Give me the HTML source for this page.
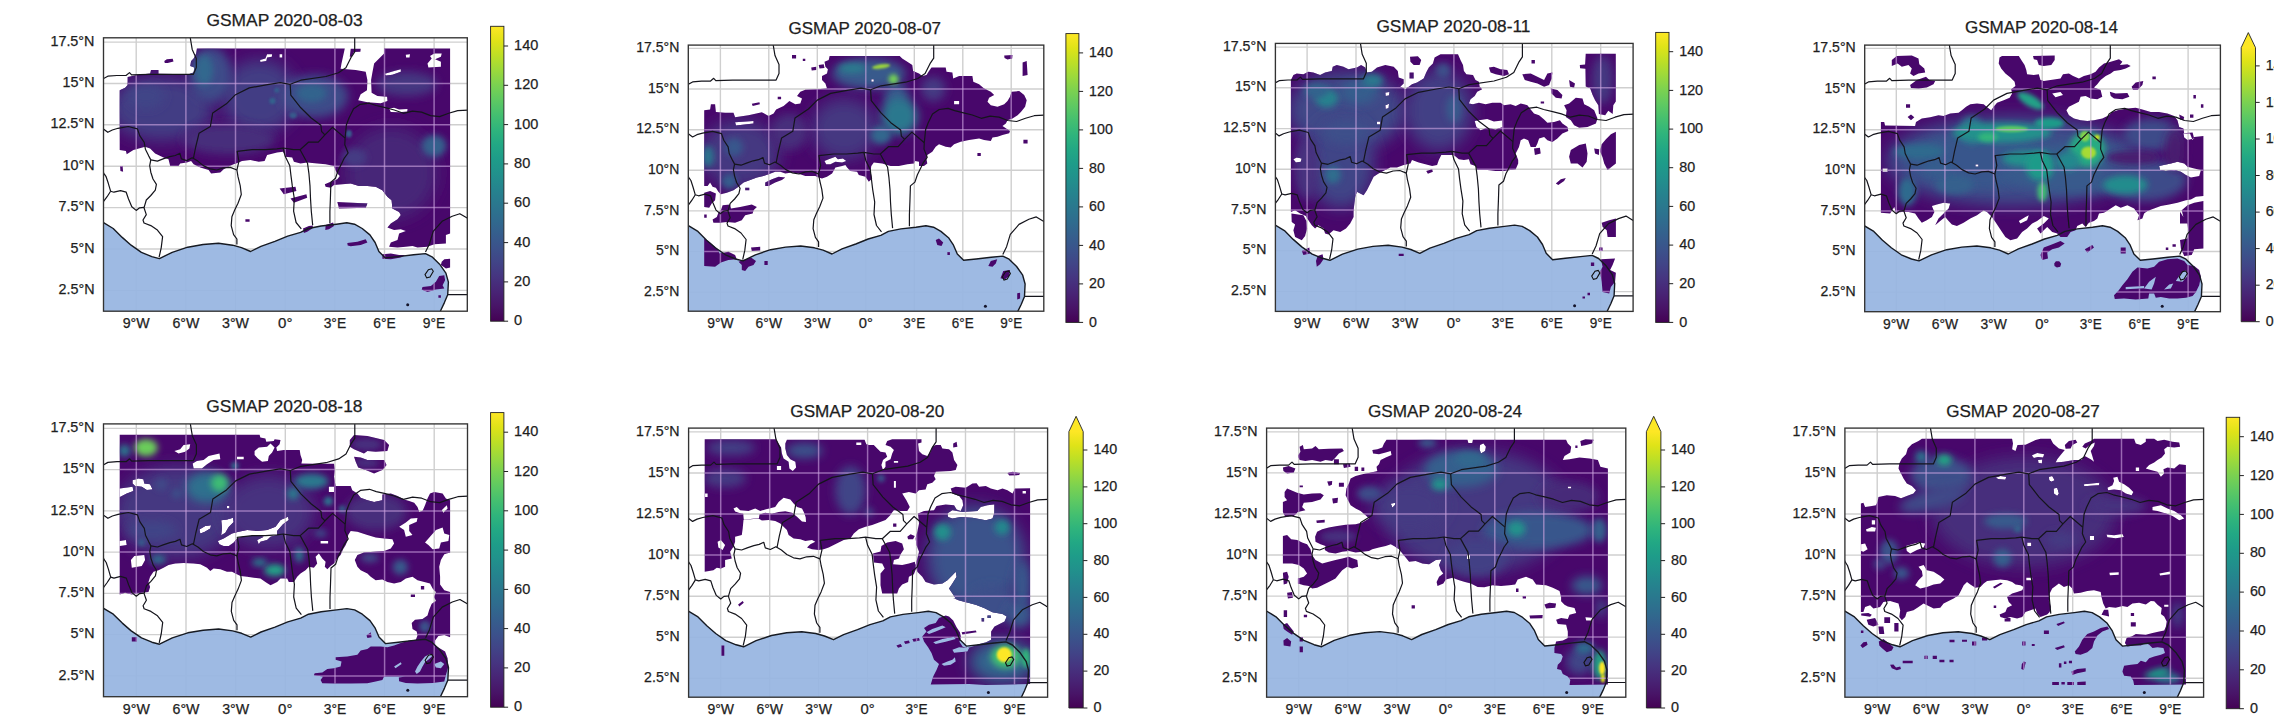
<!DOCTYPE html>
<html><head><meta charset="utf-8"><title>GSMAP</title>
<style>html,body{margin:0;padding:0;background:#fff}svg{display:block}text{font-family:"Liberation Sans",sans-serif;fill:#1e1e1e;stroke:#1e1e1e;stroke-width:0.25px}</style>
</head><body>
<svg width="2274" height="718" viewBox="0 0 2274 718">
<defs>
<linearGradient id="vg" x1="0" y1="1" x2="0" y2="0"><stop offset="0%" stop-color="#440154"/><stop offset="5%" stop-color="#481467"/><stop offset="10%" stop-color="#482475"/><stop offset="15%" stop-color="#463480"/><stop offset="20%" stop-color="#414487"/><stop offset="25%" stop-color="#3b528b"/><stop offset="30%" stop-color="#355f8d"/><stop offset="35%" stop-color="#2f6c8e"/><stop offset="40%" stop-color="#2a788e"/><stop offset="45%" stop-color="#25848e"/><stop offset="50%" stop-color="#21918c"/><stop offset="55%" stop-color="#1e9c89"/><stop offset="60%" stop-color="#22a884"/><stop offset="65%" stop-color="#2fb47c"/><stop offset="70%" stop-color="#44bf70"/><stop offset="75%" stop-color="#5ec962"/><stop offset="80%" stop-color="#7ad151"/><stop offset="85%" stop-color="#9bd93c"/><stop offset="90%" stop-color="#bddf26"/><stop offset="95%" stop-color="#dfe318"/><stop offset="100%" stop-color="#fde725"/></linearGradient>
<filter id="bl2" x="-50%" y="-50%" width="200%" height="200%"><feGaussianBlur stdDeviation="1.2"/></filter>
<filter id="bl3" x="-50%" y="-50%" width="200%" height="200%"><feGaussianBlur stdDeviation="1.9"/></filter>
<filter id="bl5" x="-50%" y="-50%" width="200%" height="200%"><feGaussianBlur stdDeviation="3"/></filter>
<filter id="bl8" x="-50%" y="-50%" width="200%" height="200%"><feGaussianBlur stdDeviation="5"/></filter>
<filter id="bl12" x="-50%" y="-50%" width="200%" height="200%"><feGaussianBlur stdDeviation="8"/></filter>
</defs>
<rect width="2274" height="718" fill="#fff"/>
<g id="p1">
<clipPath id="ax1"><rect x="103.5" y="37.8" width="363.8" height="273.4"/></clipPath>
<g clip-path="url(#ax1)">
<g stroke="#cfcfcf" stroke-width="1.4"><line x1="136.2" y1="37.8" x2="136.2" y2="311.2"/><line x1="185.9" y1="37.8" x2="185.9" y2="311.2"/><line x1="235.5" y1="37.8" x2="235.5" y2="311.2"/><line x1="285.2" y1="37.8" x2="285.2" y2="311.2"/><line x1="334.9" y1="37.8" x2="334.9" y2="311.2"/><line x1="384.5" y1="37.8" x2="384.5" y2="311.2"/><line x1="434.1" y1="37.8" x2="434.1" y2="311.2"/><line x1="103.5" y1="290.4" x2="467.3" y2="290.4"/><line x1="103.5" y1="249" x2="467.3" y2="249"/><line x1="103.5" y1="207.6" x2="467.3" y2="207.6"/><line x1="103.5" y1="166.2" x2="467.3" y2="166.2"/><line x1="103.5" y1="124.8" x2="467.3" y2="124.8"/><line x1="103.5" y1="83.5" x2="467.3" y2="83.5"/><line x1="103.5" y1="42.1" x2="467.3" y2="42.1"/></g>
<path d="M99.8,220.8 L103.5,222.7 L113.2,228.5 L122.2,237.4 L131.1,245.2 L141.4,252.3 L151.8,256.6 L159.4,258.6 L172.2,252.3 L187.7,247.2 L203.1,244.5 L218.5,243.3 L232.6,245.2 L241.5,247.7 L250.6,251.5 L260.9,246.3 L274.9,241.4 L287.7,236.2 L300.6,232.4 L308.4,228.5 L321.1,226 L336.5,224.2 L346.8,222.8 L354.5,224.2 L362.2,228.5 L369.9,234.9 L375.1,242.5 L378.9,251.5 L385.3,257.9 L398.2,256.6 L413.6,254.8 L425.5,253.6 L432,256.8 L439.6,264.2 L445.9,273.1 L448.4,282.1 L447.7,294.7 L444.4,302.6 L440.8,310.2 L439.1,315.2 L439.1,323.5 L94.9,323.5Z" fill="#98b6e1" fill-opacity="0.94"/>
<path d="M119.7,90.2 L125.1,87.7 L127.6,85.1 L127.6,77.1 L136.8,75.1 L150.1,73.4 L151.0,70.1 L158.5,70.1 L158.5,73.8 L188.6,74.3 L193.6,72.6 L194.4,67.6 L190.2,65.9 L191.1,60.9 L193.6,58.4 L196.1,53.4 L196.9,48.4 L344.8,48.4 L341.5,63.4 L340.6,68.8 L355.7,70.1 L365.7,71.8 L367.4,80.1 L367.0,90.2 L360.7,94.3 L358.2,100.2 L367.4,102.2 L380.7,103.2 L387.4,101.0 L387.1,96.8 L377.4,96.0 L371.6,92.7 L371.1,80.1 L372.4,72.6 L374.1,63.4 L379.1,58.4 L384.1,53.4 L384.1,48.4 L450.1,48.4 L450.1,233.4 L445.9,235.1 L445.9,243.4 L434.2,244.2 L427.5,246.8 L417.5,247.6 L412.5,245.9 L405.8,246.8 L397.5,247.6 L389.1,246.8 L390.8,242.6 L397.5,240.1 L399.1,233.4 L405.8,230.9 L400.8,229.2 L394.1,230.0 L387.4,227.5 L390.8,223.4 L397.5,219.2 L400.8,215.0 L399.1,211.9 L392.4,208.5 L391.6,200.2 L387.4,196.8 L382.4,190.2 L375.7,186.8 L367.4,186.0 L359.0,186.0 L350.7,183.5 L342.3,184.3 L334.0,185.1 L330.6,187.7 L325.6,186.8 L324.8,184.3 L330.6,181.8 L337.3,179.3 L339.8,176.0 L336.5,172.6 L334.0,165.9 L325.6,164.3 L317.2,163.4 L307.2,162.6 L300.5,163.4 L293.9,161.8 L292.2,157.6 L285.5,156.7 L283.0,151.7 L277.1,152.6 L267.1,155.1 L264.6,160.9 L258.8,161.8 L250.4,160.1 L242.0,160.9 L238.7,162.6 L233.7,164.3 L229.5,165.9 L223.7,169.3 L220.3,172.6 L211.1,173.4 L208.6,170.1 L200.3,167.6 L193.6,164.3 L191.1,160.9 L186.9,162.6 L180.2,163.4 L178.5,165.9 L170.2,165.9 L168.5,159.2 L163.5,157.6 L155.1,153.4 L150.1,148.4 L145.1,146.7 L133.4,150.1 L126.7,154.2 L125.9,150.9 L119.7,150.1Z M434.2,53.4 L441.7,53.4 L440.9,56.7 L435.1,59.2 L440.9,61.8 L440.9,66.8 L428.4,67.6 L427.5,63.4 L431.7,58.4 L430.0,55.9Z M405.8,54.7 L410.0,54.2 L409.5,57.6 L406.1,57.6Z M384.9,73.8 L394.1,70.9 L400.8,69.3 L400.8,71.8 L392.4,74.8 L385.8,75.5Z M389.1,108.5 L394.1,107.7 L399.1,109.4 L407.5,108.9 L407.2,111.6 L399.1,112.2 L390.8,111.9Z M267.1,54.2 L272.1,54.2 L271.8,56.7 L267.1,57.6 L266.3,60.9 L260.4,62.1 L260.1,60.1 L265.4,58.4Z M279.6,54.2 L282.2,54.2 L282.2,57.6 L279.6,57.6Z M350.7,48.7 L360.7,48.7 L360.4,51.7 L354.0,52.1 L351.5,56.7 L349.8,56.7Z M164.3,60.9 L166.8,59.2 L172.7,58.7 L173.5,61.4 L167.7,63.1 L164.8,63.1Z M382.4,254.3 L390.8,253.4 L399.1,255.1 L405.8,255.1 L400.8,257.6 L390.8,259.3 L382.4,258.8Z M444.3,259.3 L450.1,258.8 L450.1,267.6 L445.9,268.5 L440.9,265.1 L441.7,261.8Z M439.2,276.0 L444.3,275.2 L445.1,280.2 L442.6,285.2 L444.3,288.5 L435.9,289.4 L427.5,291.9 L421.7,289.4 L422.5,286.9 L430.9,286.0 L435.9,281.8Z M347.3,243.1 L357.4,241.7 L365.7,239.2 L367.4,242.6 L360.7,245.1 L350.7,246.2 L347.7,245.6Z M303.0,228.4 L308.9,225.9 L313.1,225.4 L312.2,228.4 L307.2,231.7 L303.9,233.0Z M325.6,225.0 L333.1,222.5 L334.0,225.9 L328.9,229.2 L325.3,230.0Z M438.4,295.2 L440.9,295.2 L440.9,297.7 L438.4,297.7Z M245.4,219.2 L249.6,219.2 L249.6,221.7 L245.4,221.7Z M279.6,188.5 L295.5,186.8 L296.4,191.0 L283.8,194.3Z M290.5,198.5 L306.4,194.3 L307.2,197.7 L293.9,202.7Z M337.3,201.9 L367.4,203.5 L365.7,207.7 L339.0,208.5Z M120.1,165.9 L122.6,165.9 L123.1,171.8 L120.4,170.9Z" fill="#48076b" fill-rule="evenodd"/>
<clipPath id="bc1"><path d="M119.7,90.2 L125.1,87.7 L127.6,85.1 L127.6,77.1 L136.8,75.1 L150.1,73.4 L151.0,70.1 L158.5,70.1 L158.5,73.8 L188.6,74.3 L193.6,72.6 L194.4,67.6 L190.2,65.9 L191.1,60.9 L193.6,58.4 L196.1,53.4 L196.9,48.4 L344.8,48.4 L341.5,63.4 L340.6,68.8 L355.7,70.1 L365.7,71.8 L367.4,80.1 L367.0,90.2 L360.7,94.3 L358.2,100.2 L367.4,102.2 L380.7,103.2 L387.4,101.0 L387.1,96.8 L377.4,96.0 L371.6,92.7 L371.1,80.1 L372.4,72.6 L374.1,63.4 L379.1,58.4 L384.1,53.4 L384.1,48.4 L450.1,48.4 L450.1,233.4 L445.9,235.1 L445.9,243.4 L434.2,244.2 L427.5,246.8 L417.5,247.6 L412.5,245.9 L405.8,246.8 L397.5,247.6 L389.1,246.8 L390.8,242.6 L397.5,240.1 L399.1,233.4 L405.8,230.9 L400.8,229.2 L394.1,230.0 L387.4,227.5 L390.8,223.4 L397.5,219.2 L400.8,215.0 L399.1,211.9 L392.4,208.5 L391.6,200.2 L387.4,196.8 L382.4,190.2 L375.7,186.8 L367.4,186.0 L359.0,186.0 L350.7,183.5 L342.3,184.3 L334.0,185.1 L330.6,187.7 L325.6,186.8 L324.8,184.3 L330.6,181.8 L337.3,179.3 L339.8,176.0 L336.5,172.6 L334.0,165.9 L325.6,164.3 L317.2,163.4 L307.2,162.6 L300.5,163.4 L293.9,161.8 L292.2,157.6 L285.5,156.7 L283.0,151.7 L277.1,152.6 L267.1,155.1 L264.6,160.9 L258.8,161.8 L250.4,160.1 L242.0,160.9 L238.7,162.6 L233.7,164.3 L229.5,165.9 L223.7,169.3 L220.3,172.6 L211.1,173.4 L208.6,170.1 L200.3,167.6 L193.6,164.3 L191.1,160.9 L186.9,162.6 L180.2,163.4 L178.5,165.9 L170.2,165.9 L168.5,159.2 L163.5,157.6 L155.1,153.4 L150.1,148.4 L145.1,146.7 L133.4,150.1 L126.7,154.2 L125.9,150.9 L119.7,150.1Z M434.2,53.4 L441.7,53.4 L440.9,56.7 L435.1,59.2 L440.9,61.8 L440.9,66.8 L428.4,67.6 L427.5,63.4 L431.7,58.4 L430.0,55.9Z M405.8,54.7 L410.0,54.2 L409.5,57.6 L406.1,57.6Z M384.9,73.8 L394.1,70.9 L400.8,69.3 L400.8,71.8 L392.4,74.8 L385.8,75.5Z M389.1,108.5 L394.1,107.7 L399.1,109.4 L407.5,108.9 L407.2,111.6 L399.1,112.2 L390.8,111.9Z M267.1,54.2 L272.1,54.2 L271.8,56.7 L267.1,57.6 L266.3,60.9 L260.4,62.1 L260.1,60.1 L265.4,58.4Z M279.6,54.2 L282.2,54.2 L282.2,57.6 L279.6,57.6Z M350.7,48.7 L360.7,48.7 L360.4,51.7 L354.0,52.1 L351.5,56.7 L349.8,56.7Z M164.3,60.9 L166.8,59.2 L172.7,58.7 L173.5,61.4 L167.7,63.1 L164.8,63.1Z M382.4,254.3 L390.8,253.4 L399.1,255.1 L405.8,255.1 L400.8,257.6 L390.8,259.3 L382.4,258.8Z M444.3,259.3 L450.1,258.8 L450.1,267.6 L445.9,268.5 L440.9,265.1 L441.7,261.8Z M439.2,276.0 L444.3,275.2 L445.1,280.2 L442.6,285.2 L444.3,288.5 L435.9,289.4 L427.5,291.9 L421.7,289.4 L422.5,286.9 L430.9,286.0 L435.9,281.8Z M347.3,243.1 L357.4,241.7 L365.7,239.2 L367.4,242.6 L360.7,245.1 L350.7,246.2 L347.7,245.6Z M303.0,228.4 L308.9,225.9 L313.1,225.4 L312.2,228.4 L307.2,231.7 L303.9,233.0Z M325.6,225.0 L333.1,222.5 L334.0,225.9 L328.9,229.2 L325.3,230.0Z M438.4,295.2 L440.9,295.2 L440.9,297.7 L438.4,297.7Z M245.4,219.2 L249.6,219.2 L249.6,221.7 L245.4,221.7Z M279.6,188.5 L295.5,186.8 L296.4,191.0 L283.8,194.3Z M290.5,198.5 L306.4,194.3 L307.2,197.7 L293.9,202.7Z M337.3,201.9 L367.4,203.5 L365.7,207.7 L339.0,208.5Z M120.1,165.9 L122.6,165.9 L123.1,171.8 L120.4,170.9Z" clip-rule="evenodd"/></clipPath>
<g clip-path="url(#bc1)">
<ellipse cx="161.3" cy="108.6" rx="52.1" ry="32.2" fill="#433e84" filter="url(#bl12)"/>
<ellipse cx="259.4" cy="96.3" rx="38.3" ry="36.8" fill="#433e84" filter="url(#bl12)"/>
<ellipse cx="391.1" cy="172.9" rx="46" ry="46" fill="#472878" filter="url(#bl12)"/>
<ellipse cx="228.7" cy="139.2" rx="46" ry="15.3" fill="#472f7c" filter="url(#bl8)"/>
<ellipse cx="406.5" cy="84" rx="30.6" ry="12.3" fill="#453781" filter="url(#bl8)"/>
<ellipse cx="146" cy="96.3" rx="18.4" ry="12.3" fill="#414487" filter="url(#bl8)"/>
<ellipse cx="210.3" cy="74.8" rx="21.5" ry="27.6" fill="#3e4b89" filter="url(#bl8)"/>
<ellipse cx="314.5" cy="96.3" rx="33.7" ry="21.5" fill="#3e4b89" filter="url(#bl8)"/>
<ellipse cx="204.2" cy="70.2" rx="9.2" ry="15.3" fill="#31688e" filter="url(#bl5)"/>
<ellipse cx="311.5" cy="93.2" rx="15.3" ry="9.2" fill="#33648d" filter="url(#bl5)"/>
<ellipse cx="272.5" cy="100.9" rx="3.1" ry="3.1" fill="#34618d" filter="url(#bl2)"/>
<ellipse cx="276.8" cy="90.2" rx="2.5" ry="2.5" fill="#365d8d" filter="url(#bl2)"/>
<ellipse cx="293.1" cy="115.3" rx="3.7" ry="3.1" fill="#375a8c" filter="url(#bl2)"/>
<ellipse cx="434" cy="145.9" rx="12.3" ry="11" fill="#34618d" filter="url(#bl5)"/>
<ellipse cx="354.4" cy="157.6" rx="12.3" ry="9.2" fill="#443b83" filter="url(#bl5)"/>
<ellipse cx="348.9" cy="133.7" rx="3.1" ry="3.7" fill="#375a8c" filter="url(#bl2)"/>
<g stroke="rgba(205,165,225,0.62)" stroke-width="1.5"><line x1="136.2" y1="37.8" x2="136.2" y2="311.2"/><line x1="185.9" y1="37.8" x2="185.9" y2="311.2"/><line x1="235.5" y1="37.8" x2="235.5" y2="311.2"/><line x1="285.2" y1="37.8" x2="285.2" y2="311.2"/><line x1="334.9" y1="37.8" x2="334.9" y2="311.2"/><line x1="384.5" y1="37.8" x2="384.5" y2="311.2"/><line x1="434.1" y1="37.8" x2="434.1" y2="311.2"/><line x1="103.5" y1="290.4" x2="467.3" y2="290.4"/><line x1="103.5" y1="249" x2="467.3" y2="249"/><line x1="103.5" y1="207.6" x2="467.3" y2="207.6"/><line x1="103.5" y1="166.2" x2="467.3" y2="166.2"/><line x1="103.5" y1="124.8" x2="467.3" y2="124.8"/><line x1="103.5" y1="83.5" x2="467.3" y2="83.5"/><line x1="103.5" y1="42.1" x2="467.3" y2="42.1"/></g>
</g>
<path d="M159.1,257.2 L161.2,247.8 L162.6,236.7 L157.4,230.1 L150.8,225.6 L144,223 L143,220 L146.3,214.6 L144,207.8 L146.3,200 L150.8,195.5 L155.3,190.1 L156.4,184.4 L153,179 L150.8,172.2 L149.7,165.6 L150.8,159.9" fill="none" stroke="#15151c" stroke-width="1.2" stroke-linejoin="round"/>
<path d="M150.8,159.9 L157.4,161.1 L163.1,158.9 L169.8,156.6 L175.3,155.5 L179.9,153.3 L181.4,158.9 L186.6,160.6 L192.2,157.8 L197.8,161.1 L203.3,165.6 L210.1,168.9 L216.7,170 L223.5,167.9 L230.3,167.4 L236.9,170" fill="none" stroke="#15151c" stroke-width="1.2" stroke-linejoin="round"/>
<path d="M236.9,170 L238,176.7 L240.2,185.6 L241.3,194.5 L238,203.3 L234.7,210.1 L231.9,216.7 L231.2,225.6 L233.6,234.6 L236.9,239 L236.9,244.5" fill="none" stroke="#15151c" stroke-width="1.2" stroke-linejoin="round"/>
<path d="M144,207.4 L139.6,207.8 L136.2,210.4 L131.8,206.8 L128.5,199 L126.2,192.2 L120.5,190.6 L113.9,192.2 L110.6,191.2" fill="none" stroke="#15151c" stroke-width="1.2" stroke-linejoin="round"/>
<path d="M110.6,191.2 L108.3,183.3 L106.1,176.7 L103.8,173.3 L101.5,167.9" fill="none" stroke="#15151c" stroke-width="1.2" stroke-linejoin="round"/>
<path d="M110.6,191.2 L107.1,196.7 L103.8,201.1 L99.8,205.9" fill="none" stroke="#15151c" stroke-width="1.2" stroke-linejoin="round"/>
<path d="M301.3,228.9 L296.1,222.5 L293.6,211.2 L294.3,198.5 L292.3,185.9 L291,175.8 L289.8,165.7 L285.2,156.3 L283.2,148" fill="none" stroke="#15151c" stroke-width="1.2" stroke-linejoin="round"/>
<path d="M312.7,225.1 L311.3,211.2 L310.5,198.5 L310,185.9 L308.9,173.3 L307.5,163.2 L300.1,149.7" fill="none" stroke="#15151c" stroke-width="1.2" stroke-linejoin="round"/>
<path d="M329.9,223.3 L329.9,211.2 L330.4,198.5 L330.9,182.1 L335.5,178.3 L338,170.7 L341.8,163.2 L344.3,158.1 L348.1,153 L344.8,144.7 L345.1,138.1" fill="none" stroke="#15151c" stroke-width="1.2" stroke-linejoin="round"/>
<path d="M425.5,252.1 L429.4,244 L433.2,231.4 L442.1,221.3 L452.2,216.2 L459.8,213.7 L466.3,217.5 L472.2,220.8" fill="none" stroke="#15151c" stroke-width="1.2" stroke-linejoin="round"/>
<path d="M447.7,294.7 L472.2,294.7" fill="none" stroke="#15151c" stroke-width="1.2" stroke-linejoin="round"/>
<path d="M99.8,80.2 L103.1,78.8 L107.8,76.2 L116.9,75.5 L126,75.5 L129.5,72.6 L131.6,74.9 L148.8,74.4 L171.7,74.4 L193.3,74.4 L196.3,67.6 L196.3,58.5 L192.2,49.4 L189.9,35.5" fill="none" stroke="#15151c" stroke-width="1.2" stroke-linejoin="round"/>
<path d="M99.8,126.5 L103.1,128.8 L107.8,132.3 L112.3,130 L118,128.3 L128.3,126.5 L137.4,128.8 L139.7,135.6 L144.2,142.4 L145.4,149.2 L148.8,156.1 L150.8,159.9" fill="none" stroke="#15151c" stroke-width="1.2" stroke-linejoin="round"/>
<path d="M193.3,158.8 L195.7,147 L199,133.3 L210.4,126.5 L212.7,112.9 L226.4,103.8 L235.5,94.7 L249.3,87.9 L267.5,84.6 L280.2,82.6 L290.2,84.3" fill="none" stroke="#15151c" stroke-width="1.2" stroke-linejoin="round"/>
<path d="M290.2,84.3 L290.8,95.2 L300.8,107.8 L310.9,117.7 L320.9,125.3 L321.6,131.5 L324.9,134.8" fill="none" stroke="#15151c" stroke-width="1.2" stroke-linejoin="round"/>
<path d="M236.9,170 L238.9,161.3 L237.2,151.3 L252.1,149.7 L265.3,149.7 L276.9,148.8 L283.2,148 L293.5,149.7 L300.1,149.7 L308.4,142.2 L318.3,142.2 L324.9,134.8" fill="none" stroke="#15151c" stroke-width="1.2" stroke-linejoin="round"/>
<path d="M324.9,134.8 L332.4,127.3 L345.1,138.1" fill="none" stroke="#15151c" stroke-width="1.2" stroke-linejoin="round"/>
<path d="M345.1,138.1 L346.4,124.8 L349.1,117.7 L353.6,108.8 L360.3,104.3 L369.4,103.2 L376.2,105.5 L385.3,107.6 L394.3,110 L403.4,113.3 L412.5,111.1 L421.6,112.1 L430.5,115.6 L439.6,116.6 L448.7,113.3 L457.7,110.6 L472.2,110" fill="none" stroke="#15151c" stroke-width="1.2" stroke-linejoin="round"/>
<path d="M290.2,84.3 L300.8,80.2 L325.9,76.5 L338.5,72.7 L345.9,67.8 L350.9,57.7 L354.7,52 L354.7,35.5" fill="none" stroke="#15151c" stroke-width="1.2" stroke-linejoin="round"/>
<path d="M425,274.6 L426.7,277.9 L430,277.1 L433.3,271.3 L431.7,268.8 L428.4,269.7Z" fill="none" stroke="#111" stroke-width="1.1"/>
<circle cx="407.7" cy="304.7" r="1.5" fill="#14142a"/>
<path d="M99.8,220.8 L103.5,222.7 L113.2,228.5 L122.2,237.4 L131.1,245.2 L141.4,252.3 L151.8,256.6 L159.4,258.6 L172.2,252.3 L187.7,247.2 L203.1,244.5 L218.5,243.3 L232.6,245.2 L241.5,247.7 L250.6,251.5 L260.9,246.3 L274.9,241.4 L287.7,236.2 L300.6,232.4 L308.4,228.5 L321.1,226 L336.5,224.2 L346.8,222.8 L354.5,224.2 L362.2,228.5 L369.9,234.9 L375.1,242.5 L378.9,251.5 L385.3,257.9 L398.2,256.6 L413.6,254.8 L425.5,253.6 L432,256.8 L439.6,264.2 L445.9,273.1 L448.4,282.1 L447.7,294.7 L444.4,302.6 L440.8,310.2 L439.1,315.2" fill="none" stroke="#161a22" stroke-width="1.4" stroke-linejoin="round"/>
</g>
<rect x="103.5" y="37.8" width="363.8" height="273.4" fill="none" stroke="#333" stroke-width="1.35"/>
<text x="94.5" y="294" text-anchor="end" font-size="14.6" textLength="36" lengthAdjust="spacingAndGlyphs">2.5°N</text>
<text x="94.5" y="252.6" text-anchor="end" font-size="14.6" textLength="23.9" lengthAdjust="spacingAndGlyphs">5°N</text>
<text x="94.5" y="211.2" text-anchor="end" font-size="14.6" textLength="36" lengthAdjust="spacingAndGlyphs">7.5°N</text>
<text x="94.5" y="169.8" text-anchor="end" font-size="14.6" textLength="32" lengthAdjust="spacingAndGlyphs">10°N</text>
<text x="94.5" y="128.4" text-anchor="end" font-size="14.6" textLength="44.1" lengthAdjust="spacingAndGlyphs">12.5°N</text>
<text x="94.5" y="87.1" text-anchor="end" font-size="14.6" textLength="32" lengthAdjust="spacingAndGlyphs">15°N</text>
<text x="94.5" y="45.7" text-anchor="end" font-size="14.6" textLength="44.1" lengthAdjust="spacingAndGlyphs">17.5°N</text>
<text x="136.2" y="328" text-anchor="middle" font-size="14.6" textLength="27" lengthAdjust="spacingAndGlyphs">9°W</text>
<text x="185.9" y="328" text-anchor="middle" font-size="14.6" textLength="27" lengthAdjust="spacingAndGlyphs">6°W</text>
<text x="235.5" y="328" text-anchor="middle" font-size="14.6" textLength="27" lengthAdjust="spacingAndGlyphs">3°W</text>
<text x="285.2" y="328" text-anchor="middle" font-size="14.6" textLength="14.4" lengthAdjust="spacingAndGlyphs">0°</text>
<text x="334.9" y="328" text-anchor="middle" font-size="14.6" textLength="22.5" lengthAdjust="spacingAndGlyphs">3°E</text>
<text x="384.5" y="328" text-anchor="middle" font-size="14.6" textLength="22.5" lengthAdjust="spacingAndGlyphs">6°E</text>
<text x="434.1" y="328" text-anchor="middle" font-size="14.6" textLength="22.5" lengthAdjust="spacingAndGlyphs">9°E</text>
<text x="284.6" y="25.8" text-anchor="middle" font-size="16.1" textLength="156.2" lengthAdjust="spacingAndGlyphs">GSMAP 2020-08-03</text>
<rect x="490.6" y="26.3" width="13.3" height="294.9" fill="url(#vg)"/>
<rect x="490.6" y="26.3" width="13.3" height="294.9" fill="none" stroke="#222" stroke-width="0.9"/>
<line x1="503.9" y1="321.2" x2="508.1" y2="321.2" stroke="#222" stroke-width="1"/>
<text x="514.1" y="325.3" text-anchor="start" font-size="14.6" textLength="8.1" lengthAdjust="spacingAndGlyphs">0</text>
<line x1="503.9" y1="281.9" x2="508.1" y2="281.9" stroke="#222" stroke-width="1"/>
<text x="514.1" y="286" text-anchor="start" font-size="14.6" textLength="16.2" lengthAdjust="spacingAndGlyphs">20</text>
<line x1="503.9" y1="242.6" x2="508.1" y2="242.6" stroke="#222" stroke-width="1"/>
<text x="514.1" y="246.7" text-anchor="start" font-size="14.6" textLength="16.2" lengthAdjust="spacingAndGlyphs">40</text>
<line x1="503.9" y1="203.2" x2="508.1" y2="203.2" stroke="#222" stroke-width="1"/>
<text x="514.1" y="207.3" text-anchor="start" font-size="14.6" textLength="16.2" lengthAdjust="spacingAndGlyphs">60</text>
<line x1="503.9" y1="163.9" x2="508.1" y2="163.9" stroke="#222" stroke-width="1"/>
<text x="514.1" y="168" text-anchor="start" font-size="14.6" textLength="16.2" lengthAdjust="spacingAndGlyphs">80</text>
<line x1="503.9" y1="124.6" x2="508.1" y2="124.6" stroke="#222" stroke-width="1"/>
<text x="514.1" y="128.7" text-anchor="start" font-size="14.6" textLength="24.2" lengthAdjust="spacingAndGlyphs">100</text>
<line x1="503.9" y1="85.3" x2="508.1" y2="85.3" stroke="#222" stroke-width="1"/>
<text x="514.1" y="89.4" text-anchor="start" font-size="14.6" textLength="24.2" lengthAdjust="spacingAndGlyphs">120</text>
<line x1="503.9" y1="46" x2="508.1" y2="46" stroke="#222" stroke-width="1"/>
<text x="514.1" y="50.1" text-anchor="start" font-size="14.6" textLength="24.2" lengthAdjust="spacingAndGlyphs">140</text>
</g>
<g id="p2">
<clipPath id="ax2"><rect x="688.3" y="45.1" width="355.5" height="266.1"/></clipPath>
<g clip-path="url(#ax2)">
<g stroke="#cfcfcf" stroke-width="1.4"><line x1="720.4" y1="45.1" x2="720.4" y2="311.2"/><line x1="768.8" y1="45.1" x2="768.8" y2="311.2"/><line x1="817.3" y1="45.1" x2="817.3" y2="311.2"/><line x1="865.8" y1="45.1" x2="865.8" y2="311.2"/><line x1="914.3" y1="45.1" x2="914.3" y2="311.2"/><line x1="962.8" y1="45.1" x2="962.8" y2="311.2"/><line x1="1011.2" y1="45.1" x2="1011.2" y2="311.2"/><line x1="688.3" y1="292.1" x2="1043.8" y2="292.1"/><line x1="688.3" y1="251.5" x2="1043.8" y2="251.5"/><line x1="688.3" y1="210.9" x2="1043.8" y2="210.9"/><line x1="688.3" y1="170.3" x2="1043.8" y2="170.3"/><line x1="688.3" y1="129.7" x2="1043.8" y2="129.7"/><line x1="688.3" y1="89" x2="1043.8" y2="89"/><line x1="688.3" y1="48.4" x2="1043.8" y2="48.4"/></g>
<path d="M684.8,223.9 L688.4,225.7 L697.9,231.4 L706.6,240.2 L715.4,247.8 L725.4,254.8 L735.6,259 L743,260.9 L755.4,254.8 L770.6,249.7 L785.6,247.1 L800.7,246 L814.4,247.8 L823.1,250.2 L832,254 L842,248.9 L855.8,244 L868.2,239 L880.8,235.3 L888.4,231.4 L900.9,228.9 L915.9,227.2 L925.9,225.8 L933.5,227.2 L940.9,231.4 L948.5,237.7 L953.5,245.2 L957.3,254 L963.6,260.3 L976.2,259 L991.2,257.2 L1002.8,256.1 L1009.1,259.2 L1016.6,266.5 L1022.7,275.2 L1025.1,284 L1024.5,296.4 L1021.3,304.2 L1017.7,311.6 L1016.1,316.5 L1016.1,324.6 L680,324.6Z" fill="#98b6e1" fill-opacity="0.94"/>
<path d="M704.2,110.2 L710.1,109.4 L710.9,104.3 L715.1,104.3 L715.9,111.9 L725.1,112.7 L733.5,112.7 L735.1,117.2 L748.5,115.2 L761.9,112.2 L768.6,116.0 L773.6,113.5 L776.1,109.4 L783.6,106.0 L789.4,101.0 L795.3,104.3 L800.3,103.5 L802.0,98.5 L797.0,96.0 L800.3,91.8 L805.3,89.8 L817.0,89.3 L827.0,88.5 L825.4,83.4 L822.0,80.1 L822.0,75.9 L827.0,73.4 L827.9,69.2 L825.4,66.7 L824.5,61.7 L828.7,60.1 L829.6,55.9 L899.7,55.9 L902.2,58.4 L907.3,61.7 L912.3,65.1 L913.1,70.9 L919.0,73.4 L922.3,75.9 L926.5,75.1 L929.0,70.9 L931.5,67.6 L945.7,67.6 L946.5,71.8 L952.4,72.6 L953.2,78.4 L959.1,75.9 L972.4,75.9 L973.3,81.8 L979.1,84.3 L984.1,88.5 L990.8,91.8 L994.2,95.1 L989.1,97.7 L987.5,101.8 L990.8,105.2 L997.5,106.8 L1004.2,104.3 L1007.5,101.0 L1010.0,96.8 L1011.7,91.8 L1019.2,91.0 L1024.2,95.1 L1026.7,100.2 L1025.1,106.8 L1020.9,111.9 L1017.6,115.2 L1012.5,118.5 L1007.5,120.2 L1005.9,123.6 L1002.5,126.1 L1010.0,131.1 L1009.2,133.3 L1002.5,135.0 L997.5,136.7 L992.5,137.5 L990.8,140.9 L984.1,140.0 L979.1,138.4 L969.1,140.0 L960.7,141.7 L954.1,144.2 L950.7,147.5 L945.7,146.7 L939.0,144.2 L935.7,146.7 L932.3,151.7 L927.3,155.1 L926.5,159.2 L927.3,163.4 L924.0,165.9 L919.0,165.9 L919.0,161.8 L914.8,160.9 L913.9,163.4 L907.3,164.3 L898.9,165.9 L890.5,165.9 L882.2,163.4 L873.8,162.6 L871.3,165.9 L870.5,171.8 L872.2,178.5 L868.8,181.8 L865.5,176.8 L858.8,175.1 L857.1,171.8 L850.4,170.9 L847.1,167.6 L845.4,165.1 L842.1,165.9 L835.4,167.6 L832.1,173.4 L827.0,176.8 L822.0,178.5 L818.7,177.6 L815.3,176.0 L805.3,176.0 L798.6,173.8 L792.0,172.6 L785.3,173.4 L780.3,171.8 L775.2,171.8 L768.6,174.3 L763.5,176.0 L756.9,177.6 L750.2,180.1 L743.5,182.6 L738.5,186.8 L733.5,190.2 L726.8,192.7 L720.9,194.3 L718.4,191.8 L715.9,187.7 L712.6,186.8 L710.1,182.6 L707.6,186.0 L704.2,186.0Z M824.5,160.9 L828.7,159.2 L835.4,156.7 L837.9,159.2 L842.9,158.4 L846.3,160.9 L842.1,162.6 L835.4,161.8 L830.4,164.3 L826.2,164.3Z M735.1,122.2 L753.5,121.0 L753.5,123.6 L736.0,125.6Z M954.1,101.0 L959.1,101.0 L959.1,104.3 L954.1,104.3Z M871.3,79.3 L873.8,79.3 L873.8,81.8 L871.3,81.8Z M792.0,55.0 L796.1,55.0 L796.1,58.4 L792.0,58.4Z M802.8,58.7 L805.3,58.7 L805.3,60.9 L802.8,60.9Z M811.2,67.6 L816.2,66.7 L816.2,70.1 L811.7,70.4Z M818.7,65.1 L823.7,64.2 L824.5,68.1 L819.5,68.4Z M1004.2,55.4 L1012.5,55.0 L1012.2,58.4 L1007.5,59.4 L1004.5,58.0Z M1022.6,62.6 L1026.7,60.9 L1027.6,75.1 L1022.6,75.9Z M1023.4,139.8 L1027.6,139.8 L1027.6,143.6 L1023.4,143.6Z M751.8,103.8 L759.4,102.2 L759.9,104.3 L752.7,106.0Z M777.7,96.8 L781.1,96.8 L781.1,99.3 L777.7,99.3Z M704.2,192.7 L710.1,191.0 L715.9,193.5 L715.1,200.2 L711.7,203.5 L709.2,207.7 L704.2,206.9Z M765.2,182.6 L771.9,179.3 L778.6,176.8 L785.3,177.6 L781.9,180.1 L775.2,182.6 L768.6,186.0 L765.2,186.0Z M720.9,210.2 L722.6,205.2 L730.1,204.4 L731.0,208.5 L740.1,206.9 L751.8,204.4 L756.9,206.9 L753.5,210.2 L752.7,213.6 L745.2,215.2 L741.8,220.2 L735.1,222.7 L726.8,221.9 L720.1,222.7 L713.4,222.7 L712.6,219.4 L716.8,216.9 L718.4,212.7Z M745.2,187.7 L749.3,187.7 L749.3,190.2 L745.2,190.2Z M704.2,214.4 L706.7,214.4 L706.7,217.7 L704.2,217.7Z M977.4,153.1 L980.8,153.1 L980.8,155.9 L977.4,155.9Z M704.2,238.4 L710.1,242.6 L718.4,250.1 L719.3,253.4 L728.4,251.8 L735.1,255.1 L736.8,259.3 L728.4,260.1 L720.9,262.6 L715.1,266.8 L704.2,266.0Z M738.5,261.8 L743.5,260.1 L751.0,257.6 L756.0,261.0 L753.5,265.1 L748.5,266.8 L745.2,271.0 L741.8,270.1 L741.8,265.1Z M764.4,261.0 L767.7,261.0 L767.7,265.1 L764.4,265.1Z M751.0,247.6 L760.2,246.8 L760.2,250.4 L751.8,250.9Z M935.7,240.1 L939.0,238.4 L943.2,242.6 L941.5,245.9 L937.3,245.1Z M947.4,252.1 L949.9,252.1 L949.9,255.1 L947.4,255.1Z M990.8,261.0 L997.2,259.3 L995.8,263.5 L992.5,266.8 L988.3,266.0Z M1003.3,271.0 L1010.0,270.1 L1009.2,276.0 L1005.0,279.3 L1000.5,278.2Z M1017.2,293.2 L1020.1,292.7 L1020.1,298.6 L1017.2,299.4Z" fill="#48076b" fill-rule="evenodd"/>
<clipPath id="bc2"><path d="M704.2,110.2 L710.1,109.4 L710.9,104.3 L715.1,104.3 L715.9,111.9 L725.1,112.7 L733.5,112.7 L735.1,117.2 L748.5,115.2 L761.9,112.2 L768.6,116.0 L773.6,113.5 L776.1,109.4 L783.6,106.0 L789.4,101.0 L795.3,104.3 L800.3,103.5 L802.0,98.5 L797.0,96.0 L800.3,91.8 L805.3,89.8 L817.0,89.3 L827.0,88.5 L825.4,83.4 L822.0,80.1 L822.0,75.9 L827.0,73.4 L827.9,69.2 L825.4,66.7 L824.5,61.7 L828.7,60.1 L829.6,55.9 L899.7,55.9 L902.2,58.4 L907.3,61.7 L912.3,65.1 L913.1,70.9 L919.0,73.4 L922.3,75.9 L926.5,75.1 L929.0,70.9 L931.5,67.6 L945.7,67.6 L946.5,71.8 L952.4,72.6 L953.2,78.4 L959.1,75.9 L972.4,75.9 L973.3,81.8 L979.1,84.3 L984.1,88.5 L990.8,91.8 L994.2,95.1 L989.1,97.7 L987.5,101.8 L990.8,105.2 L997.5,106.8 L1004.2,104.3 L1007.5,101.0 L1010.0,96.8 L1011.7,91.8 L1019.2,91.0 L1024.2,95.1 L1026.7,100.2 L1025.1,106.8 L1020.9,111.9 L1017.6,115.2 L1012.5,118.5 L1007.5,120.2 L1005.9,123.6 L1002.5,126.1 L1010.0,131.1 L1009.2,133.3 L1002.5,135.0 L997.5,136.7 L992.5,137.5 L990.8,140.9 L984.1,140.0 L979.1,138.4 L969.1,140.0 L960.7,141.7 L954.1,144.2 L950.7,147.5 L945.7,146.7 L939.0,144.2 L935.7,146.7 L932.3,151.7 L927.3,155.1 L926.5,159.2 L927.3,163.4 L924.0,165.9 L919.0,165.9 L919.0,161.8 L914.8,160.9 L913.9,163.4 L907.3,164.3 L898.9,165.9 L890.5,165.9 L882.2,163.4 L873.8,162.6 L871.3,165.9 L870.5,171.8 L872.2,178.5 L868.8,181.8 L865.5,176.8 L858.8,175.1 L857.1,171.8 L850.4,170.9 L847.1,167.6 L845.4,165.1 L842.1,165.9 L835.4,167.6 L832.1,173.4 L827.0,176.8 L822.0,178.5 L818.7,177.6 L815.3,176.0 L805.3,176.0 L798.6,173.8 L792.0,172.6 L785.3,173.4 L780.3,171.8 L775.2,171.8 L768.6,174.3 L763.5,176.0 L756.9,177.6 L750.2,180.1 L743.5,182.6 L738.5,186.8 L733.5,190.2 L726.8,192.7 L720.9,194.3 L718.4,191.8 L715.9,187.7 L712.6,186.8 L710.1,182.6 L707.6,186.0 L704.2,186.0Z M824.5,160.9 L828.7,159.2 L835.4,156.7 L837.9,159.2 L842.9,158.4 L846.3,160.9 L842.1,162.6 L835.4,161.8 L830.4,164.3 L826.2,164.3Z M735.1,122.2 L753.5,121.0 L753.5,123.6 L736.0,125.6Z M954.1,101.0 L959.1,101.0 L959.1,104.3 L954.1,104.3Z M871.3,79.3 L873.8,79.3 L873.8,81.8 L871.3,81.8Z M792.0,55.0 L796.1,55.0 L796.1,58.4 L792.0,58.4Z M802.8,58.7 L805.3,58.7 L805.3,60.9 L802.8,60.9Z M811.2,67.6 L816.2,66.7 L816.2,70.1 L811.7,70.4Z M818.7,65.1 L823.7,64.2 L824.5,68.1 L819.5,68.4Z M1004.2,55.4 L1012.5,55.0 L1012.2,58.4 L1007.5,59.4 L1004.5,58.0Z M1022.6,62.6 L1026.7,60.9 L1027.6,75.1 L1022.6,75.9Z M1023.4,139.8 L1027.6,139.8 L1027.6,143.6 L1023.4,143.6Z M751.8,103.8 L759.4,102.2 L759.9,104.3 L752.7,106.0Z M777.7,96.8 L781.1,96.8 L781.1,99.3 L777.7,99.3Z M704.2,192.7 L710.1,191.0 L715.9,193.5 L715.1,200.2 L711.7,203.5 L709.2,207.7 L704.2,206.9Z M765.2,182.6 L771.9,179.3 L778.6,176.8 L785.3,177.6 L781.9,180.1 L775.2,182.6 L768.6,186.0 L765.2,186.0Z M720.9,210.2 L722.6,205.2 L730.1,204.4 L731.0,208.5 L740.1,206.9 L751.8,204.4 L756.9,206.9 L753.5,210.2 L752.7,213.6 L745.2,215.2 L741.8,220.2 L735.1,222.7 L726.8,221.9 L720.1,222.7 L713.4,222.7 L712.6,219.4 L716.8,216.9 L718.4,212.7Z M745.2,187.7 L749.3,187.7 L749.3,190.2 L745.2,190.2Z M704.2,214.4 L706.7,214.4 L706.7,217.7 L704.2,217.7Z M977.4,153.1 L980.8,153.1 L980.8,155.9 L977.4,155.9Z M704.2,238.4 L710.1,242.6 L718.4,250.1 L719.3,253.4 L728.4,251.8 L735.1,255.1 L736.8,259.3 L728.4,260.1 L720.9,262.6 L715.1,266.8 L704.2,266.0Z M738.5,261.8 L743.5,260.1 L751.0,257.6 L756.0,261.0 L753.5,265.1 L748.5,266.8 L745.2,271.0 L741.8,270.1 L741.8,265.1Z M764.4,261.0 L767.7,261.0 L767.7,265.1 L764.4,265.1Z M751.0,247.6 L760.2,246.8 L760.2,250.4 L751.8,250.9Z M935.7,240.1 L939.0,238.4 L943.2,242.6 L941.5,245.9 L937.3,245.1Z M947.4,252.1 L949.9,252.1 L949.9,255.1 L947.4,255.1Z M990.8,261.0 L997.2,259.3 L995.8,263.5 L992.5,266.8 L988.3,266.0Z M1003.3,271.0 L1010.0,270.1 L1009.2,276.0 L1005.0,279.3 L1000.5,278.2Z M1017.2,293.2 L1020.1,292.7 L1020.1,298.6 L1017.2,299.4Z" clip-rule="evenodd"/></clipPath>
<g clip-path="url(#bc2)">
<ellipse cx="740.2" cy="153.4" rx="39.8" ry="33.7" fill="#453781" filter="url(#bl12)"/>
<ellipse cx="844.4" cy="128.9" rx="33.7" ry="30.6" fill="#453781" filter="url(#bl12)"/>
<ellipse cx="789.2" cy="131.9" rx="18.4" ry="18.4" fill="#472f7c" filter="url(#bl8)"/>
<ellipse cx="868.9" cy="73.7" rx="36.8" ry="15.3" fill="#375a8c" filter="url(#bl8)"/>
<ellipse cx="896.5" cy="98.2" rx="12.3" ry="15.3" fill="#375a8c" filter="url(#bl8)"/>
<ellipse cx="933.2" cy="89" rx="12.3" ry="12.3" fill="#443b83" filter="url(#bl8)"/>
<ellipse cx="899.5" cy="116.6" rx="18.4" ry="18.4" fill="#2a788e" filter="url(#bl8)"/>
<ellipse cx="881.1" cy="135" rx="10.7" ry="9.2" fill="#31688e" filter="url(#bl5)"/>
<ellipse cx="708" cy="156.5" rx="6.1" ry="11" fill="#2b758e" filter="url(#bl5)"/>
<ellipse cx="734" cy="147.3" rx="9.2" ry="9.2" fill="#39568c" filter="url(#bl5)"/>
<ellipse cx="729.4" cy="181.6" rx="8" ry="7.4" fill="#365d8d" filter="url(#bl5)"/>
<ellipse cx="852" cy="68.2" rx="13.8" ry="4.9" fill="#297b8e" filter="url(#bl5)"/>
<ellipse cx="893.4" cy="79.2" rx="4.9" ry="4.9" fill="#73cf56" filter="url(#bl3)"/>
<ellipse cx="881.1" cy="66.4" rx="9.2" ry="2.1" fill="#9dd93b" filter="url(#bl2)" transform="rotate(-8 881.1 66.4)"/>
<g stroke="rgba(205,165,225,0.62)" stroke-width="1.5"><line x1="720.4" y1="45.1" x2="720.4" y2="311.2"/><line x1="768.8" y1="45.1" x2="768.8" y2="311.2"/><line x1="817.3" y1="45.1" x2="817.3" y2="311.2"/><line x1="865.8" y1="45.1" x2="865.8" y2="311.2"/><line x1="914.3" y1="45.1" x2="914.3" y2="311.2"/><line x1="962.8" y1="45.1" x2="962.8" y2="311.2"/><line x1="1011.2" y1="45.1" x2="1011.2" y2="311.2"/><line x1="688.3" y1="292.1" x2="1043.8" y2="292.1"/><line x1="688.3" y1="251.5" x2="1043.8" y2="251.5"/><line x1="688.3" y1="210.9" x2="1043.8" y2="210.9"/><line x1="688.3" y1="170.3" x2="1043.8" y2="170.3"/><line x1="688.3" y1="129.7" x2="1043.8" y2="129.7"/><line x1="688.3" y1="89" x2="1043.8" y2="89"/><line x1="688.3" y1="48.4" x2="1043.8" y2="48.4"/></g>
</g>
<path d="M742.7,259.6 L744.8,250.4 L746.1,239.5 L741,233 L734.6,228.6 L728,226 L727,223.1 L730.2,217.7 L728,211.1 L730.2,203.4 L734.6,199 L738.9,193.7 L740.1,188.2 L736.7,182.8 L734.6,176.1 L733.4,169.6 L734.6,164.1" fill="none" stroke="#15151c" stroke-width="1.2" stroke-linejoin="round"/>
<path d="M734.6,164.1 L741,165.2 L746.5,163.1 L753.2,160.8 L758.5,159.7 L763,157.6 L764.5,163.1 L769.5,164.8 L775,162 L780.5,165.2 L785.8,169.6 L792.4,172.9 L798.9,174 L805.5,171.9 L812.1,171.4 L818.6,174" fill="none" stroke="#15151c" stroke-width="1.2" stroke-linejoin="round"/>
<path d="M818.6,174 L819.7,180.5 L821.8,189.3 L823,198.1 L819.7,206.7 L816.5,213.3 L813.8,219.8 L813.1,228.6 L815.4,237.4 L818.6,241.8 L818.6,247.1" fill="none" stroke="#15151c" stroke-width="1.2" stroke-linejoin="round"/>
<path d="M728,210.7 L723.6,211.1 L720.4,213.7 L716,210.1 L712.8,202.5 L710.5,195.8 L705,194.2 L698.5,195.8 L695.3,194.8" fill="none" stroke="#15151c" stroke-width="1.2" stroke-linejoin="round"/>
<path d="M695.3,194.8 L693,187 L690.9,180.5 L688.7,177.3 L686.4,171.9" fill="none" stroke="#15151c" stroke-width="1.2" stroke-linejoin="round"/>
<path d="M695.3,194.8 L691.9,200.2 L688.7,204.6 L684.8,209.3" fill="none" stroke="#15151c" stroke-width="1.2" stroke-linejoin="round"/>
<path d="M881.5,231.9 L876.5,225.5 L874,214.5 L874.7,202 L872.7,189.6 L871.5,179.7 L870.3,169.8 L865.8,160.5 L863.9,152.4" fill="none" stroke="#15151c" stroke-width="1.2" stroke-linejoin="round"/>
<path d="M892.6,228.1 L891.3,214.5 L890.5,202 L890,189.6 L888.9,177.3 L887.6,167.3 L880.3,154" fill="none" stroke="#15151c" stroke-width="1.2" stroke-linejoin="round"/>
<path d="M909.4,226.3 L909.4,214.5 L909.9,202 L910.4,185.9 L914.9,182.1 L917.4,174.7 L921.1,167.3 L923.5,162.3 L927.2,157.3 L924,149.1 L924.3,142.7" fill="none" stroke="#15151c" stroke-width="1.2" stroke-linejoin="round"/>
<path d="M1002.8,254.6 L1006.6,246.7 L1010.3,234.3 L1019,224.4 L1028.9,219.3 L1036.3,216.9 L1042.6,220.7 L1048.4,223.9" fill="none" stroke="#15151c" stroke-width="1.2" stroke-linejoin="round"/>
<path d="M1024.5,296.4 L1048.4,296.4" fill="none" stroke="#15151c" stroke-width="1.2" stroke-linejoin="round"/>
<path d="M684.8,85.8 L688,84.5 L692.6,81.9 L701.5,81.2 L710.3,81.2 L713.7,78.3 L715.8,80.6 L732.6,80.1 L754.9,80.1 L776.1,80.1 L779,73.4 L779,64.5 L775,55.6 L772.7,41.9" fill="none" stroke="#15151c" stroke-width="1.2" stroke-linejoin="round"/>
<path d="M684.8,131.3 L688,133.6 L692.6,137 L696.9,134.7 L702.6,133.1 L712.6,131.3 L721.5,133.6 L723.8,140.2 L728.1,146.9 L729.2,153.5 L732.6,160.4 L734.6,164.1" fill="none" stroke="#15151c" stroke-width="1.2" stroke-linejoin="round"/>
<path d="M776.1,163 L778.4,151.4 L781.6,137.9 L792.8,131.3 L795,117.9 L808.4,109 L817.3,100.1 L830.7,93.4 L848.5,90.2 L861,88.2 L870.6,89.8" fill="none" stroke="#15151c" stroke-width="1.2" stroke-linejoin="round"/>
<path d="M870.6,89.8 L871.3,100.6 L881,112.9 L890.8,122.7 L900.7,130.1 L901.4,136.2 L904.6,139.4" fill="none" stroke="#15151c" stroke-width="1.2" stroke-linejoin="round"/>
<path d="M818.6,174 L820.6,165.4 L818.9,155.7 L833.5,154 L846.4,154 L857.7,153.2 L863.9,152.4 L873.9,154 L880.3,154 L888.4,146.7 L898.1,146.7 L904.6,139.4" fill="none" stroke="#15151c" stroke-width="1.2" stroke-linejoin="round"/>
<path d="M904.6,139.4 L911.9,132.1 L924.3,142.7" fill="none" stroke="#15151c" stroke-width="1.2" stroke-linejoin="round"/>
<path d="M924.3,142.7 L925.6,129.7 L928.2,122.7 L932.5,113.9 L939.2,109.5 L948.1,108.4 L954.7,110.6 L963.6,112.8 L972.3,115 L981.2,118.3 L990.1,116.2 L999,117.1 L1007.7,120.5 L1016.6,121.5 L1025.5,118.3 L1034.2,115.7 L1048.4,115" fill="none" stroke="#15151c" stroke-width="1.2" stroke-linejoin="round"/>
<path d="M870.6,89.8 L881,85.8 L905.6,82.2 L917.8,78.5 L925.1,73.6 L930,63.7 L933.7,58.2 L933.7,41.9" fill="none" stroke="#15151c" stroke-width="1.2" stroke-linejoin="round"/>
<path d="M1002.4,276.7 L1004,280 L1007.2,279.1 L1010.4,273.5 L1008.8,271 L1005.6,271.8Z" fill="none" stroke="#111" stroke-width="1.1"/>
<circle cx="985.4" cy="306.3" r="1.5" fill="#14142a"/>
<path d="M684.8,223.9 L688.4,225.7 L697.9,231.4 L706.6,240.2 L715.4,247.8 L725.4,254.8 L735.6,259 L743,260.9 L755.4,254.8 L770.6,249.7 L785.6,247.1 L800.7,246 L814.4,247.8 L823.1,250.2 L832,254 L842,248.9 L855.8,244 L868.2,239 L880.8,235.3 L888.4,231.4 L900.9,228.9 L915.9,227.2 L925.9,225.8 L933.5,227.2 L940.9,231.4 L948.5,237.7 L953.5,245.2 L957.3,254 L963.6,260.3 L976.2,259 L991.2,257.2 L1002.8,256.1 L1009.1,259.2 L1016.6,266.5 L1022.7,275.2 L1025.1,284 L1024.5,296.4 L1021.3,304.2 L1017.7,311.6 L1016.1,316.5" fill="none" stroke="#161a22" stroke-width="1.4" stroke-linejoin="round"/>
</g>
<rect x="688.3" y="45.1" width="355.5" height="266.1" fill="none" stroke="#333" stroke-width="1.35"/>
<text x="679.3" y="295.8" text-anchor="end" font-size="14.26" textLength="35.2" lengthAdjust="spacingAndGlyphs">2.5°N</text>
<text x="679.3" y="255.1" text-anchor="end" font-size="14.26" textLength="23.4" lengthAdjust="spacingAndGlyphs">5°N</text>
<text x="679.3" y="214.5" text-anchor="end" font-size="14.26" textLength="35.2" lengthAdjust="spacingAndGlyphs">7.5°N</text>
<text x="679.3" y="173.9" text-anchor="end" font-size="14.26" textLength="31.2" lengthAdjust="spacingAndGlyphs">10°N</text>
<text x="679.3" y="133.2" text-anchor="end" font-size="14.26" textLength="43.1" lengthAdjust="spacingAndGlyphs">12.5°N</text>
<text x="679.3" y="92.6" text-anchor="end" font-size="14.26" textLength="31.2" lengthAdjust="spacingAndGlyphs">15°N</text>
<text x="679.3" y="52" text-anchor="end" font-size="14.26" textLength="43.1" lengthAdjust="spacingAndGlyphs">17.5°N</text>
<text x="720.4" y="328" text-anchor="middle" font-size="14.26" textLength="26.4" lengthAdjust="spacingAndGlyphs">9°W</text>
<text x="768.8" y="328" text-anchor="middle" font-size="14.26" textLength="26.4" lengthAdjust="spacingAndGlyphs">6°W</text>
<text x="817.3" y="328" text-anchor="middle" font-size="14.26" textLength="26.4" lengthAdjust="spacingAndGlyphs">3°W</text>
<text x="865.8" y="328" text-anchor="middle" font-size="14.26" textLength="14.1" lengthAdjust="spacingAndGlyphs">0°</text>
<text x="914.3" y="328" text-anchor="middle" font-size="14.26" textLength="21.9" lengthAdjust="spacingAndGlyphs">3°E</text>
<text x="962.8" y="328" text-anchor="middle" font-size="14.26" textLength="21.9" lengthAdjust="spacingAndGlyphs">6°E</text>
<text x="1011.2" y="328" text-anchor="middle" font-size="14.26" textLength="21.9" lengthAdjust="spacingAndGlyphs">9°E</text>
<text x="864.8" y="33.7" text-anchor="middle" font-size="15.72" textLength="152.5" lengthAdjust="spacingAndGlyphs">GSMAP 2020-08-07</text>
<rect x="1065.9" y="33.6" width="13" height="288.8" fill="url(#vg)"/>
<rect x="1065.9" y="33.6" width="13" height="288.8" fill="none" stroke="#222" stroke-width="0.9"/>
<line x1="1078.9" y1="322.4" x2="1083.1" y2="322.4" stroke="#222" stroke-width="1"/>
<text x="1089.1" y="326.5" text-anchor="start" font-size="14.26" textLength="7.9" lengthAdjust="spacingAndGlyphs">0</text>
<line x1="1078.9" y1="283.9" x2="1083.1" y2="283.9" stroke="#222" stroke-width="1"/>
<text x="1089.1" y="288" text-anchor="start" font-size="14.26" textLength="15.8" lengthAdjust="spacingAndGlyphs">20</text>
<line x1="1078.9" y1="245.4" x2="1083.1" y2="245.4" stroke="#222" stroke-width="1"/>
<text x="1089.1" y="249.5" text-anchor="start" font-size="14.26" textLength="15.8" lengthAdjust="spacingAndGlyphs">40</text>
<line x1="1078.9" y1="206.9" x2="1083.1" y2="206.9" stroke="#222" stroke-width="1"/>
<text x="1089.1" y="211" text-anchor="start" font-size="14.26" textLength="15.8" lengthAdjust="spacingAndGlyphs">60</text>
<line x1="1078.9" y1="168.4" x2="1083.1" y2="168.4" stroke="#222" stroke-width="1"/>
<text x="1089.1" y="172.5" text-anchor="start" font-size="14.26" textLength="15.8" lengthAdjust="spacingAndGlyphs">80</text>
<line x1="1078.9" y1="129.9" x2="1083.1" y2="129.9" stroke="#222" stroke-width="1"/>
<text x="1089.1" y="134" text-anchor="start" font-size="14.26" textLength="23.7" lengthAdjust="spacingAndGlyphs">100</text>
<line x1="1078.9" y1="91.4" x2="1083.1" y2="91.4" stroke="#222" stroke-width="1"/>
<text x="1089.1" y="95.5" text-anchor="start" font-size="14.26" textLength="23.7" lengthAdjust="spacingAndGlyphs">120</text>
<line x1="1078.9" y1="52.9" x2="1083.1" y2="52.9" stroke="#222" stroke-width="1"/>
<text x="1089.1" y="57" text-anchor="start" font-size="14.26" textLength="23.7" lengthAdjust="spacingAndGlyphs">140</text>
</g>
<g id="p3">
<clipPath id="ax3"><rect x="1275.4" y="43.4" width="357.7" height="268"/></clipPath>
<g clip-path="url(#ax3)">
<g stroke="#cfcfcf" stroke-width="1.4"><line x1="1307.1" y1="43.4" x2="1307.1" y2="311.4"/><line x1="1356" y1="43.4" x2="1356" y2="311.4"/><line x1="1405" y1="43.4" x2="1405" y2="311.4"/><line x1="1453.9" y1="43.4" x2="1453.9" y2="311.4"/><line x1="1502.8" y1="43.4" x2="1502.8" y2="311.4"/><line x1="1551.8" y1="43.4" x2="1551.8" y2="311.4"/><line x1="1600.7" y1="43.4" x2="1600.7" y2="311.4"/><line x1="1275.4" y1="291.6" x2="1633.1" y2="291.6"/><line x1="1275.4" y1="250.8" x2="1633.1" y2="250.8"/><line x1="1275.4" y1="210.1" x2="1633.1" y2="210.1"/><line x1="1275.4" y1="169.3" x2="1633.1" y2="169.3"/><line x1="1275.4" y1="128.6" x2="1633.1" y2="128.6"/><line x1="1275.4" y1="87.8" x2="1633.1" y2="87.8"/><line x1="1275.4" y1="47.1" x2="1633.1" y2="47.1"/></g>
<path d="M1271.2,223.1 L1274.8,224.9 L1284.4,230.6 L1293.2,239.4 L1302.1,247.1 L1312.2,254.1 L1322.4,258.3 L1329.9,260.3 L1342.5,254.1 L1357.8,249.1 L1373,246.4 L1388.2,245.3 L1402,247.1 L1410.8,249.5 L1419.8,253.3 L1429.9,248.2 L1443.8,243.4 L1456.3,238.3 L1469.1,234.6 L1476.7,230.6 L1489.3,228.2 L1504.5,226.4 L1514.6,225.1 L1522.2,226.4 L1529.7,230.6 L1537.4,237 L1542.5,244.5 L1546.2,253.3 L1552.6,259.7 L1565.3,258.3 L1580.5,256.6 L1592.2,255.4 L1598.6,258.5 L1606.1,265.8 L1612.3,274.6 L1614.7,283.5 L1614.1,295.8 L1610.8,303.7 L1607.2,311.2 L1605.6,316.1 L1605.6,324.2 L1266.3,324.2Z" fill="#98b6e1" fill-opacity="0.94"/>
<path d="M1290.9,80.1 L1293.4,75.1 L1296.7,73.4 L1303.4,74.3 L1308.4,71.8 L1313.4,72.6 L1320.1,75.1 L1325.1,72.6 L1331.8,70.9 L1332.7,66.7 L1336.8,65.1 L1343.5,66.7 L1348.5,69.2 L1356.9,67.6 L1361.1,65.1 L1365.3,67.6 L1366.9,72.6 L1371.9,71.8 L1377.0,67.6 L1385.3,65.1 L1393.7,66.7 L1397.8,70.9 L1398.7,77.6 L1403.7,79.3 L1403.7,83.4 L1400.3,86.8 L1405.4,89.3 L1412.0,84.3 L1417.1,82.6 L1423.7,78.4 L1426.2,72.6 L1428.8,67.6 L1432.9,63.4 L1434.6,57.5 L1440.5,54.2 L1458.0,54.2 L1460.5,60.1 L1463.0,65.1 L1463.9,70.9 L1466.4,74.3 L1473.0,75.1 L1475.5,80.1 L1478.9,81.8 L1479.7,86.8 L1482.2,89.3 L1477.2,91.8 L1474.7,96.0 L1470.5,99.3 L1468.9,103.5 L1473.0,104.3 L1478.9,102.7 L1485.6,104.3 L1492.3,102.7 L1500.6,102.7 L1504.0,105.2 L1510.6,104.3 L1515.7,106.0 L1520.7,103.5 L1527.4,105.2 L1530.7,109.4 L1534.0,113.5 L1539.1,115.2 L1544.1,119.4 L1547.4,122.7 L1554.1,121.9 L1559.9,120.2 L1562.4,123.6 L1567.5,126.9 L1568.3,131.1 L1562.4,133.6 L1557.4,138.6 L1552.4,141.9 L1547.4,140.3 L1544.1,136.9 L1539.1,138.6 L1537.4,143.6 L1535.7,147.0 L1530.7,147.0 L1528.2,140.3 L1524.0,138.6 L1520.7,140.3 L1519.0,147.0 L1515.7,153.6 L1518.2,160.0 L1518.2,163.4 L1515.7,169.3 L1510.6,170.1 L1504.0,170.9 L1495.6,170.9 L1487.2,170.1 L1477.2,170.1 L1475.5,165.9 L1470.5,164.3 L1468.9,159.2 L1463.9,160.1 L1458.8,159.2 L1453.8,155.1 L1447.1,155.1 L1441.3,155.1 L1438.8,160.1 L1437.1,165.1 L1432.1,165.9 L1425.4,164.3 L1418.7,162.6 L1412.0,160.1 L1410.4,163.4 L1403.7,165.1 L1397.0,167.6 L1390.3,167.6 L1385.3,170.1 L1378.6,173.4 L1373.6,176.8 L1370.3,183.5 L1366.9,190.2 L1363.6,195.2 L1360.2,193.5 L1356.9,191.8 L1355.2,196.8 L1354.4,203.5 L1353.6,210.2 L1353.6,216.9 L1350.2,223.6 L1346.0,228.6 L1340.2,231.9 L1333.5,230.3 L1328.5,234.4 L1325.1,233.6 L1323.5,228.6 L1318.5,225.3 L1315.1,228.6 L1311.8,225.3 L1308.4,220.2 L1305.9,216.1 L1300.1,213.6 L1295.1,210.2 L1290.9,211.9Z M1474.7,121.0 L1480.6,119.9 L1487.2,118.9 L1493.9,121.4 L1502.3,120.5 L1502.6,126.9 L1495.6,129.4 L1487.2,127.7 L1480.6,130.2 L1476.4,126.9Z M1385.3,92.6 L1389.5,92.1 L1389.0,95.5 L1385.6,96.0Z M1385.3,105.2 L1389.0,103.8 L1388.6,108.2 L1385.6,108.9Z M1377.0,121.4 L1380.3,121.4 L1380.3,124.4 L1377.0,124.4Z M1293.4,159.2 L1296.7,157.6 L1301.8,158.4 L1300.9,161.8 L1295.9,162.6Z M1564.1,105.2 L1569.1,103.5 L1575.8,97.7 L1582.5,98.5 L1584.2,104.3 L1589.2,106.8 L1594.2,110.2 L1597.5,118.5 L1595.9,123.6 L1587.5,126.9 L1579.2,127.7 L1574.1,125.2 L1570.8,120.2 L1565.8,116.9 L1566.6,110.2Z M1585.7,53.8 L1615.8,53.8 L1615.8,101.4 L1613.3,105.2 L1612.7,113.9 L1608.3,110.8 L1605.2,115.2 L1598.9,113.9 L1598.3,105.2 L1595.1,100.2 L1592.6,95.1 L1590.1,88.2 L1585.7,86.4 L1585.4,68.8 L1580.1,68.2 L1579.8,65.1 L1585.1,64.4Z M1522.3,74.3 L1530.7,73.4 L1537.4,76.8 L1544.1,80.1 L1547.4,73.4 L1552.4,72.6 L1551.6,78.4 L1549.1,85.1 L1544.1,86.8 L1537.4,83.4 L1530.7,81.8 L1524.8,80.1Z M1550.7,88.5 L1557.4,90.1 L1562.4,95.1 L1561.6,98.5 L1555.8,97.7 L1551.6,93.5Z M1488.9,67.6 L1493.9,66.7 L1500.6,69.2 L1507.3,70.1 L1509.0,74.3 L1504.0,75.9 L1495.6,74.3 L1490.6,72.6Z M1569.1,80.1 L1575.0,83.4 L1574.1,87.6 L1570.0,86.8Z M1410.0,56.7 L1417.9,56.2 L1421.2,60.1 L1419.6,65.1 L1413.7,65.1 L1410.4,61.7Z M1409.5,72.6 L1413.7,72.6 L1413.7,78.4 L1409.5,78.4Z M1531.5,60.1 L1534.9,60.1 L1534.9,63.4 L1531.5,63.4Z M1540.7,101.5 L1544.1,101.5 L1544.1,103.5 L1540.7,103.5Z M1534.0,148.6 L1539.9,147.8 L1540.7,153.6 L1534.9,155.0Z M1570.8,150.1 L1579.2,145.0 L1585.8,143.4 L1587.5,153.4 L1586.7,161.8 L1582.5,167.6 L1577.5,163.4 L1570.8,163.4 L1569.1,156.7Z M1615.9,131.7 L1610.9,134.2 L1605.9,139.2 L1601.7,144.2 L1600.0,150.9 L1602.6,157.6 L1604.2,163.4 L1607.6,170.1 L1611.7,166.8 L1615.9,163.4Z M1594.2,148.4 L1599.2,149.2 L1598.9,155.1 L1595.0,153.4Z M1426.2,170.9 L1432.1,169.3 L1432.9,171.8 L1427.9,173.8Z M1555.8,183.5 L1560.8,179.3 L1565.8,178.1 L1564.1,181.0 L1558.3,185.1Z M1601.7,222.7 L1609.2,220.2 L1615.9,218.6 L1615.9,237.0 L1607.6,237.0 L1606.7,230.3 L1602.6,226.9Z M1291.4,213.6 L1303.4,215.2 L1306.4,221.1 L1307.1,228.6 L1305.1,236.1 L1301.8,240.3 L1295.1,237.0 L1293.4,230.3 L1295.1,224.4 L1291.7,221.9Z M1301.8,250.9 L1309.3,247.6 L1310.1,253.4 L1303.4,255.1Z M1317.6,255.9 L1322.6,254.3 L1323.5,259.3 L1320.1,264.3 L1316.8,266.8 L1316.0,261.0Z M1398.7,253.8 L1403.7,253.8 L1403.7,255.9 L1398.7,255.9Z M1600.9,259.3 L1615.1,258.4 L1612.6,265.1 L1610.1,270.1 L1615.9,272.7 L1615.1,281.8 L1610.9,286.9 L1609.2,293.5 L1602.6,291.9 L1601.7,281.8 L1600.0,271.8 L1602.6,266.8Z M1590.9,262.6 L1594.2,262.6 L1594.2,266.0 L1590.9,266.0Z M1599.2,247.6 L1602.6,247.6 L1602.6,250.9 L1599.2,250.9Z M1587.5,292.7 L1590.0,292.7 L1590.0,295.2 L1587.5,295.2Z M1582.5,296.6 L1585.0,296.6 L1585.0,298.6 L1582.5,298.6Z" fill="#48076b" fill-rule="evenodd"/>
<clipPath id="bc3"><path d="M1290.9,80.1 L1293.4,75.1 L1296.7,73.4 L1303.4,74.3 L1308.4,71.8 L1313.4,72.6 L1320.1,75.1 L1325.1,72.6 L1331.8,70.9 L1332.7,66.7 L1336.8,65.1 L1343.5,66.7 L1348.5,69.2 L1356.9,67.6 L1361.1,65.1 L1365.3,67.6 L1366.9,72.6 L1371.9,71.8 L1377.0,67.6 L1385.3,65.1 L1393.7,66.7 L1397.8,70.9 L1398.7,77.6 L1403.7,79.3 L1403.7,83.4 L1400.3,86.8 L1405.4,89.3 L1412.0,84.3 L1417.1,82.6 L1423.7,78.4 L1426.2,72.6 L1428.8,67.6 L1432.9,63.4 L1434.6,57.5 L1440.5,54.2 L1458.0,54.2 L1460.5,60.1 L1463.0,65.1 L1463.9,70.9 L1466.4,74.3 L1473.0,75.1 L1475.5,80.1 L1478.9,81.8 L1479.7,86.8 L1482.2,89.3 L1477.2,91.8 L1474.7,96.0 L1470.5,99.3 L1468.9,103.5 L1473.0,104.3 L1478.9,102.7 L1485.6,104.3 L1492.3,102.7 L1500.6,102.7 L1504.0,105.2 L1510.6,104.3 L1515.7,106.0 L1520.7,103.5 L1527.4,105.2 L1530.7,109.4 L1534.0,113.5 L1539.1,115.2 L1544.1,119.4 L1547.4,122.7 L1554.1,121.9 L1559.9,120.2 L1562.4,123.6 L1567.5,126.9 L1568.3,131.1 L1562.4,133.6 L1557.4,138.6 L1552.4,141.9 L1547.4,140.3 L1544.1,136.9 L1539.1,138.6 L1537.4,143.6 L1535.7,147.0 L1530.7,147.0 L1528.2,140.3 L1524.0,138.6 L1520.7,140.3 L1519.0,147.0 L1515.7,153.6 L1518.2,160.0 L1518.2,163.4 L1515.7,169.3 L1510.6,170.1 L1504.0,170.9 L1495.6,170.9 L1487.2,170.1 L1477.2,170.1 L1475.5,165.9 L1470.5,164.3 L1468.9,159.2 L1463.9,160.1 L1458.8,159.2 L1453.8,155.1 L1447.1,155.1 L1441.3,155.1 L1438.8,160.1 L1437.1,165.1 L1432.1,165.9 L1425.4,164.3 L1418.7,162.6 L1412.0,160.1 L1410.4,163.4 L1403.7,165.1 L1397.0,167.6 L1390.3,167.6 L1385.3,170.1 L1378.6,173.4 L1373.6,176.8 L1370.3,183.5 L1366.9,190.2 L1363.6,195.2 L1360.2,193.5 L1356.9,191.8 L1355.2,196.8 L1354.4,203.5 L1353.6,210.2 L1353.6,216.9 L1350.2,223.6 L1346.0,228.6 L1340.2,231.9 L1333.5,230.3 L1328.5,234.4 L1325.1,233.6 L1323.5,228.6 L1318.5,225.3 L1315.1,228.6 L1311.8,225.3 L1308.4,220.2 L1305.9,216.1 L1300.1,213.6 L1295.1,210.2 L1290.9,211.9Z M1474.7,121.0 L1480.6,119.9 L1487.2,118.9 L1493.9,121.4 L1502.3,120.5 L1502.6,126.9 L1495.6,129.4 L1487.2,127.7 L1480.6,130.2 L1476.4,126.9Z M1385.3,92.6 L1389.5,92.1 L1389.0,95.5 L1385.6,96.0Z M1385.3,105.2 L1389.0,103.8 L1388.6,108.2 L1385.6,108.9Z M1377.0,121.4 L1380.3,121.4 L1380.3,124.4 L1377.0,124.4Z M1293.4,159.2 L1296.7,157.6 L1301.8,158.4 L1300.9,161.8 L1295.9,162.6Z M1564.1,105.2 L1569.1,103.5 L1575.8,97.7 L1582.5,98.5 L1584.2,104.3 L1589.2,106.8 L1594.2,110.2 L1597.5,118.5 L1595.9,123.6 L1587.5,126.9 L1579.2,127.7 L1574.1,125.2 L1570.8,120.2 L1565.8,116.9 L1566.6,110.2Z M1585.7,53.8 L1615.8,53.8 L1615.8,101.4 L1613.3,105.2 L1612.7,113.9 L1608.3,110.8 L1605.2,115.2 L1598.9,113.9 L1598.3,105.2 L1595.1,100.2 L1592.6,95.1 L1590.1,88.2 L1585.7,86.4 L1585.4,68.8 L1580.1,68.2 L1579.8,65.1 L1585.1,64.4Z M1522.3,74.3 L1530.7,73.4 L1537.4,76.8 L1544.1,80.1 L1547.4,73.4 L1552.4,72.6 L1551.6,78.4 L1549.1,85.1 L1544.1,86.8 L1537.4,83.4 L1530.7,81.8 L1524.8,80.1Z M1550.7,88.5 L1557.4,90.1 L1562.4,95.1 L1561.6,98.5 L1555.8,97.7 L1551.6,93.5Z M1488.9,67.6 L1493.9,66.7 L1500.6,69.2 L1507.3,70.1 L1509.0,74.3 L1504.0,75.9 L1495.6,74.3 L1490.6,72.6Z M1569.1,80.1 L1575.0,83.4 L1574.1,87.6 L1570.0,86.8Z M1410.0,56.7 L1417.9,56.2 L1421.2,60.1 L1419.6,65.1 L1413.7,65.1 L1410.4,61.7Z M1409.5,72.6 L1413.7,72.6 L1413.7,78.4 L1409.5,78.4Z M1531.5,60.1 L1534.9,60.1 L1534.9,63.4 L1531.5,63.4Z M1540.7,101.5 L1544.1,101.5 L1544.1,103.5 L1540.7,103.5Z M1534.0,148.6 L1539.9,147.8 L1540.7,153.6 L1534.9,155.0Z M1570.8,150.1 L1579.2,145.0 L1585.8,143.4 L1587.5,153.4 L1586.7,161.8 L1582.5,167.6 L1577.5,163.4 L1570.8,163.4 L1569.1,156.7Z M1615.9,131.7 L1610.9,134.2 L1605.9,139.2 L1601.7,144.2 L1600.0,150.9 L1602.6,157.6 L1604.2,163.4 L1607.6,170.1 L1611.7,166.8 L1615.9,163.4Z M1594.2,148.4 L1599.2,149.2 L1598.9,155.1 L1595.0,153.4Z M1426.2,170.9 L1432.1,169.3 L1432.9,171.8 L1427.9,173.8Z M1555.8,183.5 L1560.8,179.3 L1565.8,178.1 L1564.1,181.0 L1558.3,185.1Z M1601.7,222.7 L1609.2,220.2 L1615.9,218.6 L1615.9,237.0 L1607.6,237.0 L1606.7,230.3 L1602.6,226.9Z M1291.4,213.6 L1303.4,215.2 L1306.4,221.1 L1307.1,228.6 L1305.1,236.1 L1301.8,240.3 L1295.1,237.0 L1293.4,230.3 L1295.1,224.4 L1291.7,221.9Z M1301.8,250.9 L1309.3,247.6 L1310.1,253.4 L1303.4,255.1Z M1317.6,255.9 L1322.6,254.3 L1323.5,259.3 L1320.1,264.3 L1316.8,266.8 L1316.0,261.0Z M1398.7,253.8 L1403.7,253.8 L1403.7,255.9 L1398.7,255.9Z M1600.9,259.3 L1615.1,258.4 L1612.6,265.1 L1610.1,270.1 L1615.9,272.7 L1615.1,281.8 L1610.9,286.9 L1609.2,293.5 L1602.6,291.9 L1601.7,281.8 L1600.0,271.8 L1602.6,266.8Z M1590.9,262.6 L1594.2,262.6 L1594.2,266.0 L1590.9,266.0Z M1599.2,247.6 L1602.6,247.6 L1602.6,250.9 L1599.2,250.9Z M1587.5,292.7 L1590.0,292.7 L1590.0,295.2 L1587.5,295.2Z M1582.5,296.6 L1585.0,296.6 L1585.0,298.6 L1582.5,298.6Z" clip-rule="evenodd"/></clipPath>
<g clip-path="url(#bc3)">
<ellipse cx="1346.6" cy="110.5" rx="58.2" ry="39.8" fill="#3f4888" filter="url(#bl12)"/>
<ellipse cx="1340.5" cy="162.6" rx="33.7" ry="46" fill="#414487" filter="url(#bl12)"/>
<ellipse cx="1438.6" cy="110.5" rx="33.7" ry="39.8" fill="#424085" filter="url(#bl12)"/>
<ellipse cx="1306.8" cy="168.7" rx="12.3" ry="30.6" fill="#46337f" filter="url(#bl8)"/>
<ellipse cx="1602.5" cy="79.8" rx="10.7" ry="24.5" fill="#453781" filter="url(#bl8)"/>
<ellipse cx="1346.6" cy="131.9" rx="24.5" ry="12.3" fill="#3c4f8a" filter="url(#bl8)"/>
<ellipse cx="1358.9" cy="92.1" rx="18.4" ry="12.3" fill="#365d8d" filter="url(#bl8)"/>
<ellipse cx="1326.7" cy="98.2" rx="11.6" ry="9.2" fill="#26828e" filter="url(#bl5)"/>
<ellipse cx="1316" cy="90.6" rx="12.3" ry="7.7" fill="#33648d" filter="url(#bl5)"/>
<ellipse cx="1372.7" cy="80.5" rx="10.7" ry="6.7" fill="#2a788e" filter="url(#bl5)"/>
<ellipse cx="1332.8" cy="174.8" rx="8" ry="8.6" fill="#2e6e8e" filter="url(#bl5)"/>
<ellipse cx="1453.9" cy="109" rx="7.7" ry="13.8" fill="#375a8c" filter="url(#bl5)"/>
<ellipse cx="1443.2" cy="70.6" rx="7.7" ry="7.7" fill="#3c4f8a" filter="url(#bl5)"/>
<g stroke="rgba(205,165,225,0.62)" stroke-width="1.5"><line x1="1307.1" y1="43.4" x2="1307.1" y2="311.4"/><line x1="1356" y1="43.4" x2="1356" y2="311.4"/><line x1="1405" y1="43.4" x2="1405" y2="311.4"/><line x1="1453.9" y1="43.4" x2="1453.9" y2="311.4"/><line x1="1502.8" y1="43.4" x2="1502.8" y2="311.4"/><line x1="1551.8" y1="43.4" x2="1551.8" y2="311.4"/><line x1="1600.7" y1="43.4" x2="1600.7" y2="311.4"/><line x1="1275.4" y1="291.6" x2="1633.1" y2="291.6"/><line x1="1275.4" y1="250.8" x2="1633.1" y2="250.8"/><line x1="1275.4" y1="210.1" x2="1633.1" y2="210.1"/><line x1="1275.4" y1="169.3" x2="1633.1" y2="169.3"/><line x1="1275.4" y1="128.6" x2="1633.1" y2="128.6"/><line x1="1275.4" y1="87.8" x2="1633.1" y2="87.8"/><line x1="1275.4" y1="47.1" x2="1633.1" y2="47.1"/></g>
</g>
<path d="M1329.6,259 L1331.7,249.7 L1333,238.8 L1328,232.3 L1321.5,227.9 L1314.8,225.3 L1313.8,222.3 L1317.1,216.9 L1314.8,210.3 L1317.1,202.6 L1321.5,198.2 L1325.9,192.8 L1327,187.3 L1323.6,181.9 L1321.5,175.2 L1320.3,168.7 L1321.5,163.2" fill="none" stroke="#15151c" stroke-width="1.2" stroke-linejoin="round"/>
<path d="M1321.5,163.2 L1328,164.3 L1333.5,162.2 L1340.2,159.9 L1345.6,158.8 L1350.2,156.6 L1351.6,162.2 L1356.7,163.8 L1362.2,161 L1367.8,164.3 L1373.2,168.7 L1379.9,172 L1386.4,173.1 L1393.1,171 L1399.8,170.5 L1406.3,173.1" fill="none" stroke="#15151c" stroke-width="1.2" stroke-linejoin="round"/>
<path d="M1406.3,173.1 L1407.4,179.6 L1409.5,188.4 L1410.7,197.2 L1407.4,205.9 L1404.2,212.5 L1401.4,219.1 L1400.7,227.9 L1403,236.7 L1406.3,241.1 L1406.3,246.4" fill="none" stroke="#15151c" stroke-width="1.2" stroke-linejoin="round"/>
<path d="M1314.8,209.9 L1310.4,210.3 L1307.1,212.9 L1302.7,209.3 L1299.4,201.6 L1297.2,194.9 L1291.6,193.3 L1285.1,194.9 L1281.8,194" fill="none" stroke="#15151c" stroke-width="1.2" stroke-linejoin="round"/>
<path d="M1281.8,194 L1279.5,186.1 L1277.4,179.6 L1275.1,176.4 L1272.9,171" fill="none" stroke="#15151c" stroke-width="1.2" stroke-linejoin="round"/>
<path d="M1281.8,194 L1278.4,199.3 L1275.1,203.7 L1271.2,208.5" fill="none" stroke="#15151c" stroke-width="1.2" stroke-linejoin="round"/>
<path d="M1469.7,231.1 L1464.7,224.8 L1462.2,213.7 L1462.9,201.1 L1460.9,188.7 L1459.6,178.8 L1458.5,168.9 L1453.9,159.6 L1451.9,151.4" fill="none" stroke="#15151c" stroke-width="1.2" stroke-linejoin="round"/>
<path d="M1481,227.4 L1479.7,213.7 L1478.9,201.1 L1478.4,188.7 L1477.2,176.4 L1475.9,166.4 L1468.6,153.1" fill="none" stroke="#15151c" stroke-width="1.2" stroke-linejoin="round"/>
<path d="M1497.9,225.6 L1497.9,213.7 L1498.4,201.1 L1498.9,185 L1503.5,181.2 L1505.9,173.8 L1509.7,166.4 L1512.1,161.4 L1515.9,156.3 L1512.6,148.2 L1512.9,141.6" fill="none" stroke="#15151c" stroke-width="1.2" stroke-linejoin="round"/>
<path d="M1592.2,253.9 L1596,246 L1599.7,233.6 L1608.5,223.6 L1618.5,218.6 L1626,216.1 L1632.3,219.9 L1638.2,223.1" fill="none" stroke="#15151c" stroke-width="1.2" stroke-linejoin="round"/>
<path d="M1614.1,295.8 L1638.2,295.8" fill="none" stroke="#15151c" stroke-width="1.2" stroke-linejoin="round"/>
<path d="M1271.2,84.6 L1274.5,83.3 L1279.1,80.7 L1288,80 L1297,80 L1300.4,77.1 L1302.5,79.4 L1319.5,78.9 L1342,78.9 L1363.4,78.9 L1366.3,72.2 L1366.3,63.2 L1362.2,54.3 L1360,40.6" fill="none" stroke="#15151c" stroke-width="1.2" stroke-linejoin="round"/>
<path d="M1271.2,130.2 L1274.5,132.5 L1279.1,135.9 L1283.5,133.7 L1289.2,132 L1299.3,130.2 L1308.3,132.5 L1310.5,139.2 L1314.9,145.9 L1316.1,152.6 L1319.5,159.4 L1321.5,163.2" fill="none" stroke="#15151c" stroke-width="1.2" stroke-linejoin="round"/>
<path d="M1363.4,162 L1365.7,150.4 L1368.9,136.9 L1380.2,130.2 L1382.5,116.9 L1396,107.9 L1405,98.9 L1418.5,92.3 L1436.4,89 L1449,87 L1458.8,88.7" fill="none" stroke="#15151c" stroke-width="1.2" stroke-linejoin="round"/>
<path d="M1458.8,88.7 L1459.4,99.4 L1469.2,111.8 L1479.2,121.6 L1489.1,129.1 L1489.8,135.1 L1493,138.4" fill="none" stroke="#15151c" stroke-width="1.2" stroke-linejoin="round"/>
<path d="M1406.3,173.1 L1408.2,164.5 L1406.6,154.7 L1421.3,153.1 L1434.3,153.1 L1445.7,152.2 L1451.9,151.4 L1462.1,153.1 L1468.6,153.1 L1476.7,145.7 L1486.5,145.7 L1493,138.4" fill="none" stroke="#15151c" stroke-width="1.2" stroke-linejoin="round"/>
<path d="M1493,138.4 L1500.4,131 L1512.9,141.6" fill="none" stroke="#15151c" stroke-width="1.2" stroke-linejoin="round"/>
<path d="M1512.9,141.6 L1514.2,128.6 L1516.9,121.6 L1521.3,112.8 L1527.9,108.4 L1536.9,107.2 L1543.6,109.5 L1552.6,111.6 L1561.4,113.9 L1570.4,117.2 L1579.3,115.1 L1588.3,116 L1597.1,119.5 L1606.1,120.5 L1615,117.2 L1623.9,114.6 L1638.2,113.9" fill="none" stroke="#15151c" stroke-width="1.2" stroke-linejoin="round"/>
<path d="M1458.8,88.7 L1469.2,84.6 L1494,81 L1506.4,77.3 L1513.8,72.4 L1518.7,62.4 L1522.4,56.9 L1522.4,40.6" fill="none" stroke="#15151c" stroke-width="1.2" stroke-linejoin="round"/>
<path d="M1591.7,276.1 L1593.4,279.4 L1596.6,278.6 L1599.9,272.9 L1598.2,270.4 L1595,271.2Z" fill="none" stroke="#111" stroke-width="1.1"/>
<circle cx="1574.6" cy="305.8" r="1.5" fill="#14142a"/>
<path d="M1271.2,223.1 L1274.8,224.9 L1284.4,230.6 L1293.2,239.4 L1302.1,247.1 L1312.2,254.1 L1322.4,258.3 L1329.9,260.3 L1342.5,254.1 L1357.8,249.1 L1373,246.4 L1388.2,245.3 L1402,247.1 L1410.8,249.5 L1419.8,253.3 L1429.9,248.2 L1443.8,243.4 L1456.3,238.3 L1469.1,234.6 L1476.7,230.6 L1489.3,228.2 L1504.5,226.4 L1514.6,225.1 L1522.2,226.4 L1529.7,230.6 L1537.4,237 L1542.5,244.5 L1546.2,253.3 L1552.6,259.7 L1565.3,258.3 L1580.5,256.6 L1592.2,255.4 L1598.6,258.5 L1606.1,265.8 L1612.3,274.6 L1614.7,283.5 L1614.1,295.8 L1610.8,303.7 L1607.2,311.2 L1605.6,316.1" fill="none" stroke="#161a22" stroke-width="1.4" stroke-linejoin="round"/>
</g>
<rect x="1275.4" y="43.4" width="357.7" height="268" fill="none" stroke="#333" stroke-width="1.35"/>
<text x="1266.4" y="295.2" text-anchor="end" font-size="14.39" textLength="35.5" lengthAdjust="spacingAndGlyphs">2.5°N</text>
<text x="1266.4" y="254.4" text-anchor="end" font-size="14.39" textLength="23.6" lengthAdjust="spacingAndGlyphs">5°N</text>
<text x="1266.4" y="213.7" text-anchor="end" font-size="14.39" textLength="35.5" lengthAdjust="spacingAndGlyphs">7.5°N</text>
<text x="1266.4" y="172.9" text-anchor="end" font-size="14.39" textLength="31.5" lengthAdjust="spacingAndGlyphs">10°N</text>
<text x="1266.4" y="132.2" text-anchor="end" font-size="14.39" textLength="43.5" lengthAdjust="spacingAndGlyphs">12.5°N</text>
<text x="1266.4" y="91.4" text-anchor="end" font-size="14.39" textLength="31.5" lengthAdjust="spacingAndGlyphs">15°N</text>
<text x="1266.4" y="50.7" text-anchor="end" font-size="14.39" textLength="43.5" lengthAdjust="spacingAndGlyphs">17.5°N</text>
<text x="1307.1" y="328.2" text-anchor="middle" font-size="14.39" textLength="26.6" lengthAdjust="spacingAndGlyphs">9°W</text>
<text x="1356" y="328.2" text-anchor="middle" font-size="14.39" textLength="26.6" lengthAdjust="spacingAndGlyphs">6°W</text>
<text x="1405" y="328.2" text-anchor="middle" font-size="14.39" textLength="26.6" lengthAdjust="spacingAndGlyphs">3°W</text>
<text x="1453.9" y="328.2" text-anchor="middle" font-size="14.39" textLength="14.2" lengthAdjust="spacingAndGlyphs">0°</text>
<text x="1502.8" y="328.2" text-anchor="middle" font-size="14.39" textLength="22.1" lengthAdjust="spacingAndGlyphs">3°E</text>
<text x="1551.8" y="328.2" text-anchor="middle" font-size="14.39" textLength="22.1" lengthAdjust="spacingAndGlyphs">6°E</text>
<text x="1600.7" y="328.2" text-anchor="middle" font-size="14.39" textLength="22.1" lengthAdjust="spacingAndGlyphs">9°E</text>
<text x="1453.4" y="32.1" text-anchor="middle" font-size="15.87" textLength="153.9" lengthAdjust="spacingAndGlyphs">GSMAP 2020-08-11</text>
<rect x="1655.7" y="32.4" width="13.3" height="290" fill="url(#vg)"/>
<rect x="1655.7" y="32.4" width="13.3" height="290" fill="none" stroke="#222" stroke-width="0.9"/>
<line x1="1669" y1="322.4" x2="1673.2" y2="322.4" stroke="#222" stroke-width="1"/>
<text x="1679.2" y="326.5" text-anchor="start" font-size="14.39" textLength="8" lengthAdjust="spacingAndGlyphs">0</text>
<line x1="1669" y1="283.7" x2="1673.2" y2="283.7" stroke="#222" stroke-width="1"/>
<text x="1679.2" y="287.8" text-anchor="start" font-size="14.39" textLength="15.9" lengthAdjust="spacingAndGlyphs">20</text>
<line x1="1669" y1="245.1" x2="1673.2" y2="245.1" stroke="#222" stroke-width="1"/>
<text x="1679.2" y="249.2" text-anchor="start" font-size="14.39" textLength="15.9" lengthAdjust="spacingAndGlyphs">40</text>
<line x1="1669" y1="206.4" x2="1673.2" y2="206.4" stroke="#222" stroke-width="1"/>
<text x="1679.2" y="210.5" text-anchor="start" font-size="14.39" textLength="15.9" lengthAdjust="spacingAndGlyphs">60</text>
<line x1="1669" y1="167.7" x2="1673.2" y2="167.7" stroke="#222" stroke-width="1"/>
<text x="1679.2" y="171.8" text-anchor="start" font-size="14.39" textLength="15.9" lengthAdjust="spacingAndGlyphs">80</text>
<line x1="1669" y1="129.1" x2="1673.2" y2="129.1" stroke="#222" stroke-width="1"/>
<text x="1679.2" y="133.2" text-anchor="start" font-size="14.39" textLength="23.9" lengthAdjust="spacingAndGlyphs">100</text>
<line x1="1669" y1="90.4" x2="1673.2" y2="90.4" stroke="#222" stroke-width="1"/>
<text x="1679.2" y="94.5" text-anchor="start" font-size="14.39" textLength="23.9" lengthAdjust="spacingAndGlyphs">120</text>
<line x1="1669" y1="51.7" x2="1673.2" y2="51.7" stroke="#222" stroke-width="1"/>
<text x="1679.2" y="55.8" text-anchor="start" font-size="14.39" textLength="23.9" lengthAdjust="spacingAndGlyphs">140</text>
</g>
<g id="p4">
<clipPath id="ax4"><rect x="1864.7" y="45.1" width="355.7" height="266.6"/></clipPath>
<g clip-path="url(#ax4)">
<g stroke="#cfcfcf" stroke-width="1.4"><line x1="1896.3" y1="45.1" x2="1896.3" y2="311.7"/><line x1="1944.9" y1="45.1" x2="1944.9" y2="311.7"/><line x1="1993.6" y1="45.1" x2="1993.6" y2="311.7"/><line x1="2042.2" y1="45.1" x2="2042.2" y2="311.7"/><line x1="2090.8" y1="45.1" x2="2090.8" y2="311.7"/><line x1="2139.5" y1="45.1" x2="2139.5" y2="311.7"/><line x1="2188.1" y1="45.1" x2="2188.1" y2="311.7"/><line x1="1864.7" y1="292.1" x2="2220.4" y2="292.1"/><line x1="1864.7" y1="251.5" x2="2220.4" y2="251.5"/><line x1="1864.7" y1="210.9" x2="2220.4" y2="210.9"/><line x1="1864.7" y1="170.3" x2="2220.4" y2="170.3"/><line x1="1864.7" y1="129.7" x2="2220.4" y2="129.7"/><line x1="1864.7" y1="89" x2="2220.4" y2="89"/><line x1="1864.7" y1="48.4" x2="2220.4" y2="48.4"/></g>
<path d="M1860.6,223.9 L1864.2,225.7 L1873.8,231.4 L1882.5,240.2 L1891.3,247.8 L1901.3,254.8 L1911.5,259 L1919,260.9 L1931.5,254.8 L1946.7,249.7 L1961.8,247.1 L1976.9,246 L1990.7,247.8 L1999.4,250.2 L2008.3,254 L2018.4,248.9 L2032.1,244 L2044.6,239 L2057.3,235.3 L2064.9,231.4 L2077.4,228.9 L2092.5,227.2 L2102.5,225.8 L2110.1,227.2 L2117.6,231.4 L2125.2,237.7 L2130.2,245.2 L2133.9,254 L2140.3,260.3 L2152.9,259 L2168,257.2 L2179.7,256.1 L2186,259.2 L2193.4,266.5 L2199.6,275.2 L2202,284 L2201.4,296.4 L2198.1,304.2 L2194.6,311.6 L2193,316.5 L2193,324.6 L1855.8,324.6Z" fill="#98b6e1" fill-opacity="0.94"/>
<path d="M1880.9,121.9 L1884.2,121.9 L1885.1,125.6 L1915.1,126.1 L1916.0,121.9 L1921.8,118.5 L1930.2,117.2 L1938.5,115.2 L1943.6,116.0 L1950.2,113.5 L1958.6,112.7 L1961.9,110.2 L1966.1,106.8 L1970.3,104.3 L1977.0,103.5 L1983.7,104.3 L1987.8,107.7 L1991.2,110.2 L1993.7,106.8 L1997.0,102.7 L2003.7,100.2 L2009.6,97.7 L2012.1,93.5 L2011.2,89.3 L2015.4,86.0 L2014.6,81.8 L2010.4,77.6 L2005.4,73.4 L2001.2,68.4 L1998.7,63.4 L1999.5,57.5 L2002.0,55.9 L2018.8,55.9 L2021.3,60.1 L2024.6,65.1 L2026.3,70.1 L2027.1,74.3 L2033.8,75.1 L2038.8,74.3 L2040.5,80.1 L2043.8,80.9 L2050.5,80.1 L2055.5,79.3 L2060.5,78.4 L2063.0,74.3 L2068.9,73.4 L2073.1,75.9 L2078.9,78.4 L2083.9,75.9 L2090.6,74.3 L2095.6,71.8 L2099.0,67.6 L2104.0,63.4 L2110.7,61.7 L2119.0,59.2 L2122.4,61.7 L2119.9,65.1 L2127.4,64.2 L2130.7,65.9 L2125.7,68.4 L2120.7,70.1 L2114.0,70.9 L2110.7,73.4 L2105.7,75.9 L2100.6,80.1 L2097.3,84.3 L2094.0,87.6 L2100.6,90.1 L2102.3,96.8 L2097.3,99.3 L2090.6,98.5 L2085.6,96.0 L2080.6,96.8 L2078.9,101.8 L2073.9,104.3 L2068.9,106.8 L2066.4,110.2 L2068.9,115.2 L2073.9,118.5 L2080.6,120.2 L2087.3,121.0 L2094.0,120.2 L2102.3,118.5 L2109.0,115.2 L2112.3,111.9 L2117.4,110.2 L2127.4,108.5 L2135.7,107.7 L2142.4,109.4 L2150.8,111.9 L2159.1,111.9 L2167.5,113.5 L2174.2,116.0 L2177.5,120.2 L2179.2,126.9 L2183.4,128.6 L2184.2,133.6 L2190.0,133.6 L2192.6,140.3 L2194.2,136.9 L2203.4,136.1 L2203.4,196.0 L2195.9,196.8 L2190.9,199.4 L2185.9,200.2 L2177.5,202.7 L2169.2,204.4 L2160.8,206.0 L2154.1,208.5 L2147.4,211.0 L2144.1,213.6 L2142.4,218.6 L2137.4,220.2 L2139.1,215.2 L2134.1,208.5 L2127.4,205.2 L2120.7,207.7 L2115.7,205.2 L2110.7,208.5 L2104.0,212.7 L2099.0,213.6 L2097.3,218.6 L2094.0,221.1 L2088.9,222.7 L2085.6,226.9 L2082.3,223.6 L2077.2,226.1 L2075.6,230.3 L2070.6,231.9 L2067.2,237.0 L2060.5,237.0 L2057.2,233.6 L2052.2,231.9 L2047.2,226.9 L2043.8,230.3 L2040.5,233.6 L2037.1,228.6 L2043.8,223.6 L2048.8,218.6 L2043.8,216.1 L2037.1,221.1 L2032.1,223.6 L2027.1,228.6 L2022.1,231.9 L2017.1,238.6 L2010.4,240.3 L2005.4,237.0 L2002.0,231.9 L1998.7,226.9 L1995.4,221.9 L1992.0,216.9 L1987.0,211.9 L1983.7,210.2 L1977.0,215.2 L1970.3,218.6 L1963.6,222.7 L1956.9,226.1 L1951.9,224.4 L1948.6,221.1 L1945.2,216.9 L1940.2,221.1 L1935.2,225.3 L1938.5,218.6 L1943.6,213.6 L1948.6,208.5 L1950.2,203.5 L1943.6,202.7 L1936.9,204.4 L1931.9,206.0 L1934.4,211.9 L1931.9,216.9 L1926.8,220.2 L1921.8,222.7 L1918.5,218.6 L1915.1,213.6 L1908.5,211.9 L1901.8,211.9 L1895.9,212.7 L1894.3,206.9 L1890.1,213.6 L1880.9,212.7Z M2052.2,93.5 L2060.5,92.1 L2063.0,95.1 L2055.5,97.2Z M2159.1,165.9 L2170.8,163.4 L2177.5,161.8 L2184.2,163.4 L2187.5,166.8 L2194.2,168.4 L2200.9,170.1 L2199.2,176.0 L2190.9,177.6 L2185.9,175.1 L2180.9,171.8 L2174.2,170.1 L2165.8,170.9 L2160.0,170.1Z M2183.4,133.3 L2192.6,132.5 L2194.2,138.4 L2187.5,140.0 L2184.2,137.5Z M2018.8,221.1 L2025.4,216.9 L2028.8,215.2 L2027.1,220.2 L2020.4,223.6Z M1975.3,164.3 L1978.6,164.3 L1978.6,166.8 L1975.3,166.8Z M1882.6,168.4 L1887.6,168.4 L1887.6,171.8 L1882.6,171.8Z M1891.8,60.1 L1896.8,55.9 L1911.8,55.4 L1918.5,58.4 L1919.3,64.2 L1924.3,68.4 L1925.2,72.6 L1918.5,73.4 L1913.5,75.9 L1910.1,73.4 L1911.8,68.4 L1908.5,65.1 L1901.8,66.7 L1897.6,63.4 L1891.8,65.9Z M1910.1,85.1 L1916.8,80.1 L1926.0,76.8 L1929.4,80.1 L1935.2,80.9 L1933.5,84.3 L1926.8,87.6 L1918.5,88.5 L1911.0,88.1Z M2033.0,55.9 L2054.7,55.4 L2054.7,60.1 L2051.3,65.1 L2043.8,65.9 L2038.8,65.1 L2037.1,60.1 L2033.8,59.2Z M2109.8,91.8 L2115.7,93.5 L2127.4,93.1 L2129.4,96.8 L2122.4,99.3 L2114.0,98.5 L2110.7,96.0Z M2131.6,86.8 L2135.7,82.6 L2143.3,80.9 L2142.4,85.1 L2137.4,90.1 L2133.2,90.1Z M2152.4,76.4 L2155.8,76.4 L2155.8,79.3 L2152.4,79.3Z M2193.4,95.1 L2195.9,95.1 L2195.9,98.5 L2193.4,98.5Z M2200.9,104.3 L2203.4,104.3 L2203.4,107.7 L2200.9,107.7Z M2190.0,114.4 L2193.4,114.4 L2193.4,117.7 L2190.0,117.7Z M2179.2,114.4 L2184.2,116.9 L2183.4,120.2 L2180.0,119.4Z M1906.0,104.3 L1910.1,104.3 L1910.1,107.7 L1906.0,107.7Z M1907.6,116.9 L1911.0,114.4 L1914.3,117.2 L1911.0,120.2Z M2187.5,205.2 L2194.2,202.7 L2203.4,201.0 L2203.4,248.4 L2194.2,249.3 L2191.7,255.1 L2184.2,255.9 L2180.9,248.4 L2180.0,240.1 L2187.5,238.4 L2188.4,231.7 L2187.5,223.4 L2180.0,223.4 L2180.0,211.7 L2183.4,216.9 L2181.7,210.2Z M2114.0,295.2 L2118.2,291.0 L2122.4,285.2 L2127.4,279.3 L2132.4,271.8 L2137.4,267.6 L2147.4,268.5 L2154.1,266.8 L2159.1,261.8 L2167.5,259.3 L2177.5,258.4 L2184.2,261.0 L2187.5,265.1 L2194.2,266.0 L2199.2,270.1 L2200.9,276.8 L2199.2,285.2 L2195.9,291.9 L2192.6,296.0 L2185.9,297.7 L2177.5,298.6 L2169.2,298.6 L2160.8,296.9 L2155.8,297.7 L2154.1,293.5 L2149.1,293.5 L2148.3,298.6 L2135.7,299.4 L2124.0,298.6 L2114.8,299.1Z M2144.1,288.5 L2149.1,281.8 L2155.8,276.8 L2154.1,283.5 L2151.6,289.4Z M2164.1,289.4 L2169.2,284.4 L2173.3,283.5 L2170.8,288.5Z M2175.8,281.0 L2180.9,273.5 L2185.9,270.1 L2187.5,276.0 L2182.5,281.8Z M2125.7,286.9 L2144.1,286.0 L2144.1,288.2 L2125.7,289.2Z M2043.8,247.6 L2050.5,245.1 L2060.5,240.9 L2064.7,243.4 L2058.9,247.6 L2052.2,249.3 L2047.2,252.6 L2048.0,258.4 L2042.2,260.1 L2040.5,255.1Z M2054.2,263.5 L2055.9,261.3 L2059.2,261.3 L2061.2,263.8 L2060.2,266.8 L2056.9,267.6 L2054.5,266.1Z M2084.8,249.3 L2092.3,245.1 L2094.0,247.6 L2087.3,252.6Z M2120.7,247.6 L2125.7,247.6 L2125.7,253.4 L2120.7,253.4Z M2165.8,247.6 L2168.3,247.6 L2168.3,250.1 L2165.8,250.1Z M2172.5,244.2 L2175.8,244.2 L2175.8,246.8 L2172.5,246.8Z" fill="#48076b" fill-rule="evenodd"/>
<clipPath id="bc4"><path d="M1880.9,121.9 L1884.2,121.9 L1885.1,125.6 L1915.1,126.1 L1916.0,121.9 L1921.8,118.5 L1930.2,117.2 L1938.5,115.2 L1943.6,116.0 L1950.2,113.5 L1958.6,112.7 L1961.9,110.2 L1966.1,106.8 L1970.3,104.3 L1977.0,103.5 L1983.7,104.3 L1987.8,107.7 L1991.2,110.2 L1993.7,106.8 L1997.0,102.7 L2003.7,100.2 L2009.6,97.7 L2012.1,93.5 L2011.2,89.3 L2015.4,86.0 L2014.6,81.8 L2010.4,77.6 L2005.4,73.4 L2001.2,68.4 L1998.7,63.4 L1999.5,57.5 L2002.0,55.9 L2018.8,55.9 L2021.3,60.1 L2024.6,65.1 L2026.3,70.1 L2027.1,74.3 L2033.8,75.1 L2038.8,74.3 L2040.5,80.1 L2043.8,80.9 L2050.5,80.1 L2055.5,79.3 L2060.5,78.4 L2063.0,74.3 L2068.9,73.4 L2073.1,75.9 L2078.9,78.4 L2083.9,75.9 L2090.6,74.3 L2095.6,71.8 L2099.0,67.6 L2104.0,63.4 L2110.7,61.7 L2119.0,59.2 L2122.4,61.7 L2119.9,65.1 L2127.4,64.2 L2130.7,65.9 L2125.7,68.4 L2120.7,70.1 L2114.0,70.9 L2110.7,73.4 L2105.7,75.9 L2100.6,80.1 L2097.3,84.3 L2094.0,87.6 L2100.6,90.1 L2102.3,96.8 L2097.3,99.3 L2090.6,98.5 L2085.6,96.0 L2080.6,96.8 L2078.9,101.8 L2073.9,104.3 L2068.9,106.8 L2066.4,110.2 L2068.9,115.2 L2073.9,118.5 L2080.6,120.2 L2087.3,121.0 L2094.0,120.2 L2102.3,118.5 L2109.0,115.2 L2112.3,111.9 L2117.4,110.2 L2127.4,108.5 L2135.7,107.7 L2142.4,109.4 L2150.8,111.9 L2159.1,111.9 L2167.5,113.5 L2174.2,116.0 L2177.5,120.2 L2179.2,126.9 L2183.4,128.6 L2184.2,133.6 L2190.0,133.6 L2192.6,140.3 L2194.2,136.9 L2203.4,136.1 L2203.4,196.0 L2195.9,196.8 L2190.9,199.4 L2185.9,200.2 L2177.5,202.7 L2169.2,204.4 L2160.8,206.0 L2154.1,208.5 L2147.4,211.0 L2144.1,213.6 L2142.4,218.6 L2137.4,220.2 L2139.1,215.2 L2134.1,208.5 L2127.4,205.2 L2120.7,207.7 L2115.7,205.2 L2110.7,208.5 L2104.0,212.7 L2099.0,213.6 L2097.3,218.6 L2094.0,221.1 L2088.9,222.7 L2085.6,226.9 L2082.3,223.6 L2077.2,226.1 L2075.6,230.3 L2070.6,231.9 L2067.2,237.0 L2060.5,237.0 L2057.2,233.6 L2052.2,231.9 L2047.2,226.9 L2043.8,230.3 L2040.5,233.6 L2037.1,228.6 L2043.8,223.6 L2048.8,218.6 L2043.8,216.1 L2037.1,221.1 L2032.1,223.6 L2027.1,228.6 L2022.1,231.9 L2017.1,238.6 L2010.4,240.3 L2005.4,237.0 L2002.0,231.9 L1998.7,226.9 L1995.4,221.9 L1992.0,216.9 L1987.0,211.9 L1983.7,210.2 L1977.0,215.2 L1970.3,218.6 L1963.6,222.7 L1956.9,226.1 L1951.9,224.4 L1948.6,221.1 L1945.2,216.9 L1940.2,221.1 L1935.2,225.3 L1938.5,218.6 L1943.6,213.6 L1948.6,208.5 L1950.2,203.5 L1943.6,202.7 L1936.9,204.4 L1931.9,206.0 L1934.4,211.9 L1931.9,216.9 L1926.8,220.2 L1921.8,222.7 L1918.5,218.6 L1915.1,213.6 L1908.5,211.9 L1901.8,211.9 L1895.9,212.7 L1894.3,206.9 L1890.1,213.6 L1880.9,212.7Z M2052.2,93.5 L2060.5,92.1 L2063.0,95.1 L2055.5,97.2Z M2159.1,165.9 L2170.8,163.4 L2177.5,161.8 L2184.2,163.4 L2187.5,166.8 L2194.2,168.4 L2200.9,170.1 L2199.2,176.0 L2190.9,177.6 L2185.9,175.1 L2180.9,171.8 L2174.2,170.1 L2165.8,170.9 L2160.0,170.1Z M2183.4,133.3 L2192.6,132.5 L2194.2,138.4 L2187.5,140.0 L2184.2,137.5Z M2018.8,221.1 L2025.4,216.9 L2028.8,215.2 L2027.1,220.2 L2020.4,223.6Z M1975.3,164.3 L1978.6,164.3 L1978.6,166.8 L1975.3,166.8Z M1882.6,168.4 L1887.6,168.4 L1887.6,171.8 L1882.6,171.8Z M1891.8,60.1 L1896.8,55.9 L1911.8,55.4 L1918.5,58.4 L1919.3,64.2 L1924.3,68.4 L1925.2,72.6 L1918.5,73.4 L1913.5,75.9 L1910.1,73.4 L1911.8,68.4 L1908.5,65.1 L1901.8,66.7 L1897.6,63.4 L1891.8,65.9Z M1910.1,85.1 L1916.8,80.1 L1926.0,76.8 L1929.4,80.1 L1935.2,80.9 L1933.5,84.3 L1926.8,87.6 L1918.5,88.5 L1911.0,88.1Z M2033.0,55.9 L2054.7,55.4 L2054.7,60.1 L2051.3,65.1 L2043.8,65.9 L2038.8,65.1 L2037.1,60.1 L2033.8,59.2Z M2109.8,91.8 L2115.7,93.5 L2127.4,93.1 L2129.4,96.8 L2122.4,99.3 L2114.0,98.5 L2110.7,96.0Z M2131.6,86.8 L2135.7,82.6 L2143.3,80.9 L2142.4,85.1 L2137.4,90.1 L2133.2,90.1Z M2152.4,76.4 L2155.8,76.4 L2155.8,79.3 L2152.4,79.3Z M2193.4,95.1 L2195.9,95.1 L2195.9,98.5 L2193.4,98.5Z M2200.9,104.3 L2203.4,104.3 L2203.4,107.7 L2200.9,107.7Z M2190.0,114.4 L2193.4,114.4 L2193.4,117.7 L2190.0,117.7Z M2179.2,114.4 L2184.2,116.9 L2183.4,120.2 L2180.0,119.4Z M1906.0,104.3 L1910.1,104.3 L1910.1,107.7 L1906.0,107.7Z M1907.6,116.9 L1911.0,114.4 L1914.3,117.2 L1911.0,120.2Z M2187.5,205.2 L2194.2,202.7 L2203.4,201.0 L2203.4,248.4 L2194.2,249.3 L2191.7,255.1 L2184.2,255.9 L2180.9,248.4 L2180.0,240.1 L2187.5,238.4 L2188.4,231.7 L2187.5,223.4 L2180.0,223.4 L2180.0,211.7 L2183.4,216.9 L2181.7,210.2Z M2114.0,295.2 L2118.2,291.0 L2122.4,285.2 L2127.4,279.3 L2132.4,271.8 L2137.4,267.6 L2147.4,268.5 L2154.1,266.8 L2159.1,261.8 L2167.5,259.3 L2177.5,258.4 L2184.2,261.0 L2187.5,265.1 L2194.2,266.0 L2199.2,270.1 L2200.9,276.8 L2199.2,285.2 L2195.9,291.9 L2192.6,296.0 L2185.9,297.7 L2177.5,298.6 L2169.2,298.6 L2160.8,296.9 L2155.8,297.7 L2154.1,293.5 L2149.1,293.5 L2148.3,298.6 L2135.7,299.4 L2124.0,298.6 L2114.8,299.1Z M2144.1,288.5 L2149.1,281.8 L2155.8,276.8 L2154.1,283.5 L2151.6,289.4Z M2164.1,289.4 L2169.2,284.4 L2173.3,283.5 L2170.8,288.5Z M2175.8,281.0 L2180.9,273.5 L2185.9,270.1 L2187.5,276.0 L2182.5,281.8Z M2125.7,286.9 L2144.1,286.0 L2144.1,288.2 L2125.7,289.2Z M2043.8,247.6 L2050.5,245.1 L2060.5,240.9 L2064.7,243.4 L2058.9,247.6 L2052.2,249.3 L2047.2,252.6 L2048.0,258.4 L2042.2,260.1 L2040.5,255.1Z M2054.2,263.5 L2055.9,261.3 L2059.2,261.3 L2061.2,263.8 L2060.2,266.8 L2056.9,267.6 L2054.5,266.1Z M2084.8,249.3 L2092.3,245.1 L2094.0,247.6 L2087.3,252.6Z M2120.7,247.6 L2125.7,247.6 L2125.7,253.4 L2120.7,253.4Z M2165.8,247.6 L2168.3,247.6 L2168.3,250.1 L2165.8,250.1Z M2172.5,244.2 L2175.8,244.2 L2175.8,246.8 L2172.5,246.8Z" clip-rule="evenodd"/></clipPath>
<g clip-path="url(#bc4)">
<ellipse cx="2013.9" cy="161" rx="127.8" ry="45" fill="#3e4b89" filter="url(#bl12)"/>
<ellipse cx="1978.4" cy="161" rx="71" ry="28.4" fill="#39568c" filter="url(#bl8)"/>
<ellipse cx="2073.1" cy="168.1" rx="71" ry="26" fill="#375a8c" filter="url(#bl8)"/>
<ellipse cx="2144.1" cy="180" rx="42.6" ry="21.3" fill="#3e4b89" filter="url(#bl8)"/>
<ellipse cx="2151.2" cy="135" rx="28.4" ry="16.6" fill="#3e4b89" filter="url(#bl8)"/>
<ellipse cx="1919.2" cy="151.6" rx="26" ry="7.6" fill="#2f6b8e" filter="url(#bl5)"/>
<ellipse cx="1907.3" cy="191.8" rx="9.5" ry="14.2" fill="#2f6b8e" filter="url(#bl5)"/>
<ellipse cx="1971.3" cy="130.2" rx="11.8" ry="14.2" fill="#2d728e" filter="url(#bl5)"/>
<ellipse cx="1954.7" cy="184.7" rx="18.9" ry="9.5" fill="#34618d" filter="url(#bl5)"/>
<ellipse cx="1938.1" cy="168.1" rx="14.2" ry="7.1" fill="#365d8d" filter="url(#bl5)"/>
<ellipse cx="2002" cy="132.6" rx="49.7" ry="9.9" fill="#21928c" filter="url(#bl5)"/>
<ellipse cx="2011.5" cy="129.1" rx="16.6" ry="3.1" fill="#5cc863" filter="url(#bl2)"/>
<ellipse cx="1987.8" cy="137.3" rx="9.9" ry="4.7" fill="#30b57b" filter="url(#bl3)"/>
<ellipse cx="2030.5" cy="100.7" rx="14.7" ry="5.7" fill="#20a287" filter="url(#bl3)" transform="rotate(30 2030.5 100.7)"/>
<ellipse cx="2049.4" cy="123.1" rx="14.7" ry="5.7" fill="#1e9b89" filter="url(#bl3)"/>
<ellipse cx="2025.7" cy="158.7" rx="23.7" ry="7.6" fill="#21928c" filter="url(#bl5)"/>
<ellipse cx="2039.9" cy="165.8" rx="14.2" ry="14.7" fill="#1e9b89" filter="url(#bl5)"/>
<ellipse cx="2042.3" cy="191.8" rx="4.7" ry="9.9" fill="#41be72" filter="url(#bl3)"/>
<ellipse cx="2087.3" cy="149.2" rx="17.8" ry="17.8" fill="#25ab82" filter="url(#bl5)"/>
<ellipse cx="2088.5" cy="152.7" rx="7.6" ry="6.2" fill="#a6db35" filter="url(#bl2)"/>
<ellipse cx="2084.9" cy="136.2" rx="4.7" ry="5.2" fill="#83d34b" filter="url(#bl2)"/>
<ellipse cx="2097.2" cy="137.3" rx="2.6" ry="2.6" fill="#cbe120" filter="url(#bl2)"/>
<ellipse cx="2125.2" cy="184.7" rx="22.5" ry="9.5" fill="#238c8d" filter="url(#bl5)"/>
<ellipse cx="2068.3" cy="161" rx="11.8" ry="9.5" fill="#24888d" filter="url(#bl5)"/>
<ellipse cx="2132.3" cy="157.5" rx="26" ry="7.1" fill="#481e6f" filter="url(#bl5)"/>
<ellipse cx="2174.9" cy="149.2" rx="9.5" ry="21.3" fill="#481e6f" filter="url(#bl8)"/>
<g stroke="rgba(205,165,225,0.62)" stroke-width="1.5"><line x1="1896.3" y1="45.1" x2="1896.3" y2="311.7"/><line x1="1944.9" y1="45.1" x2="1944.9" y2="311.7"/><line x1="1993.6" y1="45.1" x2="1993.6" y2="311.7"/><line x1="2042.2" y1="45.1" x2="2042.2" y2="311.7"/><line x1="2090.8" y1="45.1" x2="2090.8" y2="311.7"/><line x1="2139.5" y1="45.1" x2="2139.5" y2="311.7"/><line x1="2188.1" y1="45.1" x2="2188.1" y2="311.7"/><line x1="1864.7" y1="292.1" x2="2220.4" y2="292.1"/><line x1="1864.7" y1="251.5" x2="2220.4" y2="251.5"/><line x1="1864.7" y1="210.9" x2="2220.4" y2="210.9"/><line x1="1864.7" y1="170.3" x2="2220.4" y2="170.3"/><line x1="1864.7" y1="129.7" x2="2220.4" y2="129.7"/><line x1="1864.7" y1="89" x2="2220.4" y2="89"/><line x1="1864.7" y1="48.4" x2="2220.4" y2="48.4"/></g>
</g>
<path d="M1918.7,259.6 L1920.8,250.4 L1922.1,239.5 L1917.1,233 L1910.6,228.6 L1903.9,226 L1903,223.1 L1906.2,217.7 L1903.9,211.1 L1906.2,203.4 L1910.6,199 L1915,193.7 L1916.1,188.2 L1912.7,182.8 L1910.6,176.1 L1909.4,169.6 L1910.6,164.1" fill="none" stroke="#15151c" stroke-width="1.2" stroke-linejoin="round"/>
<path d="M1910.6,164.1 L1917.1,165.2 L1922.6,163.1 L1929.2,160.8 L1934.6,159.7 L1939.1,157.6 L1940.6,163.1 L1945.6,164.8 L1951.1,162 L1956.6,165.2 L1962,169.6 L1968.6,172.9 L1975.1,174 L1981.7,171.9 L1988.4,171.4 L1994.9,174" fill="none" stroke="#15151c" stroke-width="1.2" stroke-linejoin="round"/>
<path d="M1994.9,174 L1996,180.5 L1998.1,189.3 L1999.2,198.1 L1996,206.7 L1992.8,213.3 L1990,219.8 L1989.4,228.6 L1991.6,237.4 L1994.9,241.8 L1994.9,247.1" fill="none" stroke="#15151c" stroke-width="1.2" stroke-linejoin="round"/>
<path d="M1903.9,210.7 L1899.6,211.1 L1896.3,213.7 L1891.9,210.1 L1888.7,202.5 L1886.4,195.8 L1880.9,194.2 L1874.4,195.8 L1871.2,194.8" fill="none" stroke="#15151c" stroke-width="1.2" stroke-linejoin="round"/>
<path d="M1871.2,194.8 L1868.9,187 L1866.8,180.5 L1864.5,177.3 L1862.3,171.9" fill="none" stroke="#15151c" stroke-width="1.2" stroke-linejoin="round"/>
<path d="M1871.2,194.8 L1867.8,200.2 L1864.5,204.6 L1860.6,209.3" fill="none" stroke="#15151c" stroke-width="1.2" stroke-linejoin="round"/>
<path d="M2057.9,231.9 L2052.9,225.5 L2050.5,214.5 L2051.1,202 L2049.2,189.6 L2047.9,179.7 L2046.7,169.8 L2042.2,160.5 L2040.3,152.4" fill="none" stroke="#15151c" stroke-width="1.2" stroke-linejoin="round"/>
<path d="M2069.1,228.1 L2067.8,214.5 L2067,202 L2066.5,189.6 L2065.4,177.3 L2064.1,167.3 L2056.8,154" fill="none" stroke="#15151c" stroke-width="1.2" stroke-linejoin="round"/>
<path d="M2086,226.3 L2086,214.5 L2086.5,202 L2086.9,185.9 L2091.5,182.1 L2093.9,174.7 L2097.6,167.3 L2100.1,162.3 L2103.8,157.3 L2100.6,149.1 L2100.9,142.7" fill="none" stroke="#15151c" stroke-width="1.2" stroke-linejoin="round"/>
<path d="M2179.7,254.6 L2183.4,246.7 L2187.1,234.3 L2195.9,224.4 L2205.8,219.3 L2213.2,216.9 L2219.5,220.7 L2225.4,223.9" fill="none" stroke="#15151c" stroke-width="1.2" stroke-linejoin="round"/>
<path d="M2201.4,296.4 L2225.4,296.4" fill="none" stroke="#15151c" stroke-width="1.2" stroke-linejoin="round"/>
<path d="M1860.6,85.8 L1863.9,84.5 L1868.4,81.9 L1877.3,81.2 L1886.3,81.2 L1889.7,78.3 L1891.8,80.6 L1908.6,80.1 L1931,80.1 L1952.2,80.1 L1955.2,73.4 L1955.2,64.5 L1951.1,55.6 L1948.8,41.9" fill="none" stroke="#15151c" stroke-width="1.2" stroke-linejoin="round"/>
<path d="M1860.6,131.3 L1863.9,133.6 L1868.4,137 L1872.8,134.7 L1878.5,133.1 L1888.5,131.3 L1897.4,133.6 L1899.7,140.2 L1904.1,146.9 L1905.2,153.5 L1908.6,160.4 L1910.6,164.1" fill="none" stroke="#15151c" stroke-width="1.2" stroke-linejoin="round"/>
<path d="M1952.2,163 L1954.5,151.4 L1957.7,137.9 L1968.9,131.3 L1971.2,117.9 L1984.7,109 L1993.6,100.1 L2007,93.4 L2024.9,90.2 L2037.3,88.2 L2047.1,89.8" fill="none" stroke="#15151c" stroke-width="1.2" stroke-linejoin="round"/>
<path d="M2047.1,89.8 L2047.7,100.6 L2057.4,112.9 L2067.3,122.7 L2077.2,130.1 L2077.9,136.2 L2081.1,139.4" fill="none" stroke="#15151c" stroke-width="1.2" stroke-linejoin="round"/>
<path d="M1994.9,174 L1996.8,165.4 L1995.2,155.7 L2009.8,154 L2022.7,154 L2034.1,153.2 L2040.3,152.4 L2050.3,154 L2056.8,154 L2064.9,146.7 L2074.6,146.7 L2081.1,139.4" fill="none" stroke="#15151c" stroke-width="1.2" stroke-linejoin="round"/>
<path d="M2081.1,139.4 L2088.4,132.1 L2100.9,142.7" fill="none" stroke="#15151c" stroke-width="1.2" stroke-linejoin="round"/>
<path d="M2100.9,142.7 L2102.2,129.7 L2104.8,122.7 L2109.1,113.9 L2115.8,109.5 L2124.7,108.4 L2131.4,110.6 L2140.3,112.8 L2149,115 L2157.9,118.3 L2166.9,116.2 L2175.8,117.1 L2184.5,120.5 L2193.4,121.5 L2202.4,118.3 L2211.1,115.7 L2225.4,115" fill="none" stroke="#15151c" stroke-width="1.2" stroke-linejoin="round"/>
<path d="M2047.1,89.8 L2057.4,85.8 L2082.1,82.2 L2094.4,78.5 L2101.7,73.6 L2106.6,63.7 L2110.3,58.2 L2110.3,41.9" fill="none" stroke="#15151c" stroke-width="1.2" stroke-linejoin="round"/>
<path d="M2179.2,276.7 L2180.8,280 L2184,279.1 L2187.3,273.5 L2185.7,271 L2182.4,271.8Z" fill="none" stroke="#111" stroke-width="1.1"/>
<circle cx="2162.2" cy="306.3" r="1.5" fill="#14142a"/>
<path d="M1860.6,223.9 L1864.2,225.7 L1873.8,231.4 L1882.5,240.2 L1891.3,247.8 L1901.3,254.8 L1911.5,259 L1919,260.9 L1931.5,254.8 L1946.7,249.7 L1961.8,247.1 L1976.9,246 L1990.7,247.8 L1999.4,250.2 L2008.3,254 L2018.4,248.9 L2032.1,244 L2044.6,239 L2057.3,235.3 L2064.9,231.4 L2077.4,228.9 L2092.5,227.2 L2102.5,225.8 L2110.1,227.2 L2117.6,231.4 L2125.2,237.7 L2130.2,245.2 L2133.9,254 L2140.3,260.3 L2152.9,259 L2168,257.2 L2179.7,256.1 L2186,259.2 L2193.4,266.5 L2199.6,275.2 L2202,284 L2201.4,296.4 L2198.1,304.2 L2194.6,311.6 L2193,316.5" fill="none" stroke="#161a22" stroke-width="1.4" stroke-linejoin="round"/>
</g>
<rect x="1864.7" y="45.1" width="355.7" height="266.6" fill="none" stroke="#333" stroke-width="1.35"/>
<text x="1855.7" y="295.8" text-anchor="end" font-size="14.3" textLength="35.3" lengthAdjust="spacingAndGlyphs">2.5°N</text>
<text x="1855.7" y="255.1" text-anchor="end" font-size="14.3" textLength="23.4" lengthAdjust="spacingAndGlyphs">5°N</text>
<text x="1855.7" y="214.5" text-anchor="end" font-size="14.3" textLength="35.3" lengthAdjust="spacingAndGlyphs">7.5°N</text>
<text x="1855.7" y="173.9" text-anchor="end" font-size="14.3" textLength="31.3" lengthAdjust="spacingAndGlyphs">10°N</text>
<text x="1855.7" y="133.2" text-anchor="end" font-size="14.3" textLength="43.2" lengthAdjust="spacingAndGlyphs">12.5°N</text>
<text x="1855.7" y="92.6" text-anchor="end" font-size="14.3" textLength="31.3" lengthAdjust="spacingAndGlyphs">15°N</text>
<text x="1855.7" y="52" text-anchor="end" font-size="14.3" textLength="43.2" lengthAdjust="spacingAndGlyphs">17.5°N</text>
<text x="1896.3" y="328.5" text-anchor="middle" font-size="14.3" textLength="26.4" lengthAdjust="spacingAndGlyphs">9°W</text>
<text x="1944.9" y="328.5" text-anchor="middle" font-size="14.3" textLength="26.4" lengthAdjust="spacingAndGlyphs">6°W</text>
<text x="1993.6" y="328.5" text-anchor="middle" font-size="14.3" textLength="26.4" lengthAdjust="spacingAndGlyphs">3°W</text>
<text x="2042.2" y="328.5" text-anchor="middle" font-size="14.3" textLength="14.1" lengthAdjust="spacingAndGlyphs">0°</text>
<text x="2090.8" y="328.5" text-anchor="middle" font-size="14.3" textLength="22" lengthAdjust="spacingAndGlyphs">3°E</text>
<text x="2139.5" y="328.5" text-anchor="middle" font-size="14.3" textLength="22" lengthAdjust="spacingAndGlyphs">6°E</text>
<text x="2188.1" y="328.5" text-anchor="middle" font-size="14.3" textLength="22" lengthAdjust="spacingAndGlyphs">9°E</text>
<text x="2041.4" y="33.3" text-anchor="middle" font-size="15.77" textLength="153" lengthAdjust="spacingAndGlyphs">GSMAP 2020-08-14</text>
<rect x="2241.2" y="47.6" width="14.3" height="274.1" fill="url(#vg)"/>
<path d="M2241.2,48.1 L2248.3,32.6 L2255.5,48.1Z" fill="#fde725"/>
<path d="M2241.2,321.7 L2241.2,47.6 L2248.3,32.6 L2255.5,47.6 L2255.5,321.7Z" fill="none" stroke="#222" stroke-width="0.9"/>
<line x1="2255.5" y1="321.7" x2="2259.7" y2="321.7" stroke="#222" stroke-width="1"/>
<text x="2265.7" y="325.8" text-anchor="start" font-size="14.3" textLength="7.9" lengthAdjust="spacingAndGlyphs">0</text>
<line x1="2255.5" y1="285.2" x2="2259.7" y2="285.2" stroke="#222" stroke-width="1"/>
<text x="2265.7" y="289.3" text-anchor="start" font-size="14.3" textLength="15.8" lengthAdjust="spacingAndGlyphs">20</text>
<line x1="2255.5" y1="248.6" x2="2259.7" y2="248.6" stroke="#222" stroke-width="1"/>
<text x="2265.7" y="252.7" text-anchor="start" font-size="14.3" textLength="15.8" lengthAdjust="spacingAndGlyphs">40</text>
<line x1="2255.5" y1="212.1" x2="2259.7" y2="212.1" stroke="#222" stroke-width="1"/>
<text x="2265.7" y="216.2" text-anchor="start" font-size="14.3" textLength="15.8" lengthAdjust="spacingAndGlyphs">60</text>
<line x1="2255.5" y1="175.5" x2="2259.7" y2="175.5" stroke="#222" stroke-width="1"/>
<text x="2265.7" y="179.6" text-anchor="start" font-size="14.3" textLength="15.8" lengthAdjust="spacingAndGlyphs">80</text>
<line x1="2255.5" y1="139" x2="2259.7" y2="139" stroke="#222" stroke-width="1"/>
<text x="2265.7" y="143.1" text-anchor="start" font-size="14.3" textLength="23.7" lengthAdjust="spacingAndGlyphs">100</text>
<line x1="2255.5" y1="102.4" x2="2259.7" y2="102.4" stroke="#222" stroke-width="1"/>
<text x="2265.7" y="106.5" text-anchor="start" font-size="14.3" textLength="23.7" lengthAdjust="spacingAndGlyphs">120</text>
<line x1="2255.5" y1="65.9" x2="2259.7" y2="65.9" stroke="#222" stroke-width="1"/>
<text x="2265.7" y="70" text-anchor="start" font-size="14.3" textLength="23.7" lengthAdjust="spacingAndGlyphs">140</text>
</g>
<g id="p5">
<clipPath id="ax5"><rect x="103.5" y="423.9" width="364" height="272.8"/></clipPath>
<g clip-path="url(#ax5)">
<g stroke="#cfcfcf" stroke-width="1.4"><line x1="136.3" y1="423.9" x2="136.3" y2="696.7"/><line x1="186" y1="423.9" x2="186" y2="696.7"/><line x1="235.7" y1="423.9" x2="235.7" y2="696.7"/><line x1="285.3" y1="423.9" x2="285.3" y2="696.7"/><line x1="335" y1="423.9" x2="335" y2="696.7"/><line x1="384.6" y1="423.9" x2="384.6" y2="696.7"/><line x1="434.2" y1="423.9" x2="434.2" y2="696.7"/><line x1="103.5" y1="675.9" x2="467.5" y2="675.9"/><line x1="103.5" y1="634.6" x2="467.5" y2="634.6"/><line x1="103.5" y1="593.4" x2="467.5" y2="593.4"/><line x1="103.5" y1="552.1" x2="467.5" y2="552.1"/><line x1="103.5" y1="510.9" x2="467.5" y2="510.9"/><line x1="103.5" y1="469.6" x2="467.5" y2="469.6"/><line x1="103.5" y1="428.4" x2="467.5" y2="428.4"/></g>
<path d="M99.9,606.6 L103.6,608.4 L113.3,614.2 L122.3,623.1 L131.2,630.9 L141.5,637.9 L151.9,642.2 L159.5,644.2 L172.3,637.9 L187.8,632.8 L203.2,630.2 L218.6,629 L232.7,630.9 L241.6,633.3 L250.7,637.1 L261,632 L275,627.1 L287.8,621.9 L300.7,618.1 L308.5,614.2 L321.2,611.7 L336.6,609.9 L346.9,608.6 L354.6,609.9 L362.3,614.2 L370,620.6 L375.2,628.2 L379,637.1 L385.4,643.6 L398.3,642.2 L413.7,640.4 L425.6,639.3 L432.1,642.4 L439.7,649.8 L446,658.7 L448.5,667.6 L447.8,680.2 L444.5,688.1 L440.9,695.7 L439.2,700.6 L439.2,708.9 L95,708.9Z" fill="#98b6e1" fill-opacity="0.94"/>
<path d="M119.7,434.7 L259.6,434.7 L260.4,437.5 L265.4,438.4 L266.3,441.7 L273.8,440.9 L274.6,439.2 L280.5,440.1 L279.6,444.2 L276.3,447.6 L277.1,450.9 L283.8,450.1 L299.7,450.1 L300.5,455.1 L302.2,460.1 L301.4,463.4 L315.6,463.8 L334.0,463.8 L334.8,470.1 L334.0,476.8 L335.6,486.0 L350.7,486.0 L352.3,490.2 L357.4,493.5 L360.7,497.7 L367.4,500.2 L374.1,501.9 L382.4,500.2 L382.4,494.4 L390.8,493.5 L397.5,496.0 L404.1,499.4 L409.2,501.0 L414.2,502.7 L417.5,506.9 L419.2,511.9 L422.5,511.1 L425.0,505.2 L427.5,498.5 L430.0,493.5 L434.2,491.9 L442.6,493.5 L445.9,498.5 L450.1,500.2 L450.1,552.6 L444.3,554.3 L440.9,560.1 L439.2,566.8 L440.1,576.8 L440.1,584.4 L444.3,590.2 L450.1,591.9 L450.1,637.3 L444.3,635.1 L438.4,636.1 L435.1,640.6 L435.1,645.6 L440.9,649.0 L445.1,651.5 L447.6,658.2 L448.4,666.5 L445.9,674.9 L444.3,681.6 L432.6,682.9 L417.5,683.6 L405.8,682.9 L399.1,681.2 L398.8,677.4 L405.8,676.5 L384.1,676.5 L382.4,679.9 L375.7,681.6 L367.4,683.2 L350.7,683.6 L334.0,683.6 L322.3,683.2 L320.6,679.9 L323.1,676.5 L313.9,675.2 L314.7,673.2 L322.3,672.4 L327.3,669.0 L334.0,668.2 L340.6,666.5 L341.5,661.5 L335.6,659.8 L335.6,657.3 L347.3,656.5 L357.4,654.8 L360.7,650.6 L367.4,649.0 L370.7,646.5 L380.7,646.5 L387.4,647.3 L394.1,645.6 L400.8,643.1 L409.2,640.6 L415.8,639.8 L417.5,635.6 L416.7,631.4 L412.5,628.9 L411.7,623.1 L415.0,619.7 L422.5,618.9 L427.5,615.5 L429.2,609.7 L431.7,603.8 L435.9,601.1 L434.2,596.9 L435.9,591.9 L432.6,588.5 L430.0,583.5 L424.2,581.9 L417.5,580.2 L412.5,576.8 L405.8,578.5 L400.8,581.9 L394.1,583.5 L387.4,581.9 L382.4,579.4 L375.7,580.2 L370.7,576.8 L367.4,573.5 L360.7,570.2 L357.4,566.8 L354.8,560.1 L357.4,555.1 L364.0,552.6 L374.1,551.8 L384.1,550.9 L390.8,548.4 L394.1,543.4 L392.4,539.2 L384.1,538.4 L375.7,537.6 L367.4,535.1 L357.4,531.7 L350.7,530.9 L348.2,535.1 L347.3,540.9 L345.7,545.1 L343.1,549.3 L340.6,555.1 L337.3,558.5 L334.0,563.5 L330.6,566.0 L327.3,569.3 L324.8,566.8 L325.6,561.8 L322.3,558.5 L318.9,553.4 L315.6,556.8 L317.2,563.5 L313.9,567.7 L308.9,566.8 L305.5,570.2 L300.5,573.5 L297.2,576.8 L293.9,581.9 L288.8,581.9 L287.2,578.5 L280.5,578.5 L277.1,581.9 L270.5,585.2 L265.4,581.9 L260.4,578.5 L253.7,577.7 L247.1,576.8 L240.4,576.0 L235.4,573.5 L232.0,571.8 L227.0,571.8 L220.3,569.3 L213.6,568.5 L210.3,571.0 L207.0,567.7 L200.3,564.3 L193.6,563.5 L183.6,563.1 L175.2,563.5 L168.5,565.1 L163.5,567.7 L158.5,570.2 L153.5,571.8 L150.1,576.8 L148.5,581.9 L150.1,586.9 L148.5,591.9 L141.8,592.7 L136.8,593.6 L131.8,594.4 L125.1,592.7 L119.7,594.4Z M254.6,450.9 L258.8,447.6 L267.1,446.7 L270.5,443.4 L274.6,447.6 L272.1,452.6 L268.8,455.9 L267.9,460.9 L262.1,461.8 L257.9,458.4 L254.6,455.1Z M174.4,450.9 L180.2,449.2 L183.6,445.1 L190.2,444.2 L189.4,448.4 L185.2,451.8 L178.5,453.4Z M192.7,463.4 L196.9,460.9 L203.6,460.1 L208.6,455.9 L219.5,453.4 L220.3,459.3 L213.6,460.1 L207.0,464.3 L201.9,468.5 L193.6,468.5Z M237.0,456.8 L243.7,456.8 L243.7,459.3 L237.0,459.3Z M132.6,480.2 L138.4,478.5 L143.4,479.3 L144.3,483.5 L150.1,484.3 L152.6,489.4 L146.8,489.9 L141.8,486.8 L135.1,486.0 L132.6,483.5Z M119.9,488.5 L125.1,487.7 L132.6,486.8 L133.4,491.0 L126.7,493.5 L119.9,496.9Z M328.9,486.8 L334.0,486.8 L334.0,491.9 L328.9,491.9Z M199.4,529.5 L205.3,526.1 L211.1,525.3 L210.3,528.6 L204.4,532.0 L200.3,533.6Z M221.2,520.3 L227.0,519.4 L232.9,517.8 L233.7,521.9 L228.7,527.0 L225.3,532.8 L221.2,535.3 L222.0,528.6Z M441.7,510.2 L446.8,505.2 L447.6,508.6 L443.4,512.7Z M227.0,506.1 L229.5,506.1 L229.5,508.6 L227.0,508.6Z M217.8,540.9 L223.7,538.4 L232.0,533.4 L238.7,531.7 L247.1,530.1 L257.1,530.9 L267.1,530.1 L275.5,526.7 L280.5,520.0 L288.0,516.7 L288.8,520.0 L283.0,524.2 L277.1,530.9 L277.1,535.1 L270.5,536.7 L267.1,540.1 L260.4,541.8 L258.8,544.3 L257.1,540.1 L263.8,536.7 L257.1,535.1 L250.4,535.9 L242.0,536.7 L237.0,538.4 L233.7,542.6 L228.7,545.9 L223.7,545.9 L219.5,544.3Z M130.9,560.1 L134.3,556.0 L144.3,555.1 L145.1,560.1 L141.8,566.0 L131.8,567.7Z M119.9,540.9 L125.9,540.1 L126.7,545.1 L119.9,545.9Z M320.6,540.9 L328.1,540.9 L328.1,543.4 L320.6,543.4Z M399.1,526.7 L405.8,522.5 L410.8,518.4 L417.5,518.0 L416.7,521.7 L409.2,525.0 L409.2,530.9 L412.5,535.1 L405.8,536.7 L404.1,530.1Z M425.0,542.6 L430.0,536.7 L435.9,530.1 L442.6,527.5 L444.3,533.4 L449.3,535.1 L448.4,540.9 L440.9,542.6 L439.2,548.4 L432.6,549.3 L428.4,545.1Z M415.0,671.5 L417.5,666.5 L420.9,661.5 L425.0,656.5 L430.0,654.0 L432.6,655.7 L429.2,659.0 L425.0,662.3 L422.5,666.5 L420.0,671.5 L416.7,674.0Z M434.2,664.0 L440.9,661.5 L444.3,664.0 L440.9,668.2 L435.9,667.4Z M394.1,666.5 L400.8,662.3 L401.6,664.0 L395.5,668.2Z M349.8,440.1 L354.0,435.0 L367.4,435.9 L384.1,440.1 L389.1,445.1 L387.4,450.9 L375.7,451.8 L367.4,450.9 L364.0,453.4 L354.0,449.2 L349.8,446.7Z M354.0,456.8 L360.7,457.6 L367.4,460.1 L384.1,460.1 L386.6,465.1 L382.4,470.1 L374.1,473.5 L365.7,470.1 L358.2,467.6 L355.7,461.8Z M420.9,586.0 L424.2,586.0 L424.2,589.4 L420.9,589.4Z M410.8,594.4 L415.0,594.4 L415.0,596.9 L410.8,596.9Z M131.8,637.3 L136.8,637.3 L136.8,641.4 L131.8,641.4Z M366.5,635.6 L370.7,632.3 L371.6,637.3 L367.4,638.1Z" fill="#48076b" fill-rule="evenodd"/>
<clipPath id="bc5"><path d="M119.7,434.7 L259.6,434.7 L260.4,437.5 L265.4,438.4 L266.3,441.7 L273.8,440.9 L274.6,439.2 L280.5,440.1 L279.6,444.2 L276.3,447.6 L277.1,450.9 L283.8,450.1 L299.7,450.1 L300.5,455.1 L302.2,460.1 L301.4,463.4 L315.6,463.8 L334.0,463.8 L334.8,470.1 L334.0,476.8 L335.6,486.0 L350.7,486.0 L352.3,490.2 L357.4,493.5 L360.7,497.7 L367.4,500.2 L374.1,501.9 L382.4,500.2 L382.4,494.4 L390.8,493.5 L397.5,496.0 L404.1,499.4 L409.2,501.0 L414.2,502.7 L417.5,506.9 L419.2,511.9 L422.5,511.1 L425.0,505.2 L427.5,498.5 L430.0,493.5 L434.2,491.9 L442.6,493.5 L445.9,498.5 L450.1,500.2 L450.1,552.6 L444.3,554.3 L440.9,560.1 L439.2,566.8 L440.1,576.8 L440.1,584.4 L444.3,590.2 L450.1,591.9 L450.1,637.3 L444.3,635.1 L438.4,636.1 L435.1,640.6 L435.1,645.6 L440.9,649.0 L445.1,651.5 L447.6,658.2 L448.4,666.5 L445.9,674.9 L444.3,681.6 L432.6,682.9 L417.5,683.6 L405.8,682.9 L399.1,681.2 L398.8,677.4 L405.8,676.5 L384.1,676.5 L382.4,679.9 L375.7,681.6 L367.4,683.2 L350.7,683.6 L334.0,683.6 L322.3,683.2 L320.6,679.9 L323.1,676.5 L313.9,675.2 L314.7,673.2 L322.3,672.4 L327.3,669.0 L334.0,668.2 L340.6,666.5 L341.5,661.5 L335.6,659.8 L335.6,657.3 L347.3,656.5 L357.4,654.8 L360.7,650.6 L367.4,649.0 L370.7,646.5 L380.7,646.5 L387.4,647.3 L394.1,645.6 L400.8,643.1 L409.2,640.6 L415.8,639.8 L417.5,635.6 L416.7,631.4 L412.5,628.9 L411.7,623.1 L415.0,619.7 L422.5,618.9 L427.5,615.5 L429.2,609.7 L431.7,603.8 L435.9,601.1 L434.2,596.9 L435.9,591.9 L432.6,588.5 L430.0,583.5 L424.2,581.9 L417.5,580.2 L412.5,576.8 L405.8,578.5 L400.8,581.9 L394.1,583.5 L387.4,581.9 L382.4,579.4 L375.7,580.2 L370.7,576.8 L367.4,573.5 L360.7,570.2 L357.4,566.8 L354.8,560.1 L357.4,555.1 L364.0,552.6 L374.1,551.8 L384.1,550.9 L390.8,548.4 L394.1,543.4 L392.4,539.2 L384.1,538.4 L375.7,537.6 L367.4,535.1 L357.4,531.7 L350.7,530.9 L348.2,535.1 L347.3,540.9 L345.7,545.1 L343.1,549.3 L340.6,555.1 L337.3,558.5 L334.0,563.5 L330.6,566.0 L327.3,569.3 L324.8,566.8 L325.6,561.8 L322.3,558.5 L318.9,553.4 L315.6,556.8 L317.2,563.5 L313.9,567.7 L308.9,566.8 L305.5,570.2 L300.5,573.5 L297.2,576.8 L293.9,581.9 L288.8,581.9 L287.2,578.5 L280.5,578.5 L277.1,581.9 L270.5,585.2 L265.4,581.9 L260.4,578.5 L253.7,577.7 L247.1,576.8 L240.4,576.0 L235.4,573.5 L232.0,571.8 L227.0,571.8 L220.3,569.3 L213.6,568.5 L210.3,571.0 L207.0,567.7 L200.3,564.3 L193.6,563.5 L183.6,563.1 L175.2,563.5 L168.5,565.1 L163.5,567.7 L158.5,570.2 L153.5,571.8 L150.1,576.8 L148.5,581.9 L150.1,586.9 L148.5,591.9 L141.8,592.7 L136.8,593.6 L131.8,594.4 L125.1,592.7 L119.7,594.4Z M254.6,450.9 L258.8,447.6 L267.1,446.7 L270.5,443.4 L274.6,447.6 L272.1,452.6 L268.8,455.9 L267.9,460.9 L262.1,461.8 L257.9,458.4 L254.6,455.1Z M174.4,450.9 L180.2,449.2 L183.6,445.1 L190.2,444.2 L189.4,448.4 L185.2,451.8 L178.5,453.4Z M192.7,463.4 L196.9,460.9 L203.6,460.1 L208.6,455.9 L219.5,453.4 L220.3,459.3 L213.6,460.1 L207.0,464.3 L201.9,468.5 L193.6,468.5Z M237.0,456.8 L243.7,456.8 L243.7,459.3 L237.0,459.3Z M132.6,480.2 L138.4,478.5 L143.4,479.3 L144.3,483.5 L150.1,484.3 L152.6,489.4 L146.8,489.9 L141.8,486.8 L135.1,486.0 L132.6,483.5Z M119.9,488.5 L125.1,487.7 L132.6,486.8 L133.4,491.0 L126.7,493.5 L119.9,496.9Z M328.9,486.8 L334.0,486.8 L334.0,491.9 L328.9,491.9Z M199.4,529.5 L205.3,526.1 L211.1,525.3 L210.3,528.6 L204.4,532.0 L200.3,533.6Z M221.2,520.3 L227.0,519.4 L232.9,517.8 L233.7,521.9 L228.7,527.0 L225.3,532.8 L221.2,535.3 L222.0,528.6Z M441.7,510.2 L446.8,505.2 L447.6,508.6 L443.4,512.7Z M227.0,506.1 L229.5,506.1 L229.5,508.6 L227.0,508.6Z M217.8,540.9 L223.7,538.4 L232.0,533.4 L238.7,531.7 L247.1,530.1 L257.1,530.9 L267.1,530.1 L275.5,526.7 L280.5,520.0 L288.0,516.7 L288.8,520.0 L283.0,524.2 L277.1,530.9 L277.1,535.1 L270.5,536.7 L267.1,540.1 L260.4,541.8 L258.8,544.3 L257.1,540.1 L263.8,536.7 L257.1,535.1 L250.4,535.9 L242.0,536.7 L237.0,538.4 L233.7,542.6 L228.7,545.9 L223.7,545.9 L219.5,544.3Z M130.9,560.1 L134.3,556.0 L144.3,555.1 L145.1,560.1 L141.8,566.0 L131.8,567.7Z M119.9,540.9 L125.9,540.1 L126.7,545.1 L119.9,545.9Z M320.6,540.9 L328.1,540.9 L328.1,543.4 L320.6,543.4Z M399.1,526.7 L405.8,522.5 L410.8,518.4 L417.5,518.0 L416.7,521.7 L409.2,525.0 L409.2,530.9 L412.5,535.1 L405.8,536.7 L404.1,530.1Z M425.0,542.6 L430.0,536.7 L435.9,530.1 L442.6,527.5 L444.3,533.4 L449.3,535.1 L448.4,540.9 L440.9,542.6 L439.2,548.4 L432.6,549.3 L428.4,545.1Z M415.0,671.5 L417.5,666.5 L420.9,661.5 L425.0,656.5 L430.0,654.0 L432.6,655.7 L429.2,659.0 L425.0,662.3 L422.5,666.5 L420.0,671.5 L416.7,674.0Z M434.2,664.0 L440.9,661.5 L444.3,664.0 L440.9,668.2 L435.9,667.4Z M394.1,666.5 L400.8,662.3 L401.6,664.0 L395.5,668.2Z M349.8,440.1 L354.0,435.0 L367.4,435.9 L384.1,440.1 L389.1,445.1 L387.4,450.9 L375.7,451.8 L367.4,450.9 L364.0,453.4 L354.0,449.2 L349.8,446.7Z M354.0,456.8 L360.7,457.6 L367.4,460.1 L384.1,460.1 L386.6,465.1 L382.4,470.1 L374.1,473.5 L365.7,470.1 L358.2,467.6 L355.7,461.8Z M420.9,586.0 L424.2,586.0 L424.2,589.4 L420.9,589.4Z M410.8,594.4 L415.0,594.4 L415.0,596.9 L410.8,596.9Z M131.8,637.3 L136.8,637.3 L136.8,641.4 L131.8,641.4Z M366.5,635.6 L370.7,632.3 L371.6,637.3 L367.4,638.1Z" clip-rule="evenodd"/></clipPath>
<g clip-path="url(#bc5)">
<ellipse cx="176.6" cy="511.9" rx="61.3" ry="46" fill="#453781" filter="url(#bl12)"/>
<ellipse cx="268.6" cy="511.9" rx="46" ry="36.8" fill="#46337f" filter="url(#bl12)"/>
<ellipse cx="375.8" cy="511.9" rx="30.6" ry="18.4" fill="#472f7c" filter="url(#bl8)"/>
<ellipse cx="366.6" cy="444.5" rx="15.3" ry="6.1" fill="#46337f" filter="url(#bl5)"/>
<ellipse cx="366.6" cy="462.9" rx="12.3" ry="4.6" fill="#46337f" filter="url(#bl5)"/>
<ellipse cx="152.1" cy="530.3" rx="24.5" ry="9.2" fill="#414487" filter="url(#bl8)"/>
<ellipse cx="207.3" cy="487.4" rx="21.5" ry="15.3" fill="#2d708e" filter="url(#bl8)"/>
<ellipse cx="146" cy="447.6" rx="11.6" ry="8.6" fill="#6bcd5a" filter="url(#bl5)"/>
<ellipse cx="124.5" cy="450.6" rx="6.1" ry="6.1" fill="#2a788e" filter="url(#bl5)"/>
<ellipse cx="219.5" cy="482.8" rx="8.6" ry="8.6" fill="#3cbb75" filter="url(#bl5)"/>
<ellipse cx="234.8" cy="466" rx="3.7" ry="3.7" fill="#2d708e" filter="url(#bl3)"/>
<ellipse cx="311.5" cy="481.3" rx="16.9" ry="7.7" fill="#2a788e" filter="url(#bl5)"/>
<ellipse cx="293.1" cy="493.6" rx="6.1" ry="6.1" fill="#297b8e" filter="url(#bl5)"/>
<ellipse cx="328.3" cy="501.2" rx="4.6" ry="4.6" fill="#2d708e" filter="url(#bl3)"/>
<ellipse cx="342.1" cy="508.9" rx="3.1" ry="3.1" fill="#2d708e" filter="url(#bl3)"/>
<ellipse cx="274.7" cy="570.2" rx="10.7" ry="6.1" fill="#20a287" filter="url(#bl5)"/>
<ellipse cx="259.4" cy="562.5" rx="7.7" ry="3.7" fill="#26828e" filter="url(#bl5)"/>
<ellipse cx="299.2" cy="554.8" rx="4.6" ry="7.7" fill="#2a788e" filter="url(#bl5)"/>
<ellipse cx="158.2" cy="559.4" rx="7.7" ry="4.6" fill="#2d708e" filter="url(#bl5)"/>
<ellipse cx="141.4" cy="542.6" rx="3.7" ry="3.7" fill="#355f8d" filter="url(#bl3)"/>
<ellipse cx="161.3" cy="484.4" rx="6.1" ry="6.1" fill="#3f4888" filter="url(#bl5)"/>
<ellipse cx="176.6" cy="493.6" rx="4.6" ry="4.6" fill="#3b538b" filter="url(#bl5)"/>
<ellipse cx="400.3" cy="567.1" rx="7.7" ry="7.7" fill="#375a8c" filter="url(#bl5)"/>
<ellipse cx="369.7" cy="557.9" rx="9.2" ry="4.6" fill="#3f4888" filter="url(#bl5)"/>
<ellipse cx="320.7" cy="533.4" rx="6.1" ry="3.7" fill="#3b538b" filter="url(#bl5)"/>
<ellipse cx="424.9" cy="625.3" rx="4.6" ry="4.6" fill="#3d4d8a" filter="url(#bl5)"/>
<ellipse cx="425" cy="627.2" rx="4.7" ry="4.7" fill="#3b538b" filter="url(#bl3)"/>
<g stroke="rgba(205,165,225,0.62)" stroke-width="1.5"><line x1="136.3" y1="423.9" x2="136.3" y2="696.7"/><line x1="186" y1="423.9" x2="186" y2="696.7"/><line x1="235.7" y1="423.9" x2="235.7" y2="696.7"/><line x1="285.3" y1="423.9" x2="285.3" y2="696.7"/><line x1="335" y1="423.9" x2="335" y2="696.7"/><line x1="384.6" y1="423.9" x2="384.6" y2="696.7"/><line x1="434.2" y1="423.9" x2="434.2" y2="696.7"/><line x1="103.5" y1="675.9" x2="467.5" y2="675.9"/><line x1="103.5" y1="634.6" x2="467.5" y2="634.6"/><line x1="103.5" y1="593.4" x2="467.5" y2="593.4"/><line x1="103.5" y1="552.1" x2="467.5" y2="552.1"/><line x1="103.5" y1="510.9" x2="467.5" y2="510.9"/><line x1="103.5" y1="469.6" x2="467.5" y2="469.6"/><line x1="103.5" y1="428.4" x2="467.5" y2="428.4"/></g>
</g>
<path d="M159.2,642.9 L161.3,633.5 L162.7,622.4 L157.5,615.8 L150.9,611.4 L144.1,608.7 L143.1,605.8 L146.4,600.3 L144.1,593.6 L146.4,585.8 L150.9,581.4 L155.4,575.9 L156.5,570.3 L153.1,564.9 L150.9,558.1 L149.8,551.5 L150.9,545.9" fill="none" stroke="#15151c" stroke-width="1.2" stroke-linejoin="round"/>
<path d="M150.9,545.9 L157.5,547 L163.2,544.9 L169.9,542.6 L175.4,541.4 L180,539.3 L181.5,544.9 L186.7,546.5 L192.3,543.7 L197.9,547 L203.4,551.5 L210.2,554.8 L216.8,555.9 L223.6,553.8 L230.4,553.3 L237,555.9" fill="none" stroke="#15151c" stroke-width="1.2" stroke-linejoin="round"/>
<path d="M237,555.9 L238.1,562.5 L240.3,571.5 L241.4,580.4 L238.1,589.1 L234.8,595.9 L232,602.5 L231.3,611.4 L233.7,620.3 L237,624.8 L237,630.2" fill="none" stroke="#15151c" stroke-width="1.2" stroke-linejoin="round"/>
<path d="M144.1,593.2 L139.7,593.6 L136.3,596.2 L131.9,592.6 L128.6,584.8 L126.3,578.1 L120.6,576.4 L114,578.1 L110.7,577.1" fill="none" stroke="#15151c" stroke-width="1.2" stroke-linejoin="round"/>
<path d="M110.7,577.1 L108.4,569.1 L106.2,562.5 L103.9,559.2 L101.6,553.8" fill="none" stroke="#15151c" stroke-width="1.2" stroke-linejoin="round"/>
<path d="M110.7,577.1 L107.2,582.5 L103.9,587 L99.9,591.8" fill="none" stroke="#15151c" stroke-width="1.2" stroke-linejoin="round"/>
<path d="M301.4,614.7 L296.2,608.2 L293.7,597 L294.4,584.3 L292.4,571.8 L291.1,561.7 L289.9,551.7 L285.3,542.2 L283.3,534" fill="none" stroke="#15151c" stroke-width="1.2" stroke-linejoin="round"/>
<path d="M312.8,610.9 L311.4,597 L310.6,584.3 L310.1,571.8 L309,559.2 L307.6,549.2 L300.2,535.6" fill="none" stroke="#15151c" stroke-width="1.2" stroke-linejoin="round"/>
<path d="M330,609.1 L330,597 L330.5,584.3 L331,568 L335.6,564.2 L338.1,556.6 L341.9,549.2 L344.4,544.1 L348.2,538.9 L344.9,530.7 L345.2,524.1" fill="none" stroke="#15151c" stroke-width="1.2" stroke-linejoin="round"/>
<path d="M425.6,637.8 L429.5,629.7 L433.3,617.2 L442.2,607.1 L452.3,602 L459.9,599.5 L466.4,603.3 L472.3,606.6" fill="none" stroke="#15151c" stroke-width="1.2" stroke-linejoin="round"/>
<path d="M447.8,680.2 L472.3,680.2" fill="none" stroke="#15151c" stroke-width="1.2" stroke-linejoin="round"/>
<path d="M99.9,466.3 L103.2,465 L107.9,462.4 L117,461.7 L126.1,461.7 L129.6,458.8 L131.7,461.1 L148.9,460.6 L171.8,460.6 L193.4,460.6 L196.4,453.8 L196.4,444.7 L192.3,435.7 L190,421.8" fill="none" stroke="#15151c" stroke-width="1.2" stroke-linejoin="round"/>
<path d="M99.9,512.5 L103.2,514.9 L107.9,518.3 L112.4,516 L118.1,514.4 L128.4,512.5 L137.5,514.9 L139.8,521.6 L144.3,528.4 L145.5,535.2 L148.9,542.1 L150.9,545.9" fill="none" stroke="#15151c" stroke-width="1.2" stroke-linejoin="round"/>
<path d="M193.4,544.7 L195.8,533 L199.1,519.3 L210.5,512.5 L212.8,499 L226.5,489.9 L235.7,480.9 L249.4,474.1 L267.6,470.8 L280.3,468.8 L290.3,470.5" fill="none" stroke="#15151c" stroke-width="1.2" stroke-linejoin="round"/>
<path d="M290.3,470.5 L290.9,481.4 L300.9,493.9 L311,503.8 L321,511.4 L321.7,517.5 L325,520.8" fill="none" stroke="#15151c" stroke-width="1.2" stroke-linejoin="round"/>
<path d="M237,555.9 L239,547.2 L237.3,537.3 L252.2,535.6 L265.4,535.6 L277,534.8 L283.3,534 L293.6,535.6 L300.2,535.6 L308.5,528.2 L318.4,528.2 L325,520.8" fill="none" stroke="#15151c" stroke-width="1.2" stroke-linejoin="round"/>
<path d="M325,520.8 L332.5,513.4 L345.2,524.1" fill="none" stroke="#15151c" stroke-width="1.2" stroke-linejoin="round"/>
<path d="M345.2,524.1 L346.5,510.9 L349.2,503.8 L353.7,494.9 L360.4,490.4 L369.5,489.3 L376.3,491.6 L385.4,493.7 L394.4,496 L403.5,499.4 L412.6,497.2 L421.7,498.2 L430.6,501.7 L439.7,502.6 L448.8,499.4 L457.8,496.7 L472.3,496" fill="none" stroke="#15151c" stroke-width="1.2" stroke-linejoin="round"/>
<path d="M290.3,470.5 L300.9,466.3 L326,462.7 L338.6,458.9 L346,454 L351,443.9 L354.8,438.3 L354.8,421.8" fill="none" stroke="#15151c" stroke-width="1.2" stroke-linejoin="round"/>
<path d="M425.1,660.2 L426.8,663.5 L430.1,662.7 L433.4,656.9 L431.8,654.4 L428.5,655.3Z" fill="none" stroke="#111" stroke-width="1.1"/>
<circle cx="407.8" cy="690.3" r="1.5" fill="#14142a"/>
<path d="M99.9,606.6 L103.6,608.4 L113.3,614.2 L122.3,623.1 L131.2,630.9 L141.5,637.9 L151.9,642.2 L159.5,644.2 L172.3,637.9 L187.8,632.8 L203.2,630.2 L218.6,629 L232.7,630.9 L241.6,633.3 L250.7,637.1 L261,632 L275,627.1 L287.8,621.9 L300.7,618.1 L308.5,614.2 L321.2,611.7 L336.6,609.9 L346.9,608.6 L354.6,609.9 L362.3,614.2 L370,620.6 L375.2,628.2 L379,637.1 L385.4,643.6 L398.3,642.2 L413.7,640.4 L425.6,639.3 L432.1,642.4 L439.7,649.8 L446,658.7 L448.5,667.6 L447.8,680.2 L444.5,688.1 L440.9,695.7 L439.2,700.6" fill="none" stroke="#161a22" stroke-width="1.4" stroke-linejoin="round"/>
</g>
<rect x="103.5" y="423.9" width="364" height="272.8" fill="none" stroke="#333" stroke-width="1.35"/>
<text x="94.5" y="679.5" text-anchor="end" font-size="14.6" textLength="36" lengthAdjust="spacingAndGlyphs">2.5°N</text>
<text x="94.5" y="638.2" text-anchor="end" font-size="14.6" textLength="23.9" lengthAdjust="spacingAndGlyphs">5°N</text>
<text x="94.5" y="597" text-anchor="end" font-size="14.6" textLength="36" lengthAdjust="spacingAndGlyphs">7.5°N</text>
<text x="94.5" y="555.8" text-anchor="end" font-size="14.6" textLength="32" lengthAdjust="spacingAndGlyphs">10°N</text>
<text x="94.5" y="514.5" text-anchor="end" font-size="14.6" textLength="44.1" lengthAdjust="spacingAndGlyphs">12.5°N</text>
<text x="94.5" y="473.2" text-anchor="end" font-size="14.6" textLength="32" lengthAdjust="spacingAndGlyphs">15°N</text>
<text x="94.5" y="432" text-anchor="end" font-size="14.6" textLength="44.1" lengthAdjust="spacingAndGlyphs">17.5°N</text>
<text x="136.3" y="713.5" text-anchor="middle" font-size="14.6" textLength="27" lengthAdjust="spacingAndGlyphs">9°W</text>
<text x="186" y="713.5" text-anchor="middle" font-size="14.6" textLength="27" lengthAdjust="spacingAndGlyphs">6°W</text>
<text x="235.7" y="713.5" text-anchor="middle" font-size="14.6" textLength="27" lengthAdjust="spacingAndGlyphs">3°W</text>
<text x="285.3" y="713.5" text-anchor="middle" font-size="14.6" textLength="14.4" lengthAdjust="spacingAndGlyphs">0°</text>
<text x="335" y="713.5" text-anchor="middle" font-size="14.6" textLength="22.5" lengthAdjust="spacingAndGlyphs">3°E</text>
<text x="384.6" y="713.5" text-anchor="middle" font-size="14.6" textLength="22.5" lengthAdjust="spacingAndGlyphs">6°E</text>
<text x="434.2" y="713.5" text-anchor="middle" font-size="14.6" textLength="22.5" lengthAdjust="spacingAndGlyphs">9°E</text>
<text x="284.4" y="412.1" text-anchor="middle" font-size="16.1" textLength="156.2" lengthAdjust="spacingAndGlyphs">GSMAP 2020-08-18</text>
<rect x="490.6" y="412.6" width="13.3" height="294.6" fill="url(#vg)"/>
<rect x="490.6" y="412.6" width="13.3" height="294.6" fill="none" stroke="#222" stroke-width="0.9"/>
<line x1="503.9" y1="707.2" x2="508.1" y2="707.2" stroke="#222" stroke-width="1"/>
<text x="514.1" y="711.3" text-anchor="start" font-size="14.6" textLength="8.1" lengthAdjust="spacingAndGlyphs">0</text>
<line x1="503.9" y1="667.9" x2="508.1" y2="667.9" stroke="#222" stroke-width="1"/>
<text x="514.1" y="672" text-anchor="start" font-size="14.6" textLength="16.2" lengthAdjust="spacingAndGlyphs">20</text>
<line x1="503.9" y1="628.6" x2="508.1" y2="628.6" stroke="#222" stroke-width="1"/>
<text x="514.1" y="632.7" text-anchor="start" font-size="14.6" textLength="16.2" lengthAdjust="spacingAndGlyphs">40</text>
<line x1="503.9" y1="589.4" x2="508.1" y2="589.4" stroke="#222" stroke-width="1"/>
<text x="514.1" y="593.5" text-anchor="start" font-size="14.6" textLength="16.2" lengthAdjust="spacingAndGlyphs">60</text>
<line x1="503.9" y1="550.1" x2="508.1" y2="550.1" stroke="#222" stroke-width="1"/>
<text x="514.1" y="554.2" text-anchor="start" font-size="14.6" textLength="16.2" lengthAdjust="spacingAndGlyphs">80</text>
<line x1="503.9" y1="510.8" x2="508.1" y2="510.8" stroke="#222" stroke-width="1"/>
<text x="514.1" y="514.9" text-anchor="start" font-size="14.6" textLength="24.2" lengthAdjust="spacingAndGlyphs">100</text>
<line x1="503.9" y1="471.5" x2="508.1" y2="471.5" stroke="#222" stroke-width="1"/>
<text x="514.1" y="475.6" text-anchor="start" font-size="14.6" textLength="24.2" lengthAdjust="spacingAndGlyphs">120</text>
<line x1="503.9" y1="432.2" x2="508.1" y2="432.2" stroke="#222" stroke-width="1"/>
<text x="514.1" y="436.3" text-anchor="start" font-size="14.6" textLength="24.2" lengthAdjust="spacingAndGlyphs">140</text>
</g>
<g id="p6">
<clipPath id="ax6"><rect x="688.6" y="428.1" width="359" height="269.1"/></clipPath>
<g clip-path="url(#ax6)">
<g stroke="#cfcfcf" stroke-width="1.4"><line x1="720.7" y1="428.1" x2="720.7" y2="697.2"/><line x1="769.7" y1="428.1" x2="769.7" y2="697.2"/><line x1="818.6" y1="428.1" x2="818.6" y2="697.2"/><line x1="867.6" y1="428.1" x2="867.6" y2="697.2"/><line x1="916.6" y1="428.1" x2="916.6" y2="697.2"/><line x1="965.5" y1="428.1" x2="965.5" y2="697.2"/><line x1="1014.5" y1="428.1" x2="1014.5" y2="697.2"/><line x1="688.6" y1="678.3" x2="1047.6" y2="678.3"/><line x1="688.6" y1="637.3" x2="1047.6" y2="637.3"/><line x1="688.6" y1="596.2" x2="1047.6" y2="596.2"/><line x1="688.6" y1="555.1" x2="1047.6" y2="555.1"/><line x1="688.6" y1="514" x2="1047.6" y2="514"/><line x1="688.6" y1="473" x2="1047.6" y2="473"/><line x1="688.6" y1="431.9" x2="1047.6" y2="431.9"/></g>
<path d="M684.8,609.3 L688.4,611.2 L698,616.9 L706.8,625.8 L715.7,633.5 L725.8,640.6 L736.1,644.8 L743.6,646.8 L756.1,640.6 L771.5,635.5 L786.7,632.8 L801.8,631.7 L815.7,633.5 L824.5,636 L833.5,639.7 L843.6,634.6 L857.5,629.7 L870,624.6 L882.8,620.8 L890.4,616.9 L903,614.4 L918.2,612.6 L928.3,611.3 L936,612.6 L943.5,616.9 L951.2,623.3 L956.2,630.9 L960,639.7 L966.3,646.1 L979.1,644.8 L994.2,643 L1006,641.9 L1012.4,645 L1019.9,652.4 L1026.1,661.3 L1028.5,670.1 L1027.9,682.6 L1024.6,690.5 L1021,698.1 L1019.4,703 L1019.4,711.2 L679.9,711.2Z" fill="#98b6e1" fill-opacity="0.94"/>
<path d="M704.7,439.2 L776.1,439.2 L778.6,443.4 L781.1,447.6 L781.9,453.4 L783.6,458.4 L788.6,461.8 L789.4,468.5 L792.8,471.0 L796.1,467.6 L795.3,461.8 L790.3,459.3 L786.9,455.1 L785.3,448.4 L785.3,443.4 L786.9,439.7 L864.6,439.7 L866.3,444.2 L868.8,445.1 L873.8,445.1 L877.2,448.4 L880.5,451.8 L885.5,452.6 L887.2,456.8 L883.0,460.1 L881.4,465.1 L883.0,470.1 L885.5,466.8 L885.5,461.8 L890.5,459.3 L892.2,453.4 L893.9,450.1 L890.5,446.7 L885.5,445.1 L887.2,440.9 L892.2,439.2 L921.5,439.2 L921.5,442.6 L918.1,443.4 L919.0,450.9 L922.3,454.3 L927.3,455.9 L930.7,451.8 L932.3,446.7 L935.7,445.1 L940.7,445.1 L942.4,448.4 L949.0,449.2 L952.4,452.6 L954.1,460.1 L957.4,465.1 L955.7,470.1 L950.7,471.0 L935.7,471.8 L934.0,476.0 L935.7,479.3 L932.3,482.7 L927.3,484.3 L925.6,489.4 L919.0,490.2 L915.6,493.5 L908.9,491.9 L902.2,493.5 L906.4,500.2 L909.8,506.9 L907.3,511.1 L900.6,511.1 L893.9,510.2 L890.5,514.4 L890.5,515.0 L885.5,520.0 L878.9,522.5 L872.2,525.0 L865.5,526.7 L858.8,529.2 L853.8,533.4 L850.4,538.4 L843.8,540.1 L838.7,542.6 L833.7,545.1 L828.7,547.6 L823.7,549.3 L818.7,550.1 L812.0,549.3 L807.0,547.6 L810.3,544.3 L815.3,541.8 L812.0,540.1 L805.3,540.9 L800.3,539.2 L793.6,538.4 L788.6,535.1 L786.9,530.1 L783.6,526.7 L780.3,523.4 L775.2,520.9 L768.6,520.0 L761.9,520.4 L758.5,518.4 L743.5,520.0 L742.7,528.4 L741.8,535.1 L735.1,536.7 L735.1,541.8 L733.5,546.8 L730.1,551.8 L731.8,558.5 L725.1,560.1 L725.1,566.8 L720.9,568.5 L716.8,567.7 L713.4,570.2 L704.7,571.8Z M918.1,513.6 L924.0,511.1 L934.0,510.2 L936.5,506.1 L945.7,504.4 L954.1,505.2 L956.6,509.4 L960.7,511.1 L963.2,505.2 L962.4,500.2 L959.1,496.0 L952.4,493.5 L950.7,488.5 L955.7,486.8 L965.7,487.7 L972.4,483.5 L976.6,483.2 L979.1,486.8 L985.8,486.0 L990.8,488.5 L997.5,490.2 L1002.5,488.5 L1007.5,490.2 L1012.5,493.5 L1015.0,488.5 L1030.1,488.2 L1030.1,684.1 L985.8,684.9 L969.1,684.1 L930.7,684.6 L933.2,676.5 L936.5,669.9 L939.0,664.0 L934.0,659.8 L931.5,653.1 L928.1,647.3 L924.0,641.4 L922.3,636.4 L926.5,631.4 L924.0,628.1 L929.0,624.7 L935.7,623.1 L939.0,618.1 L945.7,615.5 L949.0,616.4 L953.2,620.6 L956.6,627.2 L959.9,632.3 L961.1,637.3 L959.4,641.8 L962.7,646.8 L967.8,648.1 L972.8,646.5 L979.5,644.0 L986.1,642.3 L991.1,639.8 L991.1,631.4 L994.5,626.4 L999.5,623.9 L1004.5,621.4 L1006.7,616.4 L1002.5,613.9 L992.5,612.2 L984.1,608.0 L975.8,604.7 L969.1,603.0 L959.1,600.5 L953.2,598.0 L955.7,598.6 L952.4,593.6 L949.0,588.5 L952.4,583.5 L956.6,576.8 L955.7,571.8 L952.4,575.2 L947.4,580.2 L942.4,583.5 L934.0,584.4 L925.6,581.9 L922.3,576.8 L917.3,571.8 L915.6,565.1 L917.3,558.5 L919.0,551.8 L916.5,545.1 L915.6,538.4 L917.3,531.7 L919.0,523.4 L918.1,515.0Z M733.5,508.6 L736.8,506.9 L740.1,510.2 L748.5,511.1 L755.2,508.6 L760.2,511.1 L765.2,509.4 L775.2,506.9 L778.6,501.9 L783.6,497.7 L790.3,499.4 L793.6,503.6 L797.0,506.9 L802.0,508.6 L804.5,513.6 L805.7,517.5 L806.0,522.0 L802.0,521.4 L797.0,516.7 L792.0,512.8 L785.3,511.2 L778.6,512.0 L771.9,513.7 L765.2,512.8 L759.5,514.5 L758.9,518.0 L743.8,519.7 L743.2,513.7 L741.0,513.6 L735.1,511.6Z M717.6,541.8 L720.9,540.1 L725.1,545.1 L722.6,550.1 L718.4,547.6Z M705.1,493.5 L707.6,493.5 L707.6,496.9 L705.1,496.9Z M893.9,460.9 L898.1,460.9 L898.1,462.8 L893.9,462.8Z M893.9,481.0 L895.9,481.0 L895.9,487.7 L893.9,487.7Z M856.3,442.6 L861.3,442.6 L861.3,445.1 L856.3,445.1Z M776.9,466.0 L781.1,466.0 L781.1,470.1 L776.9,470.1Z M947.4,513.6 L952.4,510.2 L962.4,511.9 L977.4,511.1 L980.8,506.9 L987.5,505.2 L994.2,504.4 L994.2,513.6 L992.5,518.6 L985.8,520.3 L972.4,517.8 L960.7,516.9 L952.4,518.6 L948.2,516.9Z M1022.6,491.0 L1025.9,491.0 L1025.9,493.5 L1022.6,493.5Z M926.5,632.3 L932.3,628.9 L942.4,625.6 L945.7,627.2 L935.7,631.4 L929.0,633.9Z M933.2,642.3 L942.4,638.9 L954.1,636.8 L955.7,638.9 L945.7,641.8 L935.7,644.0Z M941.5,664.0 L947.4,661.5 L952.4,659.8 L954.9,657.3 L955.7,661.5 L950.7,664.8 L944.0,665.7Z M952.4,649.8 L959.1,647.3 L969.1,648.1 L967.4,651.5 L959.1,652.3 L954.1,652.8Z M961.6,632.3 L975.8,630.6 L976.6,632.3 L962.4,634.4Z M881.4,545.9 L887.2,542.6 L895.6,540.9 L902.2,543.4 L903.9,549.3 L900.6,554.3 L898.9,558.5 L893.9,560.1 L893.1,564.3 L902.2,565.1 L908.9,563.5 L914.8,561.8 L916.1,568.5 L913.9,574.3 L908.9,576.8 L908.1,581.9 L902.2,584.4 L898.9,588.5 L897.2,593.6 L882.2,593.6 L880.5,585.2 L880.5,573.5 L884.7,568.5 L882.2,563.5 L873.8,562.6 L873.0,553.4 L880.5,551.4Z M907.3,536.7 L910.6,534.2 L914.8,535.9 L913.1,539.2 L908.1,539.2Z M893.1,523.4 L896.4,523.4 L896.4,526.7 L893.1,526.7Z M1007.5,473.1 L1012.5,471.8 L1020.1,473.1 L1019.2,475.1 L1009.2,475.5Z M953.2,443.4 L956.6,441.7 L957.4,446.7 L953.2,447.6Z M738.1,604.4 L742.7,601.1 L743.8,602.7 L739.3,606.6Z M896.4,645.6 L900.6,644.0 L902.2,646.5 L898.1,647.8Z M903.9,641.4 L908.9,640.6 L909.8,643.1 L905.3,644.0Z M912.3,638.9 L919.0,638.1 L919.8,640.6 L913.6,641.8Z M721.4,645.6 L724.3,645.6 L724.3,655.7 L721.4,655.7Z M981.6,618.1 L984.1,618.1 L984.1,621.4 L981.6,621.4Z M987.5,615.5 L990.8,615.5 L990.8,618.1 L987.5,618.1Z" fill="#48076b" fill-rule="evenodd"/>
<clipPath id="bc6"><path d="M704.7,439.2 L776.1,439.2 L778.6,443.4 L781.1,447.6 L781.9,453.4 L783.6,458.4 L788.6,461.8 L789.4,468.5 L792.8,471.0 L796.1,467.6 L795.3,461.8 L790.3,459.3 L786.9,455.1 L785.3,448.4 L785.3,443.4 L786.9,439.7 L864.6,439.7 L866.3,444.2 L868.8,445.1 L873.8,445.1 L877.2,448.4 L880.5,451.8 L885.5,452.6 L887.2,456.8 L883.0,460.1 L881.4,465.1 L883.0,470.1 L885.5,466.8 L885.5,461.8 L890.5,459.3 L892.2,453.4 L893.9,450.1 L890.5,446.7 L885.5,445.1 L887.2,440.9 L892.2,439.2 L921.5,439.2 L921.5,442.6 L918.1,443.4 L919.0,450.9 L922.3,454.3 L927.3,455.9 L930.7,451.8 L932.3,446.7 L935.7,445.1 L940.7,445.1 L942.4,448.4 L949.0,449.2 L952.4,452.6 L954.1,460.1 L957.4,465.1 L955.7,470.1 L950.7,471.0 L935.7,471.8 L934.0,476.0 L935.7,479.3 L932.3,482.7 L927.3,484.3 L925.6,489.4 L919.0,490.2 L915.6,493.5 L908.9,491.9 L902.2,493.5 L906.4,500.2 L909.8,506.9 L907.3,511.1 L900.6,511.1 L893.9,510.2 L890.5,514.4 L890.5,515.0 L885.5,520.0 L878.9,522.5 L872.2,525.0 L865.5,526.7 L858.8,529.2 L853.8,533.4 L850.4,538.4 L843.8,540.1 L838.7,542.6 L833.7,545.1 L828.7,547.6 L823.7,549.3 L818.7,550.1 L812.0,549.3 L807.0,547.6 L810.3,544.3 L815.3,541.8 L812.0,540.1 L805.3,540.9 L800.3,539.2 L793.6,538.4 L788.6,535.1 L786.9,530.1 L783.6,526.7 L780.3,523.4 L775.2,520.9 L768.6,520.0 L761.9,520.4 L758.5,518.4 L743.5,520.0 L742.7,528.4 L741.8,535.1 L735.1,536.7 L735.1,541.8 L733.5,546.8 L730.1,551.8 L731.8,558.5 L725.1,560.1 L725.1,566.8 L720.9,568.5 L716.8,567.7 L713.4,570.2 L704.7,571.8Z M918.1,513.6 L924.0,511.1 L934.0,510.2 L936.5,506.1 L945.7,504.4 L954.1,505.2 L956.6,509.4 L960.7,511.1 L963.2,505.2 L962.4,500.2 L959.1,496.0 L952.4,493.5 L950.7,488.5 L955.7,486.8 L965.7,487.7 L972.4,483.5 L976.6,483.2 L979.1,486.8 L985.8,486.0 L990.8,488.5 L997.5,490.2 L1002.5,488.5 L1007.5,490.2 L1012.5,493.5 L1015.0,488.5 L1030.1,488.2 L1030.1,684.1 L985.8,684.9 L969.1,684.1 L930.7,684.6 L933.2,676.5 L936.5,669.9 L939.0,664.0 L934.0,659.8 L931.5,653.1 L928.1,647.3 L924.0,641.4 L922.3,636.4 L926.5,631.4 L924.0,628.1 L929.0,624.7 L935.7,623.1 L939.0,618.1 L945.7,615.5 L949.0,616.4 L953.2,620.6 L956.6,627.2 L959.9,632.3 L961.1,637.3 L959.4,641.8 L962.7,646.8 L967.8,648.1 L972.8,646.5 L979.5,644.0 L986.1,642.3 L991.1,639.8 L991.1,631.4 L994.5,626.4 L999.5,623.9 L1004.5,621.4 L1006.7,616.4 L1002.5,613.9 L992.5,612.2 L984.1,608.0 L975.8,604.7 L969.1,603.0 L959.1,600.5 L953.2,598.0 L955.7,598.6 L952.4,593.6 L949.0,588.5 L952.4,583.5 L956.6,576.8 L955.7,571.8 L952.4,575.2 L947.4,580.2 L942.4,583.5 L934.0,584.4 L925.6,581.9 L922.3,576.8 L917.3,571.8 L915.6,565.1 L917.3,558.5 L919.0,551.8 L916.5,545.1 L915.6,538.4 L917.3,531.7 L919.0,523.4 L918.1,515.0Z M733.5,508.6 L736.8,506.9 L740.1,510.2 L748.5,511.1 L755.2,508.6 L760.2,511.1 L765.2,509.4 L775.2,506.9 L778.6,501.9 L783.6,497.7 L790.3,499.4 L793.6,503.6 L797.0,506.9 L802.0,508.6 L804.5,513.6 L805.7,517.5 L806.0,522.0 L802.0,521.4 L797.0,516.7 L792.0,512.8 L785.3,511.2 L778.6,512.0 L771.9,513.7 L765.2,512.8 L759.5,514.5 L758.9,518.0 L743.8,519.7 L743.2,513.7 L741.0,513.6 L735.1,511.6Z M717.6,541.8 L720.9,540.1 L725.1,545.1 L722.6,550.1 L718.4,547.6Z M705.1,493.5 L707.6,493.5 L707.6,496.9 L705.1,496.9Z M893.9,460.9 L898.1,460.9 L898.1,462.8 L893.9,462.8Z M893.9,481.0 L895.9,481.0 L895.9,487.7 L893.9,487.7Z M856.3,442.6 L861.3,442.6 L861.3,445.1 L856.3,445.1Z M776.9,466.0 L781.1,466.0 L781.1,470.1 L776.9,470.1Z M947.4,513.6 L952.4,510.2 L962.4,511.9 L977.4,511.1 L980.8,506.9 L987.5,505.2 L994.2,504.4 L994.2,513.6 L992.5,518.6 L985.8,520.3 L972.4,517.8 L960.7,516.9 L952.4,518.6 L948.2,516.9Z M1022.6,491.0 L1025.9,491.0 L1025.9,493.5 L1022.6,493.5Z M926.5,632.3 L932.3,628.9 L942.4,625.6 L945.7,627.2 L935.7,631.4 L929.0,633.9Z M933.2,642.3 L942.4,638.9 L954.1,636.8 L955.7,638.9 L945.7,641.8 L935.7,644.0Z M941.5,664.0 L947.4,661.5 L952.4,659.8 L954.9,657.3 L955.7,661.5 L950.7,664.8 L944.0,665.7Z M952.4,649.8 L959.1,647.3 L969.1,648.1 L967.4,651.5 L959.1,652.3 L954.1,652.8Z M961.6,632.3 L975.8,630.6 L976.6,632.3 L962.4,634.4Z M881.4,545.9 L887.2,542.6 L895.6,540.9 L902.2,543.4 L903.9,549.3 L900.6,554.3 L898.9,558.5 L893.9,560.1 L893.1,564.3 L902.2,565.1 L908.9,563.5 L914.8,561.8 L916.1,568.5 L913.9,574.3 L908.9,576.8 L908.1,581.9 L902.2,584.4 L898.9,588.5 L897.2,593.6 L882.2,593.6 L880.5,585.2 L880.5,573.5 L884.7,568.5 L882.2,563.5 L873.8,562.6 L873.0,553.4 L880.5,551.4Z M907.3,536.7 L910.6,534.2 L914.8,535.9 L913.1,539.2 L908.1,539.2Z M893.1,523.4 L896.4,523.4 L896.4,526.7 L893.1,526.7Z M1007.5,473.1 L1012.5,471.8 L1020.1,473.1 L1019.2,475.1 L1009.2,475.5Z M953.2,443.4 L956.6,441.7 L957.4,446.7 L953.2,447.6Z M738.1,604.4 L742.7,601.1 L743.8,602.7 L739.3,606.6Z M896.4,645.6 L900.6,644.0 L902.2,646.5 L898.1,647.8Z M903.9,641.4 L908.9,640.6 L909.8,643.1 L905.3,644.0Z M912.3,638.9 L919.0,638.1 L919.8,640.6 L913.6,641.8Z M721.4,645.6 L724.3,645.6 L724.3,655.7 L721.4,655.7Z M981.6,618.1 L984.1,618.1 L984.1,621.4 L981.6,621.4Z M987.5,615.5 L990.8,615.5 L990.8,618.1 L987.5,618.1Z" clip-rule="evenodd"/></clipPath>
<g clip-path="url(#bc6)">
<ellipse cx="731" cy="447.6" rx="24.5" ry="7.7" fill="#424085" filter="url(#bl8)"/>
<ellipse cx="804.5" cy="450.6" rx="18.4" ry="7.7" fill="#3b538b" filter="url(#bl8)"/>
<ellipse cx="724.8" cy="478.2" rx="21.5" ry="9.2" fill="#443b83" filter="url(#bl8)"/>
<ellipse cx="850.5" cy="490.5" rx="15.3" ry="24.5" fill="#414487" filter="url(#bl8)"/>
<ellipse cx="881.1" cy="478.2" rx="3.7" ry="3.7" fill="#39568c" filter="url(#bl3)"/>
<ellipse cx="868.9" cy="511.9" rx="4.6" ry="4.6" fill="#3f4888" filter="url(#bl5)"/>
<ellipse cx="976.1" cy="557.9" rx="49" ry="52.1" fill="#3b538b" filter="url(#bl12)"/>
<ellipse cx="991.5" cy="603.9" rx="24.5" ry="18.4" fill="#3c4f8a" filter="url(#bl8)"/>
<ellipse cx="1022.1" cy="585.5" rx="9.2" ry="24.5" fill="#39568c" filter="url(#bl8)"/>
<ellipse cx="942.4" cy="531.9" rx="8.6" ry="8.6" fill="#228f8c" filter="url(#bl5)"/>
<ellipse cx="1002.2" cy="527.3" rx="7.7" ry="7.7" fill="#24888d" filter="url(#bl5)"/>
<ellipse cx="1002.5" cy="661.5" rx="33.4" ry="21.7" fill="#31688e" filter="url(#bl12)"/>
<ellipse cx="1019.2" cy="614.7" rx="13.4" ry="13.4" fill="#375a8c" filter="url(#bl8)"/>
<ellipse cx="1005.9" cy="656.5" rx="15" ry="11.7" fill="#41be72" filter="url(#bl5)"/>
<ellipse cx="1025.9" cy="658.2" rx="4.2" ry="10" fill="#30b57b" filter="url(#bl3)"/>
<ellipse cx="1004.2" cy="654.8" rx="7.5" ry="7.5" fill="#fde725" filter="url(#bl2)"/>
<g stroke="rgba(205,165,225,0.62)" stroke-width="1.5"><line x1="720.7" y1="428.1" x2="720.7" y2="697.2"/><line x1="769.7" y1="428.1" x2="769.7" y2="697.2"/><line x1="818.6" y1="428.1" x2="818.6" y2="697.2"/><line x1="867.6" y1="428.1" x2="867.6" y2="697.2"/><line x1="916.6" y1="428.1" x2="916.6" y2="697.2"/><line x1="965.5" y1="428.1" x2="965.5" y2="697.2"/><line x1="1014.5" y1="428.1" x2="1014.5" y2="697.2"/><line x1="688.6" y1="678.3" x2="1047.6" y2="678.3"/><line x1="688.6" y1="637.3" x2="1047.6" y2="637.3"/><line x1="688.6" y1="596.2" x2="1047.6" y2="596.2"/><line x1="688.6" y1="555.1" x2="1047.6" y2="555.1"/><line x1="688.6" y1="514" x2="1047.6" y2="514"/><line x1="688.6" y1="473" x2="1047.6" y2="473"/><line x1="688.6" y1="431.9" x2="1047.6" y2="431.9"/></g>
</g>
<path d="M743.2,645.5 L745.4,636.1 L746.7,625.1 L741.6,618.5 L735.1,614.1 L728.4,611.5 L727.4,608.5 L730.7,603.1 L728.4,596.4 L730.7,588.6 L735.1,584.2 L739.5,578.8 L740.6,573.2 L737.2,567.8 L735.1,561 L733.9,554.5 L735.1,548.9" fill="none" stroke="#15151c" stroke-width="1.2" stroke-linejoin="round"/>
<path d="M735.1,548.9 L741.6,550 L747.2,547.9 L753.8,545.6 L759.2,544.4 L763.8,542.3 L765.3,547.9 L770.3,549.5 L775.9,546.7 L781.4,550 L786.8,554.5 L793.5,557.8 L800,558.9 L806.7,556.8 L813.4,556.3 L819.9,558.9" fill="none" stroke="#15151c" stroke-width="1.2" stroke-linejoin="round"/>
<path d="M819.9,558.9 L821.1,565.5 L823.2,574.3 L824.4,583.2 L821.1,591.9 L817.8,598.7 L815,605.2 L814.4,614.1 L816.7,623 L819.9,627.4 L819.9,632.8" fill="none" stroke="#15151c" stroke-width="1.2" stroke-linejoin="round"/>
<path d="M728.4,596 L724,596.4 L720.7,599 L716.3,595.4 L713,587.7 L710.8,580.9 L705.2,579.3 L698.7,580.9 L695.4,579.9" fill="none" stroke="#15151c" stroke-width="1.2" stroke-linejoin="round"/>
<path d="M695.4,579.9 L693.1,572 L691,565.5 L688.7,562.2 L686.4,556.8" fill="none" stroke="#15151c" stroke-width="1.2" stroke-linejoin="round"/>
<path d="M695.4,579.9 L692,585.4 L688.7,589.8 L684.8,594.6" fill="none" stroke="#15151c" stroke-width="1.2" stroke-linejoin="round"/>
<path d="M883.4,617.4 L878.4,611 L875.9,599.8 L876.6,587.2 L874.6,574.7 L873.3,564.7 L872.2,554.6 L867.6,545.3 L865.6,537.1" fill="none" stroke="#15151c" stroke-width="1.2" stroke-linejoin="round"/>
<path d="M894.7,613.6 L893.4,599.8 L892.6,587.2 L892.1,574.7 L890.9,562.2 L889.6,552.2 L882.3,538.7" fill="none" stroke="#15151c" stroke-width="1.2" stroke-linejoin="round"/>
<path d="M911.7,611.8 L911.7,599.8 L912.2,587.2 L912.6,570.9 L917.2,567.1 L919.7,559.6 L923.4,552.2 L925.9,547.1 L929.6,542 L926.4,533.8 L926.7,527.2" fill="none" stroke="#15151c" stroke-width="1.2" stroke-linejoin="round"/>
<path d="M1006,640.4 L1009.7,632.3 L1013.5,619.9 L1022.3,609.8 L1032.3,604.7 L1039.8,602.3 L1046.1,606.1 L1052,609.3" fill="none" stroke="#15151c" stroke-width="1.2" stroke-linejoin="round"/>
<path d="M1027.9,682.6 L1052,682.6" fill="none" stroke="#15151c" stroke-width="1.2" stroke-linejoin="round"/>
<path d="M684.8,469.7 L688.1,468.4 L692.6,465.7 L701.6,465.1 L710.6,465.1 L714,462.1 L716.2,464.4 L733.1,463.9 L755.6,463.9 L777,463.9 L780,457.2 L780,448.2 L775.9,439.1 L773.6,425.3" fill="none" stroke="#15151c" stroke-width="1.2" stroke-linejoin="round"/>
<path d="M684.8,515.7 L688.1,518 L692.6,521.4 L697.1,519.1 L702.8,517.5 L712.9,515.7 L721.9,518 L724.1,524.7 L728.6,531.5 L729.7,538.2 L733.1,545.1 L735.1,548.9" fill="none" stroke="#15151c" stroke-width="1.2" stroke-linejoin="round"/>
<path d="M777,547.7 L779.3,536.1 L782.6,522.4 L793.8,515.7 L796.1,502.2 L809.7,493.2 L818.6,484.1 L832.2,477.4 L850.1,474.1 L862.7,472.2 L872.5,473.8" fill="none" stroke="#15151c" stroke-width="1.2" stroke-linejoin="round"/>
<path d="M872.5,473.8 L873.1,484.6 L882.9,497.1 L892.9,507 L902.9,514.5 L903.5,520.6 L906.8,523.9" fill="none" stroke="#15151c" stroke-width="1.2" stroke-linejoin="round"/>
<path d="M819.9,558.9 L821.9,550.2 L820.3,540.3 L835,538.7 L848,538.7 L859.4,537.9 L865.6,537.1 L875.8,538.7 L882.3,538.7 L890.4,531.3 L900.2,531.3 L906.8,523.9" fill="none" stroke="#15151c" stroke-width="1.2" stroke-linejoin="round"/>
<path d="M906.8,523.9 L914.1,516.5 L926.7,527.2" fill="none" stroke="#15151c" stroke-width="1.2" stroke-linejoin="round"/>
<path d="M926.7,527.2 L928,514 L930.6,507 L935,498.1 L941.7,493.7 L950.7,492.5 L957.4,494.8 L966.3,497 L975.1,499.3 L984.1,502.5 L993.1,500.4 L1002.1,501.4 L1010.9,504.8 L1019.9,505.8 L1028.8,502.5 L1037.7,499.9 L1052,499.3" fill="none" stroke="#15151c" stroke-width="1.2" stroke-linejoin="round"/>
<path d="M872.5,473.8 L882.9,469.7 L907.7,466.1 L920.2,462.3 L927.5,457.4 L932.4,447.3 L936.1,441.8 L936.1,425.3" fill="none" stroke="#15151c" stroke-width="1.2" stroke-linejoin="round"/>
<path d="M1005.5,662.7 L1007.1,666 L1010.4,665.2 L1013.7,659.5 L1012,657 L1008.8,657.8Z" fill="none" stroke="#111" stroke-width="1.1"/>
<circle cx="988.4" cy="692.6" r="1.5" fill="#14142a"/>
<path d="M684.8,609.3 L688.4,611.2 L698,616.9 L706.8,625.8 L715.7,633.5 L725.8,640.6 L736.1,644.8 L743.6,646.8 L756.1,640.6 L771.5,635.5 L786.7,632.8 L801.8,631.7 L815.7,633.5 L824.5,636 L833.5,639.7 L843.6,634.6 L857.5,629.7 L870,624.6 L882.8,620.8 L890.4,616.9 L903,614.4 L918.2,612.6 L928.3,611.3 L936,612.6 L943.5,616.9 L951.2,623.3 L956.2,630.9 L960,639.7 L966.3,646.1 L979.1,644.8 L994.2,643 L1006,641.9 L1012.4,645 L1019.9,652.4 L1026.1,661.3 L1028.5,670.1 L1027.9,682.6 L1024.6,690.5 L1021,698.1 L1019.4,703" fill="none" stroke="#161a22" stroke-width="1.4" stroke-linejoin="round"/>
</g>
<rect x="688.6" y="428.1" width="359" height="269.1" fill="none" stroke="#333" stroke-width="1.35"/>
<text x="679.6" y="681.9" text-anchor="end" font-size="14.4" textLength="35.5" lengthAdjust="spacingAndGlyphs">2.5°N</text>
<text x="679.6" y="640.9" text-anchor="end" font-size="14.4" textLength="23.6" lengthAdjust="spacingAndGlyphs">5°N</text>
<text x="679.6" y="599.8" text-anchor="end" font-size="14.4" textLength="35.5" lengthAdjust="spacingAndGlyphs">7.5°N</text>
<text x="679.6" y="558.7" text-anchor="end" font-size="14.4" textLength="31.6" lengthAdjust="spacingAndGlyphs">10°N</text>
<text x="679.6" y="517.6" text-anchor="end" font-size="14.4" textLength="43.5" lengthAdjust="spacingAndGlyphs">12.5°N</text>
<text x="679.6" y="476.6" text-anchor="end" font-size="14.4" textLength="31.6" lengthAdjust="spacingAndGlyphs">15°N</text>
<text x="679.6" y="435.5" text-anchor="end" font-size="14.4" textLength="43.5" lengthAdjust="spacingAndGlyphs">17.5°N</text>
<text x="720.7" y="714" text-anchor="middle" font-size="14.4" textLength="26.6" lengthAdjust="spacingAndGlyphs">9°W</text>
<text x="769.7" y="714" text-anchor="middle" font-size="14.4" textLength="26.6" lengthAdjust="spacingAndGlyphs">6°W</text>
<text x="818.6" y="714" text-anchor="middle" font-size="14.4" textLength="26.6" lengthAdjust="spacingAndGlyphs">3°W</text>
<text x="867.6" y="714" text-anchor="middle" font-size="14.4" textLength="14.2" lengthAdjust="spacingAndGlyphs">0°</text>
<text x="916.6" y="714" text-anchor="middle" font-size="14.4" textLength="22.1" lengthAdjust="spacingAndGlyphs">3°E</text>
<text x="965.5" y="714" text-anchor="middle" font-size="14.4" textLength="22.1" lengthAdjust="spacingAndGlyphs">6°E</text>
<text x="1014.5" y="714" text-anchor="middle" font-size="14.4" textLength="22.1" lengthAdjust="spacingAndGlyphs">9°E</text>
<text x="867.3" y="416.8" text-anchor="middle" font-size="15.88" textLength="154" lengthAdjust="spacingAndGlyphs">GSMAP 2020-08-20</text>
<rect x="1068.9" y="431.6" width="14.3" height="276.4" fill="url(#vg)"/>
<path d="M1068.9,432.1 L1076.1,416.3 L1083.2,432.1Z" fill="#fde725"/>
<path d="M1068.9,708 L1068.9,431.6 L1076.1,416.3 L1083.2,431.6 L1083.2,708Z" fill="none" stroke="#222" stroke-width="0.9"/>
<line x1="1083.2" y1="708" x2="1087.4" y2="708" stroke="#222" stroke-width="1"/>
<text x="1093.4" y="712.1" text-anchor="start" font-size="14.4" textLength="8" lengthAdjust="spacingAndGlyphs">0</text>
<line x1="1083.2" y1="671.1" x2="1087.4" y2="671.1" stroke="#222" stroke-width="1"/>
<text x="1093.4" y="675.2" text-anchor="start" font-size="14.4" textLength="15.9" lengthAdjust="spacingAndGlyphs">20</text>
<line x1="1083.2" y1="634.3" x2="1087.4" y2="634.3" stroke="#222" stroke-width="1"/>
<text x="1093.4" y="638.4" text-anchor="start" font-size="14.4" textLength="15.9" lengthAdjust="spacingAndGlyphs">40</text>
<line x1="1083.2" y1="597.4" x2="1087.4" y2="597.4" stroke="#222" stroke-width="1"/>
<text x="1093.4" y="601.5" text-anchor="start" font-size="14.4" textLength="15.9" lengthAdjust="spacingAndGlyphs">60</text>
<line x1="1083.2" y1="560.6" x2="1087.4" y2="560.6" stroke="#222" stroke-width="1"/>
<text x="1093.4" y="564.7" text-anchor="start" font-size="14.4" textLength="15.9" lengthAdjust="spacingAndGlyphs">80</text>
<line x1="1083.2" y1="523.7" x2="1087.4" y2="523.7" stroke="#222" stroke-width="1"/>
<text x="1093.4" y="527.8" text-anchor="start" font-size="14.4" textLength="23.9" lengthAdjust="spacingAndGlyphs">100</text>
<line x1="1083.2" y1="486.9" x2="1087.4" y2="486.9" stroke="#222" stroke-width="1"/>
<text x="1093.4" y="491" text-anchor="start" font-size="14.4" textLength="23.9" lengthAdjust="spacingAndGlyphs">120</text>
<line x1="1083.2" y1="450" x2="1087.4" y2="450" stroke="#222" stroke-width="1"/>
<text x="1093.4" y="454.1" text-anchor="start" font-size="14.4" textLength="23.9" lengthAdjust="spacingAndGlyphs">140</text>
</g>
<g id="p7">
<clipPath id="ax7"><rect x="1266.6" y="428.1" width="359.2" height="269.1"/></clipPath>
<g clip-path="url(#ax7)">
<g stroke="#cfcfcf" stroke-width="1.4"><line x1="1298.7" y1="428.1" x2="1298.7" y2="697.2"/><line x1="1347.8" y1="428.1" x2="1347.8" y2="697.2"/><line x1="1396.8" y1="428.1" x2="1396.8" y2="697.2"/><line x1="1445.8" y1="428.1" x2="1445.8" y2="697.2"/><line x1="1494.8" y1="428.1" x2="1494.8" y2="697.2"/><line x1="1543.8" y1="428.1" x2="1543.8" y2="697.2"/><line x1="1592.9" y1="428.1" x2="1592.9" y2="697.2"/><line x1="1266.6" y1="678.2" x2="1625.8" y2="678.2"/><line x1="1266.6" y1="637.1" x2="1625.8" y2="637.1"/><line x1="1266.6" y1="596.1" x2="1625.8" y2="596.1"/><line x1="1266.6" y1="555" x2="1625.8" y2="555"/><line x1="1266.6" y1="514" x2="1625.8" y2="514"/><line x1="1266.6" y1="472.9" x2="1625.8" y2="472.9"/><line x1="1266.6" y1="431.9" x2="1625.8" y2="431.9"/></g>
<path d="M1262.8,609.2 L1266.4,611 L1276,616.8 L1284.9,625.7 L1293.7,633.4 L1303.8,640.4 L1314.1,644.7 L1321.6,646.7 L1334.2,640.4 L1349.6,635.3 L1364.8,632.7 L1379.9,631.6 L1393.8,633.4 L1402.7,635.8 L1411.6,639.6 L1421.8,634.5 L1435.7,629.6 L1448.3,624.5 L1461,620.7 L1468.7,616.8 L1481.3,614.3 L1496.5,612.5 L1506.6,611.2 L1514.3,612.5 L1521.8,616.8 L1529.5,623.2 L1534.5,630.7 L1538.3,639.6 L1544.7,646 L1557.4,644.7 L1572.6,642.9 L1584.4,641.7 L1590.7,644.9 L1598.3,652.3 L1604.5,661.1 L1606.9,670 L1606.3,682.5 L1603,690.4 L1599.4,697.9 L1597.8,702.8 L1597.8,711 L1257.9,711Z" fill="#98b6e1" fill-opacity="0.94"/>
<path d="M1386.5,439.7 L1467.5,439.7 L1468.4,443.1 L1472.2,443.1 L1472.9,439.7 L1566.1,439.7 L1567.8,443.4 L1571.2,446.7 L1570.3,452.6 L1564.5,455.9 L1562.8,460.1 L1569.5,459.3 L1579.5,457.6 L1589.5,458.4 L1597.9,460.1 L1600.4,466.8 L1607.9,468.5 L1607.9,684.6 L1569.5,684.9 L1570.3,679.9 L1567.8,676.5 L1562.8,674.0 L1561.1,669.9 L1557.0,669.0 L1557.8,664.8 L1561.1,661.5 L1562.8,656.5 L1561.1,654.0 L1554.4,653.1 L1554.4,648.1 L1556.1,641.4 L1562.8,640.6 L1567.8,638.1 L1567.8,631.4 L1566.1,624.7 L1557.8,623.9 L1556.1,619.7 L1561.1,618.1 L1567.8,618.9 L1569.5,614.7 L1576.2,613.0 L1574.5,608.0 L1567.8,606.4 L1564.5,604.7 L1561.1,601.3 L1561.1,596.9 L1559.5,591.0 L1552.8,587.7 L1546.1,585.2 L1536.1,584.4 L1532.7,579.4 L1526.0,576.8 L1517.7,579.4 L1515.2,584.4 L1509.3,585.2 L1501.0,586.0 L1492.6,585.2 L1484.3,587.2 L1477.6,586.9 L1470.9,583.5 L1465.0,581.9 L1459.2,580.2 L1452.5,577.7 L1445.8,579.4 L1443.3,583.5 L1437.5,586.0 L1436.6,581.9 L1439.1,576.8 L1443.3,573.5 L1440.8,570.2 L1439.1,565.1 L1441.6,559.3 L1435.8,560.1 L1429.1,564.3 L1422.4,563.5 L1415.7,561.0 L1409.1,561.8 L1405.7,557.6 L1402.4,553.4 L1399.0,549.3 L1394.0,545.9 L1390.7,544.3 L1385.7,545.9 L1379.0,547.6 L1372.3,549.3 L1369.0,550.9 L1362.3,551.8 L1355.6,552.6 L1348.9,550.9 L1342.2,551.8 L1335.5,553.4 L1328.8,552.6 L1324.7,550.1 L1325.5,545.9 L1320.5,544.3 L1315.5,541.8 L1315.1,536.7 L1317.1,531.7 L1322.2,529.2 L1328.8,527.5 L1337.2,525.9 L1345.6,524.7 L1355.6,524.2 L1362.3,522.5 L1369.0,518.4 L1365.6,515.3 L1360.6,511.1 L1355.6,508.6 L1350.6,505.2 L1348.1,500.2 L1345.6,495.2 L1346.4,488.5 L1348.9,483.5 L1350.6,478.5 L1355.6,476.0 L1362.3,474.3 L1369.0,473.1 L1377.3,471.0 L1376.5,466.8 L1379.0,464.3 L1380.6,460.1 L1385.7,457.6 L1391.5,455.1 L1390.7,450.9 L1385.7,452.6 L1379.0,454.3 L1373.1,453.4 L1372.3,450.1 L1377.3,449.2 L1382.3,447.6 L1384.0,443.4Z M1480.1,445.1 L1483.4,443.4 L1485.9,446.7 L1485.1,450.9 L1480.9,453.4 L1479.6,449.2Z M1567.8,486.5 L1571.2,486.5 L1571.2,488.5 L1567.8,488.5Z M1390.7,503.6 L1395.7,502.7 L1394.9,505.2 L1392.3,507.7Z M1466.7,555.1 L1470.1,555.1 L1470.1,559.3 L1466.7,559.3Z M1585.4,617.2 L1592.0,617.7 L1592.5,620.6 L1586.2,620.6Z M1297.9,455.9 L1300.4,451.8 L1299.6,446.7 L1302.9,445.1 L1303.8,449.2 L1312.1,448.4 L1315.5,445.9 L1318.8,449.2 L1328.8,448.7 L1342.2,448.4 L1343.9,450.9 L1338.9,453.4 L1335.5,457.6 L1332.2,460.9 L1325.5,460.1 L1320.5,461.8 L1312.1,460.1 L1305.4,460.9 L1299.6,460.1Z M1282.9,467.6 L1288.7,466.0 L1295.4,468.5 L1293.8,472.6 L1287.1,473.5 L1283.4,471.0Z M1333.9,459.3 L1338.9,459.3 L1338.9,464.3 L1333.9,464.3Z M1343.0,464.3 L1349.7,463.4 L1350.6,466.8 L1343.9,468.1Z M1354.7,466.8 L1358.1,466.8 L1358.1,471.0 L1354.7,471.0Z M1361.4,467.6 L1364.3,467.6 L1364.3,471.0 L1361.4,471.0Z M1327.2,481.5 L1332.2,481.0 L1331.9,484.8 L1328.8,486.0Z M1338.9,482.7 L1343.9,482.7 L1343.9,486.8 L1338.9,486.8Z M1299.6,485.5 L1302.9,485.5 L1302.9,487.2 L1299.6,487.2Z M1284.6,491.9 L1287.1,488.5 L1291.2,490.2 L1297.1,492.7 L1303.8,494.4 L1312.1,493.5 L1320.5,493.2 L1323.8,495.2 L1320.5,499.4 L1312.1,501.9 L1303.8,502.7 L1302.1,506.9 L1305.4,510.2 L1297.9,511.9 L1293.8,516.1 L1285.4,516.9 L1282.9,511.9 L1282.9,501.9 L1287.1,500.2 L1284.6,496.9Z M1332.2,498.5 L1338.0,497.7 L1337.5,502.7 L1333.0,503.6Z M1580.3,440.9 L1585.4,439.2 L1593.7,439.7 L1592.0,443.4 L1586.2,445.1 L1581.2,445.9Z M1575.3,445.4 L1577.5,445.4 L1577.5,448.1 L1575.3,448.1Z M1282.9,535.9 L1287.1,535.1 L1291.2,539.2 L1297.1,540.1 L1302.1,542.6 L1307.1,544.3 L1310.5,549.3 L1312.1,555.1 L1315.5,560.1 L1322.2,563.5 L1328.8,561.8 L1335.5,560.1 L1342.2,558.5 L1348.9,556.8 L1353.1,558.5 L1357.3,560.1 L1358.1,566.8 L1352.2,568.5 L1347.2,566.8 L1342.2,570.2 L1338.9,574.3 L1335.5,578.5 L1328.8,581.9 L1322.2,585.2 L1317.1,587.7 L1312.1,588.5 L1308.8,586.0 L1303.8,585.2 L1297.9,583.5 L1297.9,578.5 L1303.8,576.8 L1307.1,573.5 L1303.8,568.5 L1298.8,565.1 L1292.1,563.5 L1282.9,563.5Z M1316.3,520.4 L1324.7,519.7 L1324.7,522.5 L1316.8,523.0Z M1282.9,572.7 L1287.1,571.8 L1288.7,576.8 L1287.1,583.5 L1283.7,584.4Z M1287.1,592.7 L1292.1,591.9 L1292.9,597.7 L1287.9,598.6Z M1283.7,610.3 L1287.1,610.3 L1287.1,617.0 L1283.7,617.0Z M1411.6,605.3 L1414.9,605.3 L1414.9,608.6 L1411.6,608.6Z M1516.0,588.5 L1518.5,588.5 L1518.5,591.9 L1516.0,591.9Z M1522.7,596.1 L1526.0,596.1 L1526.0,598.6 L1522.7,598.6Z M1544.4,604.4 L1549.4,602.7 L1556.1,603.6 L1555.3,607.8 L1546.1,608.6Z M1529.4,615.6 L1542.7,614.9 L1542.4,618.3 L1530.2,618.6Z M1282.9,624.7 L1287.1,623.1 L1290.4,627.2 L1293.8,631.4 L1292.1,634.8 L1287.1,631.4 L1283.7,628.9Z M1283.4,640.6 L1287.1,638.1 L1291.2,641.4 L1290.4,646.5 L1283.7,645.6Z M1299.6,646.5 L1302.9,646.5 L1302.9,652.3 L1299.6,652.3Z M1299.6,637.3 L1302.9,637.3 L1302.9,641.4 L1299.6,641.4Z M1303.8,614.7 L1307.1,614.7 L1307.1,617.2 L1303.8,617.2Z" fill="#48076b" fill-rule="evenodd"/>
<clipPath id="bc7"><path d="M1386.5,439.7 L1467.5,439.7 L1468.4,443.1 L1472.2,443.1 L1472.9,439.7 L1566.1,439.7 L1567.8,443.4 L1571.2,446.7 L1570.3,452.6 L1564.5,455.9 L1562.8,460.1 L1569.5,459.3 L1579.5,457.6 L1589.5,458.4 L1597.9,460.1 L1600.4,466.8 L1607.9,468.5 L1607.9,684.6 L1569.5,684.9 L1570.3,679.9 L1567.8,676.5 L1562.8,674.0 L1561.1,669.9 L1557.0,669.0 L1557.8,664.8 L1561.1,661.5 L1562.8,656.5 L1561.1,654.0 L1554.4,653.1 L1554.4,648.1 L1556.1,641.4 L1562.8,640.6 L1567.8,638.1 L1567.8,631.4 L1566.1,624.7 L1557.8,623.9 L1556.1,619.7 L1561.1,618.1 L1567.8,618.9 L1569.5,614.7 L1576.2,613.0 L1574.5,608.0 L1567.8,606.4 L1564.5,604.7 L1561.1,601.3 L1561.1,596.9 L1559.5,591.0 L1552.8,587.7 L1546.1,585.2 L1536.1,584.4 L1532.7,579.4 L1526.0,576.8 L1517.7,579.4 L1515.2,584.4 L1509.3,585.2 L1501.0,586.0 L1492.6,585.2 L1484.3,587.2 L1477.6,586.9 L1470.9,583.5 L1465.0,581.9 L1459.2,580.2 L1452.5,577.7 L1445.8,579.4 L1443.3,583.5 L1437.5,586.0 L1436.6,581.9 L1439.1,576.8 L1443.3,573.5 L1440.8,570.2 L1439.1,565.1 L1441.6,559.3 L1435.8,560.1 L1429.1,564.3 L1422.4,563.5 L1415.7,561.0 L1409.1,561.8 L1405.7,557.6 L1402.4,553.4 L1399.0,549.3 L1394.0,545.9 L1390.7,544.3 L1385.7,545.9 L1379.0,547.6 L1372.3,549.3 L1369.0,550.9 L1362.3,551.8 L1355.6,552.6 L1348.9,550.9 L1342.2,551.8 L1335.5,553.4 L1328.8,552.6 L1324.7,550.1 L1325.5,545.9 L1320.5,544.3 L1315.5,541.8 L1315.1,536.7 L1317.1,531.7 L1322.2,529.2 L1328.8,527.5 L1337.2,525.9 L1345.6,524.7 L1355.6,524.2 L1362.3,522.5 L1369.0,518.4 L1365.6,515.3 L1360.6,511.1 L1355.6,508.6 L1350.6,505.2 L1348.1,500.2 L1345.6,495.2 L1346.4,488.5 L1348.9,483.5 L1350.6,478.5 L1355.6,476.0 L1362.3,474.3 L1369.0,473.1 L1377.3,471.0 L1376.5,466.8 L1379.0,464.3 L1380.6,460.1 L1385.7,457.6 L1391.5,455.1 L1390.7,450.9 L1385.7,452.6 L1379.0,454.3 L1373.1,453.4 L1372.3,450.1 L1377.3,449.2 L1382.3,447.6 L1384.0,443.4Z M1480.1,445.1 L1483.4,443.4 L1485.9,446.7 L1485.1,450.9 L1480.9,453.4 L1479.6,449.2Z M1567.8,486.5 L1571.2,486.5 L1571.2,488.5 L1567.8,488.5Z M1390.7,503.6 L1395.7,502.7 L1394.9,505.2 L1392.3,507.7Z M1466.7,555.1 L1470.1,555.1 L1470.1,559.3 L1466.7,559.3Z M1585.4,617.2 L1592.0,617.7 L1592.5,620.6 L1586.2,620.6Z M1297.9,455.9 L1300.4,451.8 L1299.6,446.7 L1302.9,445.1 L1303.8,449.2 L1312.1,448.4 L1315.5,445.9 L1318.8,449.2 L1328.8,448.7 L1342.2,448.4 L1343.9,450.9 L1338.9,453.4 L1335.5,457.6 L1332.2,460.9 L1325.5,460.1 L1320.5,461.8 L1312.1,460.1 L1305.4,460.9 L1299.6,460.1Z M1282.9,467.6 L1288.7,466.0 L1295.4,468.5 L1293.8,472.6 L1287.1,473.5 L1283.4,471.0Z M1333.9,459.3 L1338.9,459.3 L1338.9,464.3 L1333.9,464.3Z M1343.0,464.3 L1349.7,463.4 L1350.6,466.8 L1343.9,468.1Z M1354.7,466.8 L1358.1,466.8 L1358.1,471.0 L1354.7,471.0Z M1361.4,467.6 L1364.3,467.6 L1364.3,471.0 L1361.4,471.0Z M1327.2,481.5 L1332.2,481.0 L1331.9,484.8 L1328.8,486.0Z M1338.9,482.7 L1343.9,482.7 L1343.9,486.8 L1338.9,486.8Z M1299.6,485.5 L1302.9,485.5 L1302.9,487.2 L1299.6,487.2Z M1284.6,491.9 L1287.1,488.5 L1291.2,490.2 L1297.1,492.7 L1303.8,494.4 L1312.1,493.5 L1320.5,493.2 L1323.8,495.2 L1320.5,499.4 L1312.1,501.9 L1303.8,502.7 L1302.1,506.9 L1305.4,510.2 L1297.9,511.9 L1293.8,516.1 L1285.4,516.9 L1282.9,511.9 L1282.9,501.9 L1287.1,500.2 L1284.6,496.9Z M1332.2,498.5 L1338.0,497.7 L1337.5,502.7 L1333.0,503.6Z M1580.3,440.9 L1585.4,439.2 L1593.7,439.7 L1592.0,443.4 L1586.2,445.1 L1581.2,445.9Z M1575.3,445.4 L1577.5,445.4 L1577.5,448.1 L1575.3,448.1Z M1282.9,535.9 L1287.1,535.1 L1291.2,539.2 L1297.1,540.1 L1302.1,542.6 L1307.1,544.3 L1310.5,549.3 L1312.1,555.1 L1315.5,560.1 L1322.2,563.5 L1328.8,561.8 L1335.5,560.1 L1342.2,558.5 L1348.9,556.8 L1353.1,558.5 L1357.3,560.1 L1358.1,566.8 L1352.2,568.5 L1347.2,566.8 L1342.2,570.2 L1338.9,574.3 L1335.5,578.5 L1328.8,581.9 L1322.2,585.2 L1317.1,587.7 L1312.1,588.5 L1308.8,586.0 L1303.8,585.2 L1297.9,583.5 L1297.9,578.5 L1303.8,576.8 L1307.1,573.5 L1303.8,568.5 L1298.8,565.1 L1292.1,563.5 L1282.9,563.5Z M1316.3,520.4 L1324.7,519.7 L1324.7,522.5 L1316.8,523.0Z M1282.9,572.7 L1287.1,571.8 L1288.7,576.8 L1287.1,583.5 L1283.7,584.4Z M1287.1,592.7 L1292.1,591.9 L1292.9,597.7 L1287.9,598.6Z M1283.7,610.3 L1287.1,610.3 L1287.1,617.0 L1283.7,617.0Z M1411.6,605.3 L1414.9,605.3 L1414.9,608.6 L1411.6,608.6Z M1516.0,588.5 L1518.5,588.5 L1518.5,591.9 L1516.0,591.9Z M1522.7,596.1 L1526.0,596.1 L1526.0,598.6 L1522.7,598.6Z M1544.4,604.4 L1549.4,602.7 L1556.1,603.6 L1555.3,607.8 L1546.1,608.6Z M1529.4,615.6 L1542.7,614.9 L1542.4,618.3 L1530.2,618.6Z M1282.9,624.7 L1287.1,623.1 L1290.4,627.2 L1293.8,631.4 L1292.1,634.8 L1287.1,631.4 L1283.7,628.9Z M1283.4,640.6 L1287.1,638.1 L1291.2,641.4 L1290.4,646.5 L1283.7,645.6Z M1299.6,646.5 L1302.9,646.5 L1302.9,652.3 L1299.6,652.3Z M1299.6,637.3 L1302.9,637.3 L1302.9,641.4 L1299.6,641.4Z M1303.8,614.7 L1307.1,614.7 L1307.1,617.2 L1303.8,617.2Z" clip-rule="evenodd"/></clipPath>
<g clip-path="url(#bc7)">
<ellipse cx="1476.5" cy="511.9" rx="91.9" ry="61.3" fill="#453781" filter="url(#bl12)"/>
<ellipse cx="1409.1" cy="505.8" rx="36.8" ry="24.5" fill="#443b83" filter="url(#bl12)"/>
<ellipse cx="1461.2" cy="469" rx="36.8" ry="18.4" fill="#355f8d" filter="url(#bl8)"/>
<ellipse cx="1537.8" cy="530.3" rx="55.2" ry="18.4" fill="#39568c" filter="url(#bl8)"/>
<ellipse cx="1476.5" cy="557.9" rx="30.6" ry="18.4" fill="#424085" filter="url(#bl8)"/>
<ellipse cx="1568.5" cy="496.6" rx="30.6" ry="15.3" fill="#472a79" filter="url(#bl8)"/>
<ellipse cx="1427.5" cy="443" rx="9.2" ry="4.6" fill="#375a8c" filter="url(#bl5)"/>
<ellipse cx="1470.4" cy="459.8" rx="15.3" ry="7.7" fill="#31688e" filter="url(#bl5)"/>
<ellipse cx="1439.8" cy="484.4" rx="8.6" ry="6.1" fill="#21928c" filter="url(#bl5)"/>
<ellipse cx="1516.4" cy="528.8" rx="9.2" ry="7.7" fill="#21928c" filter="url(#bl5)"/>
<ellipse cx="1599.1" cy="530.3" rx="7.7" ry="12.3" fill="#355f8d" filter="url(#bl5)"/>
<ellipse cx="1369.3" cy="493.6" rx="12.3" ry="7.7" fill="#3e4b89" filter="url(#bl5)"/>
<ellipse cx="1586.9" cy="585.5" rx="15.3" ry="9.2" fill="#375a8c" filter="url(#bl8)"/>
<ellipse cx="1338.6" cy="536.5" rx="18.4" ry="6.1" fill="#46337f" filter="url(#bl5)"/>
<ellipse cx="1579.5" cy="661.5" rx="13.4" ry="13.4" fill="#414487" filter="url(#bl8)"/>
<ellipse cx="1584.5" cy="648.1" rx="10" ry="6.7" fill="#2f6b8e" filter="url(#bl5)"/>
<ellipse cx="1601.2" cy="608" rx="5" ry="10" fill="#3f4888" filter="url(#bl8)"/>
<ellipse cx="1599.6" cy="664.8" rx="6.7" ry="15" fill="#21a585" filter="url(#bl5)"/>
<ellipse cx="1602.1" cy="668.2" rx="3" ry="6.7" fill="#fde725" filter="url(#bl2)"/>
<ellipse cx="1602.9" cy="678.2" rx="2" ry="4.2" fill="#dde319" filter="url(#bl2)"/>
<g stroke="rgba(205,165,225,0.62)" stroke-width="1.5"><line x1="1298.7" y1="428.1" x2="1298.7" y2="697.2"/><line x1="1347.8" y1="428.1" x2="1347.8" y2="697.2"/><line x1="1396.8" y1="428.1" x2="1396.8" y2="697.2"/><line x1="1445.8" y1="428.1" x2="1445.8" y2="697.2"/><line x1="1494.8" y1="428.1" x2="1494.8" y2="697.2"/><line x1="1543.8" y1="428.1" x2="1543.8" y2="697.2"/><line x1="1592.9" y1="428.1" x2="1592.9" y2="697.2"/><line x1="1266.6" y1="678.2" x2="1625.8" y2="678.2"/><line x1="1266.6" y1="637.1" x2="1625.8" y2="637.1"/><line x1="1266.6" y1="596.1" x2="1625.8" y2="596.1"/><line x1="1266.6" y1="555" x2="1625.8" y2="555"/><line x1="1266.6" y1="514" x2="1625.8" y2="514"/><line x1="1266.6" y1="472.9" x2="1625.8" y2="472.9"/><line x1="1266.6" y1="431.9" x2="1625.8" y2="431.9"/></g>
</g>
<path d="M1321.3,645.4 L1323.4,636 L1324.7,625 L1319.7,618.4 L1313.1,614 L1306.4,611.4 L1305.4,608.4 L1308.7,603 L1306.4,596.3 L1308.7,588.5 L1313.1,584.1 L1317.5,578.7 L1318.7,573.1 L1315.2,567.7 L1313.1,561 L1312,554.4 L1313.1,548.8" fill="none" stroke="#15151c" stroke-width="1.2" stroke-linejoin="round"/>
<path d="M1313.1,548.8 L1319.7,550 L1325.2,547.8 L1331.9,545.5 L1337.3,544.4 L1341.9,542.2 L1343.3,547.8 L1348.4,549.5 L1354,546.7 L1359.5,550 L1364.9,554.4 L1371.6,557.7 L1378.2,558.8 L1384.9,556.7 L1391.6,556.2 L1398.1,558.8" fill="none" stroke="#15151c" stroke-width="1.2" stroke-linejoin="round"/>
<path d="M1398.1,558.8 L1399.2,565.4 L1401.4,574.3 L1402.5,583.1 L1399.2,591.8 L1396,598.6 L1393.2,605.1 L1392.5,614 L1394.8,622.9 L1398.1,627.3 L1398.1,632.7" fill="none" stroke="#15151c" stroke-width="1.2" stroke-linejoin="round"/>
<path d="M1306.4,595.9 L1302,596.3 L1298.7,598.9 L1294.3,595.3 L1291.1,587.6 L1288.8,580.8 L1283.2,579.2 L1276.7,580.8 L1273.4,579.8" fill="none" stroke="#15151c" stroke-width="1.2" stroke-linejoin="round"/>
<path d="M1273.4,579.8 L1271.1,572 L1269,565.4 L1266.7,562.1 L1264.4,556.7" fill="none" stroke="#15151c" stroke-width="1.2" stroke-linejoin="round"/>
<path d="M1273.4,579.8 L1270,585.3 L1266.7,589.7 L1262.8,594.5" fill="none" stroke="#15151c" stroke-width="1.2" stroke-linejoin="round"/>
<path d="M1461.6,617.3 L1456.6,610.9 L1454.1,599.7 L1454.8,587.1 L1452.8,574.6 L1451.5,564.6 L1450.4,554.6 L1445.8,545.2 L1443.8,537" fill="none" stroke="#15151c" stroke-width="1.2" stroke-linejoin="round"/>
<path d="M1472.9,613.5 L1471.6,599.7 L1470.8,587.1 L1470.3,574.6 L1469.2,562.1 L1467.9,552.1 L1460.5,538.6" fill="none" stroke="#15151c" stroke-width="1.2" stroke-linejoin="round"/>
<path d="M1489.9,611.7 L1489.9,599.7 L1490.4,587.1 L1490.9,570.8 L1495.5,567 L1497.9,559.5 L1501.7,552.1 L1504.1,547 L1507.9,541.9 L1504.6,533.7 L1505,527.1" fill="none" stroke="#15151c" stroke-width="1.2" stroke-linejoin="round"/>
<path d="M1584.4,640.3 L1588.1,632.2 L1591.9,619.7 L1600.7,609.7 L1610.7,604.6 L1618.2,602.2 L1624.6,606 L1630.4,609.2" fill="none" stroke="#15151c" stroke-width="1.2" stroke-linejoin="round"/>
<path d="M1606.3,682.5 L1630.4,682.5" fill="none" stroke="#15151c" stroke-width="1.2" stroke-linejoin="round"/>
<path d="M1262.8,469.7 L1266.1,468.4 L1270.6,465.7 L1279.6,465.1 L1288.6,465.1 L1292,462.1 L1294.2,464.4 L1311.2,463.9 L1333.7,463.9 L1355.1,463.9 L1358.1,457.2 L1358.1,448.2 L1354,439.1 L1351.7,425.3" fill="none" stroke="#15151c" stroke-width="1.2" stroke-linejoin="round"/>
<path d="M1262.8,515.6 L1266.1,517.9 L1270.6,521.4 L1275,519.1 L1280.8,517.4 L1290.9,515.6 L1299.9,517.9 L1302.2,524.7 L1306.6,531.4 L1307.7,538.1 L1311.2,545 L1313.1,548.8" fill="none" stroke="#15151c" stroke-width="1.2" stroke-linejoin="round"/>
<path d="M1355.1,547.7 L1357.4,536 L1360.7,522.4 L1371.9,515.6 L1374.2,502.2 L1387.8,493.1 L1396.8,484.1 L1410.3,477.4 L1428.3,474.1 L1440.9,472.1 L1450.7,473.8" fill="none" stroke="#15151c" stroke-width="1.2" stroke-linejoin="round"/>
<path d="M1450.7,473.8 L1451.4,484.6 L1461.2,497.1 L1471.1,506.9 L1481.1,514.5 L1481.7,520.6 L1485,523.9" fill="none" stroke="#15151c" stroke-width="1.2" stroke-linejoin="round"/>
<path d="M1398.1,558.8 L1400,550.1 L1398.4,540.3 L1413.1,538.6 L1426.2,538.6 L1437.6,537.8 L1443.8,537 L1454,538.6 L1460.5,538.6 L1468.7,531.2 L1478.5,531.2 L1485,523.9" fill="none" stroke="#15151c" stroke-width="1.2" stroke-linejoin="round"/>
<path d="M1485,523.9 L1492.4,516.5 L1505,527.1" fill="none" stroke="#15151c" stroke-width="1.2" stroke-linejoin="round"/>
<path d="M1505,527.1 L1506.3,514 L1508.9,506.9 L1513.3,498.1 L1520,493.6 L1529,492.5 L1535.7,494.8 L1544.7,496.9 L1553.5,499.2 L1562.5,502.5 L1571.5,500.4 L1580.4,501.4 L1589.3,504.8 L1598.3,505.8 L1607.2,502.5 L1616.1,499.9 L1630.4,499.2" fill="none" stroke="#15151c" stroke-width="1.2" stroke-linejoin="round"/>
<path d="M1450.7,473.8 L1461.2,469.7 L1486,466.1 L1498.4,462.3 L1505.8,457.4 L1510.7,447.3 L1514.4,441.8 L1514.4,425.3" fill="none" stroke="#15151c" stroke-width="1.2" stroke-linejoin="round"/>
<path d="M1583.9,662.6 L1585.5,665.9 L1588.8,665.1 L1592,659.3 L1590.4,656.9 L1587.1,657.7Z" fill="none" stroke="#111" stroke-width="1.1"/>
<circle cx="1566.7" cy="692.5" r="1.5" fill="#14142a"/>
<path d="M1262.8,609.2 L1266.4,611 L1276,616.8 L1284.9,625.7 L1293.7,633.4 L1303.8,640.4 L1314.1,644.7 L1321.6,646.7 L1334.2,640.4 L1349.6,635.3 L1364.8,632.7 L1379.9,631.6 L1393.8,633.4 L1402.7,635.8 L1411.6,639.6 L1421.8,634.5 L1435.7,629.6 L1448.3,624.5 L1461,620.7 L1468.7,616.8 L1481.3,614.3 L1496.5,612.5 L1506.6,611.2 L1514.3,612.5 L1521.8,616.8 L1529.5,623.2 L1534.5,630.7 L1538.3,639.6 L1544.7,646 L1557.4,644.7 L1572.6,642.9 L1584.4,641.7 L1590.7,644.9 L1598.3,652.3 L1604.5,661.1 L1606.9,670 L1606.3,682.5 L1603,690.4 L1599.4,697.9 L1597.8,702.8" fill="none" stroke="#161a22" stroke-width="1.4" stroke-linejoin="round"/>
</g>
<rect x="1266.6" y="428.1" width="359.2" height="269.1" fill="none" stroke="#333" stroke-width="1.35"/>
<text x="1257.6" y="681.8" text-anchor="end" font-size="14.41" textLength="35.6" lengthAdjust="spacingAndGlyphs">2.5°N</text>
<text x="1257.6" y="640.8" text-anchor="end" font-size="14.41" textLength="23.6" lengthAdjust="spacingAndGlyphs">5°N</text>
<text x="1257.6" y="599.7" text-anchor="end" font-size="14.41" textLength="35.6" lengthAdjust="spacingAndGlyphs">7.5°N</text>
<text x="1257.6" y="558.6" text-anchor="end" font-size="14.41" textLength="31.6" lengthAdjust="spacingAndGlyphs">10°N</text>
<text x="1257.6" y="517.6" text-anchor="end" font-size="14.41" textLength="43.6" lengthAdjust="spacingAndGlyphs">12.5°N</text>
<text x="1257.6" y="476.6" text-anchor="end" font-size="14.41" textLength="31.6" lengthAdjust="spacingAndGlyphs">15°N</text>
<text x="1257.6" y="435.5" text-anchor="end" font-size="14.41" textLength="43.6" lengthAdjust="spacingAndGlyphs">17.5°N</text>
<text x="1298.7" y="714" text-anchor="middle" font-size="14.41" textLength="26.6" lengthAdjust="spacingAndGlyphs">9°W</text>
<text x="1347.8" y="714" text-anchor="middle" font-size="14.41" textLength="26.6" lengthAdjust="spacingAndGlyphs">6°W</text>
<text x="1396.8" y="714" text-anchor="middle" font-size="14.41" textLength="26.6" lengthAdjust="spacingAndGlyphs">3°W</text>
<text x="1445.8" y="714" text-anchor="middle" font-size="14.41" textLength="14.2" lengthAdjust="spacingAndGlyphs">0°</text>
<text x="1494.8" y="714" text-anchor="middle" font-size="14.41" textLength="22.2" lengthAdjust="spacingAndGlyphs">3°E</text>
<text x="1543.8" y="714" text-anchor="middle" font-size="14.41" textLength="22.2" lengthAdjust="spacingAndGlyphs">6°E</text>
<text x="1592.9" y="714" text-anchor="middle" font-size="14.41" textLength="22.2" lengthAdjust="spacingAndGlyphs">9°E</text>
<text x="1445" y="416.8" text-anchor="middle" font-size="15.9" textLength="154.2" lengthAdjust="spacingAndGlyphs">GSMAP 2020-08-24</text>
<rect x="1646.4" y="431.6" width="14.5" height="276.4" fill="url(#vg)"/>
<path d="M1646.4,432.1 L1653.7,416.3 L1660.9,432.1Z" fill="#fde725"/>
<path d="M1646.4,708 L1646.4,431.6 L1653.7,416.3 L1660.9,431.6 L1660.9,708Z" fill="none" stroke="#222" stroke-width="0.9"/>
<line x1="1660.9" y1="708" x2="1665.1" y2="708" stroke="#222" stroke-width="1"/>
<text x="1671.1" y="712.1" text-anchor="start" font-size="14.41" textLength="8" lengthAdjust="spacingAndGlyphs">0</text>
<line x1="1660.9" y1="671.1" x2="1665.1" y2="671.1" stroke="#222" stroke-width="1"/>
<text x="1671.1" y="675.2" text-anchor="start" font-size="14.41" textLength="15.9" lengthAdjust="spacingAndGlyphs">20</text>
<line x1="1660.9" y1="634.3" x2="1665.1" y2="634.3" stroke="#222" stroke-width="1"/>
<text x="1671.1" y="638.4" text-anchor="start" font-size="14.41" textLength="15.9" lengthAdjust="spacingAndGlyphs">40</text>
<line x1="1660.9" y1="597.4" x2="1665.1" y2="597.4" stroke="#222" stroke-width="1"/>
<text x="1671.1" y="601.5" text-anchor="start" font-size="14.41" textLength="15.9" lengthAdjust="spacingAndGlyphs">60</text>
<line x1="1660.9" y1="560.6" x2="1665.1" y2="560.6" stroke="#222" stroke-width="1"/>
<text x="1671.1" y="564.7" text-anchor="start" font-size="14.41" textLength="15.9" lengthAdjust="spacingAndGlyphs">80</text>
<line x1="1660.9" y1="523.7" x2="1665.1" y2="523.7" stroke="#222" stroke-width="1"/>
<text x="1671.1" y="527.8" text-anchor="start" font-size="14.41" textLength="23.9" lengthAdjust="spacingAndGlyphs">100</text>
<line x1="1660.9" y1="486.9" x2="1665.1" y2="486.9" stroke="#222" stroke-width="1"/>
<text x="1671.1" y="491" text-anchor="start" font-size="14.41" textLength="23.9" lengthAdjust="spacingAndGlyphs">120</text>
<line x1="1660.9" y1="450" x2="1665.1" y2="450" stroke="#222" stroke-width="1"/>
<text x="1671.1" y="454.1" text-anchor="start" font-size="14.41" textLength="23.9" lengthAdjust="spacingAndGlyphs">140</text>
</g>
<g id="p8">
<clipPath id="ax8"><rect x="1844.9" y="428.1" width="358.7" height="269.1"/></clipPath>
<g clip-path="url(#ax8)">
<g stroke="#cfcfcf" stroke-width="1.4"><line x1="1877.2" y1="428.1" x2="1877.2" y2="697.2"/><line x1="1926.1" y1="428.1" x2="1926.1" y2="697.2"/><line x1="1974.9" y1="428.1" x2="1974.9" y2="697.2"/><line x1="2023.8" y1="428.1" x2="2023.8" y2="697.2"/><line x1="2072.7" y1="428.1" x2="2072.7" y2="697.2"/><line x1="2121.5" y1="428.1" x2="2121.5" y2="697.2"/><line x1="2170.4" y1="428.1" x2="2170.4" y2="697.2"/><line x1="1844.9" y1="678.3" x2="2203.6" y2="678.3"/><line x1="1844.9" y1="637.3" x2="2203.6" y2="637.3"/><line x1="1844.9" y1="596.2" x2="2203.6" y2="596.2"/><line x1="1844.9" y1="555.1" x2="2203.6" y2="555.1"/><line x1="1844.9" y1="514" x2="2203.6" y2="514"/><line x1="1844.9" y1="473" x2="2203.6" y2="473"/><line x1="1844.9" y1="431.9" x2="2203.6" y2="431.9"/></g>
<path d="M1841.4,609.3 L1844.9,611.2 L1854.5,616.9 L1863.3,625.8 L1872.1,633.5 L1882.2,640.6 L1892.5,644.8 L1900,646.8 L1912.5,640.6 L1927.9,635.5 L1943,632.8 L1958.2,631.7 L1972,633.5 L1980.8,636 L1989.8,639.7 L1999.9,634.6 L2013.7,629.7 L2026.2,624.6 L2038.9,620.8 L2046.6,616.9 L2059.1,614.4 L2074.3,612.6 L2084.4,611.3 L2092.1,612.6 L2099.5,616.9 L2107.2,623.3 L2112.3,630.9 L2116,639.7 L2122.4,646.1 L2135.1,644.8 L2150.2,643 L2161.9,641.9 L2168.3,645 L2175.8,652.4 L2182,661.3 L2184.4,670.1 L2183.8,682.6 L2180.5,690.5 L2176.9,698.1 L2175.3,703 L2175.3,711.2 L1836.5,711.2Z" fill="#98b6e1" fill-opacity="0.94"/>
<path d="M1860.9,503.6 L1863.4,502.7 L1865.1,506.9 L1871.8,506.1 L1875.9,505.2 L1877.6,501.9 L1878.4,496.9 L1886.8,495.2 L1895.1,496.0 L1901.0,498.2 L1906.8,496.0 L1913.5,493.5 L1916.0,490.2 L1911.9,486.0 L1906.8,483.5 L1903.5,478.5 L1901.0,473.5 L1898.5,468.5 L1899.3,463.4 L1901.8,458.4 L1906.0,454.3 L1907.7,448.4 L1911.9,444.2 L1918.5,440.9 L1921.9,438.7 L2012.1,438.7 L2013.0,443.4 L2012.1,449.2 L2015.5,450.9 L2017.5,445.1 L2025.5,444.7 L2035.5,440.1 L2040.5,438.7 L2050.6,438.7 L2053.1,443.4 L2058.9,448.4 L2064.8,450.1 L2060.6,455.1 L2057.2,459.3 L2055.6,462.6 L2063.9,461.8 L2074.0,460.1 L2081.5,460.1 L2084.8,455.9 L2090.7,459.3 L2094.0,461.8 L2092.0,455.1 L2090.7,450.9 L2094.0,445.9 L2094.8,442.6 L2089.8,445.1 L2085.7,448.4 L2082.3,446.7 L2084.8,443.4 L2090.7,440.9 L2094.0,438.7 L2134.1,438.7 L2135.8,443.4 L2140.8,445.1 L2145.8,441.7 L2145.8,438.7 L2154.2,438.7 L2157.5,440.9 L2164.2,439.7 L2172.6,441.7 L2179.2,442.6 L2180.1,446.7 L2174.2,447.6 L2167.5,446.7 L2164.2,449.2 L2165.0,453.4 L2161.7,457.6 L2157.5,460.1 L2154.2,462.6 L2149.2,465.1 L2145.8,468.5 L2150.8,470.1 L2157.5,471.8 L2160.9,476.8 L2164.2,473.5 L2163.4,469.3 L2167.5,467.6 L2174.2,468.5 L2179.2,464.3 L2185.9,465.1 L2185.9,684.6 L2134.1,684.9 L2133.3,680.7 L2130.8,676.5 L2124.1,675.7 L2122.4,671.5 L2124.1,665.7 L2130.8,664.8 L2137.5,664.0 L2140.8,660.7 L2145.8,662.3 L2149.2,658.2 L2154.2,656.5 L2160.9,654.8 L2165.0,653.1 L2163.4,648.1 L2157.5,647.3 L2152.5,648.1 L2149.2,644.8 L2145.8,643.1 L2140.8,645.6 L2134.1,645.6 L2127.4,646.5 L2124.9,643.1 L2126.6,638.1 L2131.6,636.4 L2135.8,633.9 L2145.8,634.8 L2152.5,633.1 L2159.2,631.4 L2164.2,630.6 L2165.9,626.4 L2166.7,621.4 L2164.2,616.4 L2160.9,613.9 L2161.7,608.0 L2157.5,604.7 L2154.2,601.3 L2150.8,601.1 L2145.8,604.4 L2139.1,602.7 L2132.4,603.6 L2127.4,606.9 L2122.4,606.1 L2115.7,607.8 L2109.1,606.9 L2105.7,608.6 L2103.2,603.6 L2101.5,596.9 L2100.7,591.9 L2094.0,590.2 L2087.3,591.0 L2080.6,592.7 L2074.0,593.6 L2072.3,588.5 L2068.9,585.2 L2063.9,586.9 L2058.9,583.5 L2055.6,586.0 L2052.2,588.5 L2049.7,593.6 L2048.9,600.2 L2050.9,606.9 L2049.7,611.9 L2047.2,614.4 L2040.5,617.0 L2037.2,613.6 L2035.5,608.6 L2030.5,610.3 L2025.5,611.9 L2022.2,617.0 L2017.1,618.6 L2010.5,617.0 L2005.4,618.6 L2000.4,617.0 L1999.6,614.4 L2005.4,611.9 L2007.1,607.8 L2012.1,605.3 L2008.8,601.9 L2007.1,596.9 L2012.1,593.6 L2017.1,591.9 L2022.2,590.2 L2023.8,586.9 L2020.5,585.2 L2015.5,584.4 L2012.1,581.9 L2007.1,580.2 L2000.4,579.4 L1993.7,580.2 L1987.1,581.0 L1983.7,583.5 L1980.4,586.9 L1975.4,587.7 L1970.3,584.4 L1967.0,581.9 L1963.7,585.2 L1961.2,590.2 L1958.6,595.2 L1953.6,598.6 L1948.6,601.1 L1943.6,603.6 L1940.3,607.8 L1933.6,608.6 L1928.6,606.1 L1923.6,603.6 L1918.5,606.9 L1913.5,610.3 L1906.8,611.9 L1905.2,617.0 L1901.8,620.3 L1899.3,617.0 L1900.2,610.3 L1898.5,603.6 L1890.1,601.1 L1883.4,601.9 L1880.1,606.9 L1873.4,608.6 L1870.1,605.3 L1865.1,606.9 L1863.4,611.9 L1860.9,611.9Z M2064.8,445.1 L2068.9,440.9 L2075.6,439.7 L2077.3,442.6 L2072.3,445.1 L2070.6,448.4 L2065.6,448.7Z M2031.8,455.4 L2037.2,452.9 L2044.2,454.3 L2043.0,457.6 L2038.0,457.1 L2033.9,458.1Z M2038.0,460.1 L2042.2,459.6 L2041.9,463.4 L2038.5,463.1Z M2048.9,476.8 L2052.2,476.0 L2054.7,480.2 L2051.4,481.8 L2049.2,480.2Z M2053.6,488.5 L2057.2,487.7 L2058.9,493.5 L2057.2,496.0 L2053.9,493.5Z M2083.6,484.3 L2090.7,483.5 L2099.4,482.8 L2099.0,485.2 L2090.7,485.8 L2084.3,486.2Z M2113.2,477.7 L2117.4,476.8 L2119.1,481.8 L2124.1,484.3 L2129.1,487.7 L2133.3,491.9 L2131.6,495.2 L2125.8,493.5 L2120.7,490.2 L2114.1,489.4 L2108.2,490.2 L2107.4,487.7 L2112.4,485.2 L2114.1,481.0Z M1995.4,477.7 L2000.4,476.0 L2006.3,476.8 L2005.4,479.8 L1998.8,479.3Z M1865.9,529.5 L1871.8,527.0 L1875.9,527.8 L1875.1,531.6 L1866.7,531.6Z M1871.8,520.3 L1875.1,520.3 L1875.1,524.4 L1871.8,524.4Z M2106.5,534.5 L2114.1,535.3 L2122.4,534.0 L2123.8,537.0 L2115.7,538.3 L2107.4,537.3Z M2152.5,506.9 L2160.9,505.2 L2167.5,508.6 L2174.2,511.1 L2180.9,515.3 L2184.3,518.6 L2179.2,520.3 L2172.6,516.1 L2165.9,513.6 L2157.5,511.1 L2152.5,510.2Z M2135.8,467.6 L2139.1,467.6 L2139.1,471.0 L2135.8,471.0Z M1918.5,566.8 L1923.6,565.1 L1926.9,570.2 L1933.6,571.8 L1940.3,576.0 L1944.4,579.4 L1940.3,583.5 L1933.6,584.4 L1926.9,586.9 L1920.2,588.5 L1915.2,585.2 L1918.5,580.2 L1922.7,576.0 L1921.9,571.0Z M1906.0,545.9 L1911.9,544.3 L1918.5,542.6 L1925.2,543.4 L1923.6,547.6 L1916.9,550.1 L1910.2,553.4 L1906.8,550.9Z M1861.1,544.3 L1865.1,543.4 L1867.6,549.3 L1863.4,551.8 L1861.1,550.9Z M2027.2,542.6 L2031.3,542.6 L2031.3,545.9 L2027.2,545.9Z M2089.8,535.9 L2094.0,535.9 L2094.0,540.1 L2089.8,540.1Z M2159.5,573.5 L2170.0,571.5 L2170.0,574.3 L2160.0,575.5Z M2109.4,572.7 L2118.7,572.2 L2118.7,574.8 L2109.9,575.2Z M2026.3,577.7 L2032.2,577.7 L2032.2,580.2 L2026.3,580.2Z M2164.2,604.7 L2168.4,604.7 L2168.4,606.7 L2164.2,606.7Z M1992.9,586.9 L2000.4,582.7 L2002.9,583.5 L1994.6,588.5Z M2004.6,618.1 L2010.5,618.1 L2010.5,621.4 L2004.6,621.4Z M1993.7,605.5 L1996.2,605.5 L1996.2,608.0 L1993.7,608.0Z M2104.0,609.7 L2108.2,609.7 L2109.1,616.4 L2101.5,614.7Z M2130.8,613.0 L2134.1,613.0 L2134.1,616.0 L2130.8,616.0Z M2130.8,622.2 L2135.8,622.2 L2135.8,626.4 L2130.8,626.4Z M2074.8,651.5 L2079.0,646.5 L2082.3,639.8 L2087.3,633.9 L2094.0,631.4 L2100.7,628.1 L2107.4,626.4 L2109.1,628.9 L2102.4,631.4 L2097.4,635.6 L2094.0,641.4 L2092.3,648.1 L2087.3,652.3 L2080.6,654.8 L2075.6,654.0Z M2052.2,681.9 L2058.9,681.9 L2058.9,684.9 L2052.2,684.9Z M2061.4,681.9 L2064.8,681.9 L2064.8,684.6 L2061.4,684.6Z M2067.3,681.9 L2074.0,681.9 L2074.0,684.9 L2067.3,684.9Z M2077.3,681.9 L2085.7,681.6 L2085.7,684.9 L2077.3,684.9Z M2071.5,671.5 L2077.3,669.0 L2085.7,668.2 L2085.7,671.5 L2077.3,673.2 L2072.3,674.9Z M2058.9,663.2 L2061.4,663.2 L2061.4,667.4 L2058.9,667.4Z M2063.9,661.5 L2066.4,661.5 L2066.4,664.0 L2063.9,664.0Z M2068.9,660.7 L2072.0,660.7 L2072.0,663.2 L2068.9,663.2Z M2021.8,664.0 L2023.8,661.5 L2025.8,662.3 L2023.8,669.9 L2021.3,669.0Z M2022.2,641.4 L2025.5,641.4 L2025.5,645.6 L2022.2,645.6Z M2031.8,644.0 L2034.7,644.0 L2034.7,646.1 L2031.8,646.1Z M2043.9,630.6 L2048.9,630.6 L2048.9,633.9 L2043.9,633.9Z M2056.4,623.9 L2063.9,621.4 L2064.8,623.1 L2058.1,626.1Z M2054.7,648.1 L2057.2,647.3 L2063.9,645.3 L2064.8,647.3 L2057.2,650.1Z M1924.4,655.7 L1927.7,655.7 L1927.7,659.0 L1924.4,659.0Z M1932.7,655.7 L1936.9,655.7 L1936.9,659.0 L1932.7,659.0Z M1939.4,659.8 L1944.4,659.8 L1944.4,662.3 L1939.4,662.3Z M1949.5,659.8 L1953.6,659.8 L1953.6,662.3 L1949.5,662.3Z M1902.7,660.7 L1912.7,660.7 L1912.7,663.2 L1902.7,663.2Z M1890.1,664.8 L1893.5,664.5 L1896.0,667.4 L1900.2,666.5 L1901.0,669.0 L1896.8,670.2 L1891.8,668.2Z M1949.5,639.8 L1954.5,639.8 L1954.5,642.3 L1949.5,642.3Z M1962.0,639.8 L1967.0,639.8 L1967.0,641.8 L1962.0,641.8Z M1972.0,641.4 L1976.2,641.4 L1976.2,645.6 L1972.0,645.6Z M1982.0,637.3 L1987.1,637.3 L1987.1,640.6 L1982.0,640.6Z M1860.4,645.6 L1863.4,642.3 L1866.7,641.8 L1867.6,644.8 L1862.6,648.1Z M1860.9,630.6 L1863.4,630.6 L1863.4,633.1 L1860.9,633.1Z M1878.8,641.4 L1883.4,638.9 L1888.5,643.1 L1893.5,647.3 L1891.8,650.6 L1886.8,652.3 L1881.8,648.1 L1879.3,645.6Z M1861.2,613.4 L1868.4,613.0 L1871.8,614.7 L1870.1,616.7 L1865.1,616.0 L1861.2,615.4Z M1866.7,619.7 L1875.1,618.1 L1878.4,624.7 L1873.4,626.4 L1868.4,624.7Z M1884.3,617.2 L1890.1,617.2 L1890.1,623.1 L1884.3,623.1Z M1878.4,626.4 L1883.4,626.4 L1884.3,633.9 L1879.3,633.9Z M1894.3,623.1 L1898.5,623.1 L1898.5,631.4 L1894.3,631.4Z" fill="#48076b" fill-rule="evenodd"/>
<clipPath id="bc8"><path d="M1860.9,503.6 L1863.4,502.7 L1865.1,506.9 L1871.8,506.1 L1875.9,505.2 L1877.6,501.9 L1878.4,496.9 L1886.8,495.2 L1895.1,496.0 L1901.0,498.2 L1906.8,496.0 L1913.5,493.5 L1916.0,490.2 L1911.9,486.0 L1906.8,483.5 L1903.5,478.5 L1901.0,473.5 L1898.5,468.5 L1899.3,463.4 L1901.8,458.4 L1906.0,454.3 L1907.7,448.4 L1911.9,444.2 L1918.5,440.9 L1921.9,438.7 L2012.1,438.7 L2013.0,443.4 L2012.1,449.2 L2015.5,450.9 L2017.5,445.1 L2025.5,444.7 L2035.5,440.1 L2040.5,438.7 L2050.6,438.7 L2053.1,443.4 L2058.9,448.4 L2064.8,450.1 L2060.6,455.1 L2057.2,459.3 L2055.6,462.6 L2063.9,461.8 L2074.0,460.1 L2081.5,460.1 L2084.8,455.9 L2090.7,459.3 L2094.0,461.8 L2092.0,455.1 L2090.7,450.9 L2094.0,445.9 L2094.8,442.6 L2089.8,445.1 L2085.7,448.4 L2082.3,446.7 L2084.8,443.4 L2090.7,440.9 L2094.0,438.7 L2134.1,438.7 L2135.8,443.4 L2140.8,445.1 L2145.8,441.7 L2145.8,438.7 L2154.2,438.7 L2157.5,440.9 L2164.2,439.7 L2172.6,441.7 L2179.2,442.6 L2180.1,446.7 L2174.2,447.6 L2167.5,446.7 L2164.2,449.2 L2165.0,453.4 L2161.7,457.6 L2157.5,460.1 L2154.2,462.6 L2149.2,465.1 L2145.8,468.5 L2150.8,470.1 L2157.5,471.8 L2160.9,476.8 L2164.2,473.5 L2163.4,469.3 L2167.5,467.6 L2174.2,468.5 L2179.2,464.3 L2185.9,465.1 L2185.9,684.6 L2134.1,684.9 L2133.3,680.7 L2130.8,676.5 L2124.1,675.7 L2122.4,671.5 L2124.1,665.7 L2130.8,664.8 L2137.5,664.0 L2140.8,660.7 L2145.8,662.3 L2149.2,658.2 L2154.2,656.5 L2160.9,654.8 L2165.0,653.1 L2163.4,648.1 L2157.5,647.3 L2152.5,648.1 L2149.2,644.8 L2145.8,643.1 L2140.8,645.6 L2134.1,645.6 L2127.4,646.5 L2124.9,643.1 L2126.6,638.1 L2131.6,636.4 L2135.8,633.9 L2145.8,634.8 L2152.5,633.1 L2159.2,631.4 L2164.2,630.6 L2165.9,626.4 L2166.7,621.4 L2164.2,616.4 L2160.9,613.9 L2161.7,608.0 L2157.5,604.7 L2154.2,601.3 L2150.8,601.1 L2145.8,604.4 L2139.1,602.7 L2132.4,603.6 L2127.4,606.9 L2122.4,606.1 L2115.7,607.8 L2109.1,606.9 L2105.7,608.6 L2103.2,603.6 L2101.5,596.9 L2100.7,591.9 L2094.0,590.2 L2087.3,591.0 L2080.6,592.7 L2074.0,593.6 L2072.3,588.5 L2068.9,585.2 L2063.9,586.9 L2058.9,583.5 L2055.6,586.0 L2052.2,588.5 L2049.7,593.6 L2048.9,600.2 L2050.9,606.9 L2049.7,611.9 L2047.2,614.4 L2040.5,617.0 L2037.2,613.6 L2035.5,608.6 L2030.5,610.3 L2025.5,611.9 L2022.2,617.0 L2017.1,618.6 L2010.5,617.0 L2005.4,618.6 L2000.4,617.0 L1999.6,614.4 L2005.4,611.9 L2007.1,607.8 L2012.1,605.3 L2008.8,601.9 L2007.1,596.9 L2012.1,593.6 L2017.1,591.9 L2022.2,590.2 L2023.8,586.9 L2020.5,585.2 L2015.5,584.4 L2012.1,581.9 L2007.1,580.2 L2000.4,579.4 L1993.7,580.2 L1987.1,581.0 L1983.7,583.5 L1980.4,586.9 L1975.4,587.7 L1970.3,584.4 L1967.0,581.9 L1963.7,585.2 L1961.2,590.2 L1958.6,595.2 L1953.6,598.6 L1948.6,601.1 L1943.6,603.6 L1940.3,607.8 L1933.6,608.6 L1928.6,606.1 L1923.6,603.6 L1918.5,606.9 L1913.5,610.3 L1906.8,611.9 L1905.2,617.0 L1901.8,620.3 L1899.3,617.0 L1900.2,610.3 L1898.5,603.6 L1890.1,601.1 L1883.4,601.9 L1880.1,606.9 L1873.4,608.6 L1870.1,605.3 L1865.1,606.9 L1863.4,611.9 L1860.9,611.9Z M2064.8,445.1 L2068.9,440.9 L2075.6,439.7 L2077.3,442.6 L2072.3,445.1 L2070.6,448.4 L2065.6,448.7Z M2031.8,455.4 L2037.2,452.9 L2044.2,454.3 L2043.0,457.6 L2038.0,457.1 L2033.9,458.1Z M2038.0,460.1 L2042.2,459.6 L2041.9,463.4 L2038.5,463.1Z M2048.9,476.8 L2052.2,476.0 L2054.7,480.2 L2051.4,481.8 L2049.2,480.2Z M2053.6,488.5 L2057.2,487.7 L2058.9,493.5 L2057.2,496.0 L2053.9,493.5Z M2083.6,484.3 L2090.7,483.5 L2099.4,482.8 L2099.0,485.2 L2090.7,485.8 L2084.3,486.2Z M2113.2,477.7 L2117.4,476.8 L2119.1,481.8 L2124.1,484.3 L2129.1,487.7 L2133.3,491.9 L2131.6,495.2 L2125.8,493.5 L2120.7,490.2 L2114.1,489.4 L2108.2,490.2 L2107.4,487.7 L2112.4,485.2 L2114.1,481.0Z M1995.4,477.7 L2000.4,476.0 L2006.3,476.8 L2005.4,479.8 L1998.8,479.3Z M1865.9,529.5 L1871.8,527.0 L1875.9,527.8 L1875.1,531.6 L1866.7,531.6Z M1871.8,520.3 L1875.1,520.3 L1875.1,524.4 L1871.8,524.4Z M2106.5,534.5 L2114.1,535.3 L2122.4,534.0 L2123.8,537.0 L2115.7,538.3 L2107.4,537.3Z M2152.5,506.9 L2160.9,505.2 L2167.5,508.6 L2174.2,511.1 L2180.9,515.3 L2184.3,518.6 L2179.2,520.3 L2172.6,516.1 L2165.9,513.6 L2157.5,511.1 L2152.5,510.2Z M2135.8,467.6 L2139.1,467.6 L2139.1,471.0 L2135.8,471.0Z M1918.5,566.8 L1923.6,565.1 L1926.9,570.2 L1933.6,571.8 L1940.3,576.0 L1944.4,579.4 L1940.3,583.5 L1933.6,584.4 L1926.9,586.9 L1920.2,588.5 L1915.2,585.2 L1918.5,580.2 L1922.7,576.0 L1921.9,571.0Z M1906.0,545.9 L1911.9,544.3 L1918.5,542.6 L1925.2,543.4 L1923.6,547.6 L1916.9,550.1 L1910.2,553.4 L1906.8,550.9Z M1861.1,544.3 L1865.1,543.4 L1867.6,549.3 L1863.4,551.8 L1861.1,550.9Z M2027.2,542.6 L2031.3,542.6 L2031.3,545.9 L2027.2,545.9Z M2089.8,535.9 L2094.0,535.9 L2094.0,540.1 L2089.8,540.1Z M2159.5,573.5 L2170.0,571.5 L2170.0,574.3 L2160.0,575.5Z M2109.4,572.7 L2118.7,572.2 L2118.7,574.8 L2109.9,575.2Z M2026.3,577.7 L2032.2,577.7 L2032.2,580.2 L2026.3,580.2Z M2164.2,604.7 L2168.4,604.7 L2168.4,606.7 L2164.2,606.7Z M1992.9,586.9 L2000.4,582.7 L2002.9,583.5 L1994.6,588.5Z M2004.6,618.1 L2010.5,618.1 L2010.5,621.4 L2004.6,621.4Z M1993.7,605.5 L1996.2,605.5 L1996.2,608.0 L1993.7,608.0Z M2104.0,609.7 L2108.2,609.7 L2109.1,616.4 L2101.5,614.7Z M2130.8,613.0 L2134.1,613.0 L2134.1,616.0 L2130.8,616.0Z M2130.8,622.2 L2135.8,622.2 L2135.8,626.4 L2130.8,626.4Z M2074.8,651.5 L2079.0,646.5 L2082.3,639.8 L2087.3,633.9 L2094.0,631.4 L2100.7,628.1 L2107.4,626.4 L2109.1,628.9 L2102.4,631.4 L2097.4,635.6 L2094.0,641.4 L2092.3,648.1 L2087.3,652.3 L2080.6,654.8 L2075.6,654.0Z M2052.2,681.9 L2058.9,681.9 L2058.9,684.9 L2052.2,684.9Z M2061.4,681.9 L2064.8,681.9 L2064.8,684.6 L2061.4,684.6Z M2067.3,681.9 L2074.0,681.9 L2074.0,684.9 L2067.3,684.9Z M2077.3,681.9 L2085.7,681.6 L2085.7,684.9 L2077.3,684.9Z M2071.5,671.5 L2077.3,669.0 L2085.7,668.2 L2085.7,671.5 L2077.3,673.2 L2072.3,674.9Z M2058.9,663.2 L2061.4,663.2 L2061.4,667.4 L2058.9,667.4Z M2063.9,661.5 L2066.4,661.5 L2066.4,664.0 L2063.9,664.0Z M2068.9,660.7 L2072.0,660.7 L2072.0,663.2 L2068.9,663.2Z M2021.8,664.0 L2023.8,661.5 L2025.8,662.3 L2023.8,669.9 L2021.3,669.0Z M2022.2,641.4 L2025.5,641.4 L2025.5,645.6 L2022.2,645.6Z M2031.8,644.0 L2034.7,644.0 L2034.7,646.1 L2031.8,646.1Z M2043.9,630.6 L2048.9,630.6 L2048.9,633.9 L2043.9,633.9Z M2056.4,623.9 L2063.9,621.4 L2064.8,623.1 L2058.1,626.1Z M2054.7,648.1 L2057.2,647.3 L2063.9,645.3 L2064.8,647.3 L2057.2,650.1Z M1924.4,655.7 L1927.7,655.7 L1927.7,659.0 L1924.4,659.0Z M1932.7,655.7 L1936.9,655.7 L1936.9,659.0 L1932.7,659.0Z M1939.4,659.8 L1944.4,659.8 L1944.4,662.3 L1939.4,662.3Z M1949.5,659.8 L1953.6,659.8 L1953.6,662.3 L1949.5,662.3Z M1902.7,660.7 L1912.7,660.7 L1912.7,663.2 L1902.7,663.2Z M1890.1,664.8 L1893.5,664.5 L1896.0,667.4 L1900.2,666.5 L1901.0,669.0 L1896.8,670.2 L1891.8,668.2Z M1949.5,639.8 L1954.5,639.8 L1954.5,642.3 L1949.5,642.3Z M1962.0,639.8 L1967.0,639.8 L1967.0,641.8 L1962.0,641.8Z M1972.0,641.4 L1976.2,641.4 L1976.2,645.6 L1972.0,645.6Z M1982.0,637.3 L1987.1,637.3 L1987.1,640.6 L1982.0,640.6Z M1860.4,645.6 L1863.4,642.3 L1866.7,641.8 L1867.6,644.8 L1862.6,648.1Z M1860.9,630.6 L1863.4,630.6 L1863.4,633.1 L1860.9,633.1Z M1878.8,641.4 L1883.4,638.9 L1888.5,643.1 L1893.5,647.3 L1891.8,650.6 L1886.8,652.3 L1881.8,648.1 L1879.3,645.6Z M1861.2,613.4 L1868.4,613.0 L1871.8,614.7 L1870.1,616.7 L1865.1,616.0 L1861.2,615.4Z M1866.7,619.7 L1875.1,618.1 L1878.4,624.7 L1873.4,626.4 L1868.4,624.7Z M1884.3,617.2 L1890.1,617.2 L1890.1,623.1 L1884.3,623.1Z M1878.4,626.4 L1883.4,626.4 L1884.3,633.9 L1879.3,633.9Z M1894.3,623.1 L1898.5,623.1 L1898.5,631.4 L1894.3,631.4Z" clip-rule="evenodd"/></clipPath>
<g clip-path="url(#bc8)">
<ellipse cx="2023.9" cy="511.9" rx="91.9" ry="55.2" fill="#472f7c" filter="url(#bl12)"/>
<ellipse cx="1941.1" cy="475.2" rx="30.6" ry="18.4" fill="#3c4f8a" filter="url(#bl8)"/>
<ellipse cx="1931.9" cy="499.7" rx="33.7" ry="10.7" fill="#3f4888" filter="url(#bl8)" transform="rotate(-15 1931.9 499.7)"/>
<ellipse cx="2115.8" cy="505.8" rx="30.6" ry="9.2" fill="#46337f" filter="url(#bl8)"/>
<ellipse cx="2060.7" cy="539.5" rx="15.3" ry="7.7" fill="#443b83" filter="url(#bl8)"/>
<ellipse cx="1944.2" cy="459.8" rx="7.7" ry="5.5" fill="#22a884" filter="url(#bl5)"/>
<ellipse cx="1921.2" cy="456.8" rx="6.1" ry="6.1" fill="#2b758e" filter="url(#bl5)"/>
<ellipse cx="2005.5" cy="521.1" rx="21.5" ry="7.7" fill="#375a8c" filter="url(#bl5)"/>
<ellipse cx="2017.8" cy="528.8" rx="3.7" ry="3.7" fill="#31688e" filter="url(#bl3)"/>
<ellipse cx="2002.4" cy="557.9" rx="9.2" ry="9.2" fill="#355f8d" filter="url(#bl5)"/>
<ellipse cx="1889" cy="551.8" rx="9.2" ry="12.3" fill="#3b538b" filter="url(#bl5)"/>
<ellipse cx="1901.3" cy="573.2" rx="7.7" ry="6.1" fill="#39568c" filter="url(#bl5)"/>
<ellipse cx="1879.8" cy="564" rx="6.1" ry="6.1" fill="#414487" filter="url(#bl5)"/>
<ellipse cx="2167.5" cy="678.2" rx="13.4" ry="5" fill="#297b8e" filter="url(#bl5)"/>
<ellipse cx="2157.5" cy="673.2" rx="13.4" ry="4.2" fill="#1f9e88" filter="url(#bl5)" transform="rotate(-15 2157.5 673.2)"/>
<ellipse cx="2177.6" cy="614.7" rx="5" ry="13.4" fill="#414487" filter="url(#bl8)"/>
<g stroke="rgba(205,165,225,0.62)" stroke-width="1.5"><line x1="1877.2" y1="428.1" x2="1877.2" y2="697.2"/><line x1="1926.1" y1="428.1" x2="1926.1" y2="697.2"/><line x1="1974.9" y1="428.1" x2="1974.9" y2="697.2"/><line x1="2023.8" y1="428.1" x2="2023.8" y2="697.2"/><line x1="2072.7" y1="428.1" x2="2072.7" y2="697.2"/><line x1="2121.5" y1="428.1" x2="2121.5" y2="697.2"/><line x1="2170.4" y1="428.1" x2="2170.4" y2="697.2"/><line x1="1844.9" y1="678.3" x2="2203.6" y2="678.3"/><line x1="1844.9" y1="637.3" x2="2203.6" y2="637.3"/><line x1="1844.9" y1="596.2" x2="2203.6" y2="596.2"/><line x1="1844.9" y1="555.1" x2="2203.6" y2="555.1"/><line x1="1844.9" y1="514" x2="2203.6" y2="514"/><line x1="1844.9" y1="473" x2="2203.6" y2="473"/><line x1="1844.9" y1="431.9" x2="2203.6" y2="431.9"/></g>
</g>
<path d="M1899.7,645.5 L1901.8,636.1 L1903.1,625.1 L1898,618.5 L1891.5,614.1 L1884.8,611.5 L1883.9,608.5 L1887.1,603.1 L1884.8,596.4 L1887.1,588.6 L1891.5,584.2 L1895.9,578.8 L1897.1,573.2 L1893.6,567.8 L1891.5,561 L1890.4,554.5 L1891.5,548.9" fill="none" stroke="#15151c" stroke-width="1.2" stroke-linejoin="round"/>
<path d="M1891.5,548.9 L1898,550 L1903.6,547.9 L1910.3,545.6 L1915.6,544.4 L1920.2,542.3 L1921.7,547.9 L1926.7,549.5 L1932.3,546.7 L1937.8,550 L1943.2,554.5 L1949.8,557.8 L1956.4,558.9 L1963,556.8 L1969.7,556.3 L1976.2,558.9" fill="none" stroke="#15151c" stroke-width="1.2" stroke-linejoin="round"/>
<path d="M1976.2,558.9 L1977.4,565.5 L1979.5,574.3 L1980.6,583.2 L1977.4,591.9 L1974.1,598.7 L1971.3,605.2 L1970.7,614.1 L1973,623 L1976.2,627.4 L1976.2,632.8" fill="none" stroke="#15151c" stroke-width="1.2" stroke-linejoin="round"/>
<path d="M1884.8,596 L1880.4,596.4 L1877.2,599 L1872.8,595.4 L1869.5,587.7 L1867.3,580.9 L1861.7,579.3 L1855.2,580.9 L1851.9,579.9" fill="none" stroke="#15151c" stroke-width="1.2" stroke-linejoin="round"/>
<path d="M1851.9,579.9 L1849.7,572 L1847.5,565.5 L1845.3,562.2 L1843,556.8" fill="none" stroke="#15151c" stroke-width="1.2" stroke-linejoin="round"/>
<path d="M1851.9,579.9 L1848.5,585.4 L1845.3,589.8 L1841.4,594.6" fill="none" stroke="#15151c" stroke-width="1.2" stroke-linejoin="round"/>
<path d="M2039.6,617.4 L2034.6,611 L2032.1,599.8 L2032.8,587.2 L2030.8,574.7 L2029.5,564.7 L2028.4,554.6 L2023.8,545.3 L2021.8,537.1" fill="none" stroke="#15151c" stroke-width="1.2" stroke-linejoin="round"/>
<path d="M2050.8,613.6 L2049.5,599.8 L2048.7,587.2 L2048.2,574.7 L2047.1,562.2 L2045.8,552.2 L2038.5,538.7" fill="none" stroke="#15151c" stroke-width="1.2" stroke-linejoin="round"/>
<path d="M2067.8,611.8 L2067.8,599.8 L2068.3,587.2 L2068.8,570.9 L2073.3,567.1 L2075.8,559.6 L2079.5,552.2 L2082,547.1 L2085.7,542 L2082.4,533.8 L2082.8,527.2" fill="none" stroke="#15151c" stroke-width="1.2" stroke-linejoin="round"/>
<path d="M2161.9,640.4 L2165.7,632.3 L2169.4,619.9 L2178.2,609.8 L2188.2,604.7 L2195.7,602.3 L2202,606.1 L2207.9,609.3" fill="none" stroke="#15151c" stroke-width="1.2" stroke-linejoin="round"/>
<path d="M2183.8,682.6 L2207.9,682.6" fill="none" stroke="#15151c" stroke-width="1.2" stroke-linejoin="round"/>
<path d="M1841.4,469.7 L1844.6,468.4 L1849.2,465.7 L1858.1,465.1 L1867.1,465.1 L1870.5,462.1 L1872.6,464.4 L1889.6,463.9 L1912.1,463.9 L1933.4,463.9 L1936.3,457.2 L1936.3,448.2 L1932.3,439.1 L1930,425.3" fill="none" stroke="#15151c" stroke-width="1.2" stroke-linejoin="round"/>
<path d="M1841.4,515.7 L1844.6,518 L1849.2,521.4 L1853.6,519.1 L1859.3,517.5 L1869.4,515.7 L1878.3,518 L1880.6,524.7 L1885,531.5 L1886.1,538.2 L1889.6,545.1 L1891.5,548.9" fill="none" stroke="#15151c" stroke-width="1.2" stroke-linejoin="round"/>
<path d="M1933.4,547.7 L1935.7,536.1 L1938.9,522.4 L1950.2,515.7 L1952.4,502.2 L1966,493.2 L1974.9,484.1 L1988.5,477.4 L2006.4,474.1 L2018.9,472.2 L2028.7,473.8" fill="none" stroke="#15151c" stroke-width="1.2" stroke-linejoin="round"/>
<path d="M2028.7,473.8 L2029.3,484.6 L2039.1,497.1 L2049,507 L2059,514.5 L2059.6,520.6 L2062.9,523.9" fill="none" stroke="#15151c" stroke-width="1.2" stroke-linejoin="round"/>
<path d="M1976.2,558.9 L1978.2,550.2 L1976.6,540.3 L1991.2,538.7 L2004.3,538.7 L2015.7,537.9 L2021.8,537.1 L2031.9,538.7 L2038.5,538.7 L2046.6,531.3 L2056.4,531.3 L2062.9,523.9" fill="none" stroke="#15151c" stroke-width="1.2" stroke-linejoin="round"/>
<path d="M2062.9,523.9 L2070.2,516.5 L2082.8,527.2" fill="none" stroke="#15151c" stroke-width="1.2" stroke-linejoin="round"/>
<path d="M2082.8,527.2 L2084.1,514 L2086.7,507 L2091.1,498.1 L2097.8,493.7 L2106.7,492.5 L2113.4,494.8 L2122.4,497 L2131.2,499.3 L2140.1,502.5 L2149.1,500.4 L2158,501.4 L2166.8,504.8 L2175.8,505.8 L2184.7,502.5 L2193.5,499.9 L2207.9,499.3" fill="none" stroke="#15151c" stroke-width="1.2" stroke-linejoin="round"/>
<path d="M2028.7,473.8 L2039.1,469.7 L2063.9,466.1 L2076.3,462.3 L2083.6,457.4 L2088.5,447.3 L2092.2,441.8 L2092.2,425.3" fill="none" stroke="#15151c" stroke-width="1.2" stroke-linejoin="round"/>
<path d="M2161.5,662.7 L2163.1,666 L2166.3,665.2 L2169.6,659.5 L2168,657 L2164.7,657.8Z" fill="none" stroke="#111" stroke-width="1.1"/>
<circle cx="2144.3" cy="692.6" r="1.5" fill="#14142a"/>
<path d="M1841.4,609.3 L1844.9,611.2 L1854.5,616.9 L1863.3,625.8 L1872.1,633.5 L1882.2,640.6 L1892.5,644.8 L1900,646.8 L1912.5,640.6 L1927.9,635.5 L1943,632.8 L1958.2,631.7 L1972,633.5 L1980.8,636 L1989.8,639.7 L1999.9,634.6 L2013.7,629.7 L2026.2,624.6 L2038.9,620.8 L2046.6,616.9 L2059.1,614.4 L2074.3,612.6 L2084.4,611.3 L2092.1,612.6 L2099.5,616.9 L2107.2,623.3 L2112.3,630.9 L2116,639.7 L2122.4,646.1 L2135.1,644.8 L2150.2,643 L2161.9,641.9 L2168.3,645 L2175.8,652.4 L2182,661.3 L2184.4,670.1 L2183.8,682.6 L2180.5,690.5 L2176.9,698.1 L2175.3,703" fill="none" stroke="#161a22" stroke-width="1.4" stroke-linejoin="round"/>
</g>
<rect x="1844.9" y="428.1" width="358.7" height="269.1" fill="none" stroke="#333" stroke-width="1.35"/>
<text x="1835.9" y="681.9" text-anchor="end" font-size="14.37" textLength="35.5" lengthAdjust="spacingAndGlyphs">2.5°N</text>
<text x="1835.9" y="640.9" text-anchor="end" font-size="14.37" textLength="23.6" lengthAdjust="spacingAndGlyphs">5°N</text>
<text x="1835.9" y="599.8" text-anchor="end" font-size="14.37" textLength="35.5" lengthAdjust="spacingAndGlyphs">7.5°N</text>
<text x="1835.9" y="558.7" text-anchor="end" font-size="14.37" textLength="31.5" lengthAdjust="spacingAndGlyphs">10°N</text>
<text x="1835.9" y="517.6" text-anchor="end" font-size="14.37" textLength="43.4" lengthAdjust="spacingAndGlyphs">12.5°N</text>
<text x="1835.9" y="476.6" text-anchor="end" font-size="14.37" textLength="31.5" lengthAdjust="spacingAndGlyphs">15°N</text>
<text x="1835.9" y="435.5" text-anchor="end" font-size="14.37" textLength="43.4" lengthAdjust="spacingAndGlyphs">17.5°N</text>
<text x="1877.2" y="714" text-anchor="middle" font-size="14.37" textLength="26.6" lengthAdjust="spacingAndGlyphs">9°W</text>
<text x="1926.1" y="714" text-anchor="middle" font-size="14.37" textLength="26.6" lengthAdjust="spacingAndGlyphs">6°W</text>
<text x="1974.9" y="714" text-anchor="middle" font-size="14.37" textLength="26.6" lengthAdjust="spacingAndGlyphs">3°W</text>
<text x="2023.8" y="714" text-anchor="middle" font-size="14.37" textLength="14.2" lengthAdjust="spacingAndGlyphs">0°</text>
<text x="2072.7" y="714" text-anchor="middle" font-size="14.37" textLength="22.1" lengthAdjust="spacingAndGlyphs">3°E</text>
<text x="2121.5" y="714" text-anchor="middle" font-size="14.37" textLength="22.1" lengthAdjust="spacingAndGlyphs">6°E</text>
<text x="2170.4" y="714" text-anchor="middle" font-size="14.37" textLength="22.1" lengthAdjust="spacingAndGlyphs">9°E</text>
<text x="2023" y="416.8" text-anchor="middle" font-size="15.85" textLength="153.7" lengthAdjust="spacingAndGlyphs">GSMAP 2020-08-27</text>
<rect x="2226.2" y="417.3" width="13.5" height="291.4" fill="url(#vg)"/>
<rect x="2226.2" y="417.3" width="13.5" height="291.4" fill="none" stroke="#222" stroke-width="0.9"/>
<line x1="2239.7" y1="708.7" x2="2243.9" y2="708.7" stroke="#222" stroke-width="1"/>
<text x="2249.9" y="712.8" text-anchor="start" font-size="14.37" textLength="8" lengthAdjust="spacingAndGlyphs">0</text>
<line x1="2239.7" y1="669.8" x2="2243.9" y2="669.8" stroke="#222" stroke-width="1"/>
<text x="2249.9" y="673.9" text-anchor="start" font-size="14.37" textLength="15.9" lengthAdjust="spacingAndGlyphs">20</text>
<line x1="2239.7" y1="631" x2="2243.9" y2="631" stroke="#222" stroke-width="1"/>
<text x="2249.9" y="635.1" text-anchor="start" font-size="14.37" textLength="15.9" lengthAdjust="spacingAndGlyphs">40</text>
<line x1="2239.7" y1="592.1" x2="2243.9" y2="592.1" stroke="#222" stroke-width="1"/>
<text x="2249.9" y="596.2" text-anchor="start" font-size="14.37" textLength="15.9" lengthAdjust="spacingAndGlyphs">60</text>
<line x1="2239.7" y1="553.3" x2="2243.9" y2="553.3" stroke="#222" stroke-width="1"/>
<text x="2249.9" y="557.4" text-anchor="start" font-size="14.37" textLength="15.9" lengthAdjust="spacingAndGlyphs">80</text>
<line x1="2239.7" y1="514.4" x2="2243.9" y2="514.4" stroke="#222" stroke-width="1"/>
<text x="2249.9" y="518.5" text-anchor="start" font-size="14.37" textLength="23.9" lengthAdjust="spacingAndGlyphs">100</text>
<line x1="2239.7" y1="475.6" x2="2243.9" y2="475.6" stroke="#222" stroke-width="1"/>
<text x="2249.9" y="479.7" text-anchor="start" font-size="14.37" textLength="23.9" lengthAdjust="spacingAndGlyphs">120</text>
<line x1="2239.7" y1="436.7" x2="2243.9" y2="436.7" stroke="#222" stroke-width="1"/>
<text x="2249.9" y="440.8" text-anchor="start" font-size="14.37" textLength="23.9" lengthAdjust="spacingAndGlyphs">140</text>
</g>
</svg></body></html>
